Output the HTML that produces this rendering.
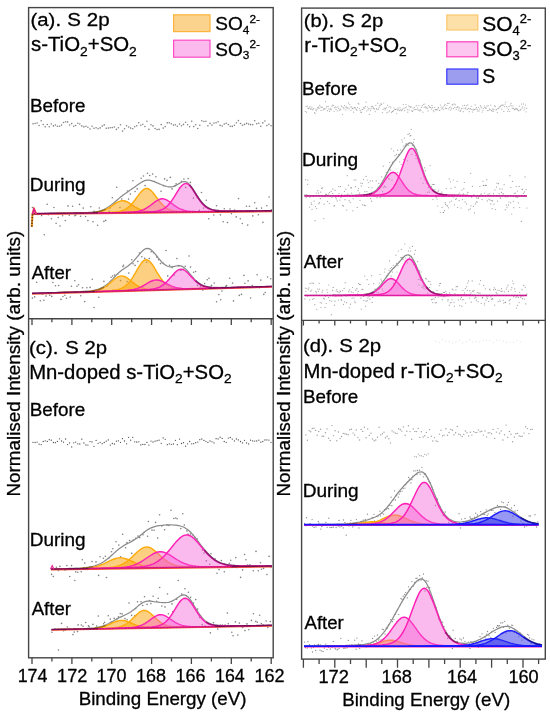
<!DOCTYPE html>
<html lang="en"><head><meta charset="utf-8"><title>S 2p XPS spectra</title>
<style>html,body{margin:0;padding:0;background:#fff}svg{display:block}text{font-family:"Liberation Sans",Arial,Helvetica,sans-serif;fill:#000}</style>
</head><body>
<svg width="550" height="716" viewBox="0 0 550 716">
<rect width="550" height="716" fill="#fff"/>
<g fill="#777" fill-opacity="0.9">
<circle cx="33" cy="123.8" r="0.8"/><circle cx="35.1" cy="123.5" r="0.8"/><circle cx="37.1" cy="123" r="0.8"/><circle cx="39.1" cy="125.5" r="0.8"/><circle cx="41.2" cy="120.7" r="0.8"/><circle cx="43.2" cy="124.5" r="0.8"/><circle cx="45.2" cy="126.8" r="0.8"/><circle cx="47.3" cy="124.5" r="0.8"/><circle cx="49.3" cy="126.7" r="0.8"/><circle cx="51.3" cy="124" r="0.8"/><circle cx="53.4" cy="125.9" r="0.8"/><circle cx="55.4" cy="125" r="0.8"/><circle cx="57.4" cy="126.3" r="0.8"/><circle cx="59.5" cy="126.3" r="0.8"/><circle cx="61.5" cy="125.1" r="0.8"/><circle cx="63.5" cy="122.5" r="0.8"/><circle cx="65.6" cy="121.8" r="0.8"/><circle cx="67.6" cy="121.9" r="0.8"/><circle cx="69.6" cy="125" r="0.8"/><circle cx="71.7" cy="123.6" r="0.8"/><circle cx="73.7" cy="126.2" r="0.8"/><circle cx="75.7" cy="125.5" r="0.8"/><circle cx="77.8" cy="123.3" r="0.8"/><circle cx="79.8" cy="124" r="0.8"/><circle cx="81.8" cy="125.9" r="0.8"/><circle cx="83.9" cy="126.9" r="0.8"/><circle cx="85.9" cy="126.3" r="0.8"/><circle cx="87.9" cy="127.3" r="0.8"/><circle cx="90" cy="129" r="0.8"/><circle cx="92" cy="126.2" r="0.8"/><circle cx="94" cy="128.2" r="0.8"/><circle cx="96.1" cy="127.7" r="0.8"/><circle cx="98.1" cy="128.8" r="0.8"/><circle cx="100.1" cy="127.9" r="0.8"/><circle cx="102.2" cy="126.1" r="0.8"/><circle cx="104.2" cy="124.9" r="0.8"/><circle cx="106.2" cy="128.3" r="0.8"/><circle cx="108.3" cy="128.1" r="0.8"/><circle cx="110.3" cy="127.8" r="0.8"/><circle cx="112.3" cy="127.6" r="0.8"/><circle cx="114.4" cy="127" r="0.8"/><circle cx="116.4" cy="129.4" r="0.8"/><circle cx="118.4" cy="127.7" r="0.8"/><circle cx="120.5" cy="124.7" r="0.8"/><circle cx="122.5" cy="131.1" r="0.8"/><circle cx="124.5" cy="128.8" r="0.8"/><circle cx="126.6" cy="125.7" r="0.8"/><circle cx="128.6" cy="127" r="0.8"/><circle cx="130.6" cy="128.1" r="0.8"/><circle cx="132.7" cy="128.7" r="0.8"/><circle cx="134.7" cy="126.7" r="0.8"/><circle cx="136.7" cy="125.7" r="0.8"/><circle cx="138.8" cy="122.7" r="0.8"/><circle cx="140.8" cy="125.3" r="0.8"/><circle cx="142.8" cy="124.2" r="0.8"/><circle cx="144.9" cy="126.5" r="0.8"/><circle cx="146.9" cy="121.3" r="0.8"/><circle cx="148.9" cy="129.4" r="0.8"/><circle cx="151" cy="124.8" r="0.8"/><circle cx="153" cy="125.9" r="0.8"/><circle cx="155.1" cy="128.5" r="0.8"/><circle cx="157.1" cy="129.5" r="0.8"/><circle cx="159.1" cy="129.4" r="0.8"/><circle cx="161.2" cy="124.6" r="0.8"/><circle cx="163.2" cy="128.1" r="0.8"/><circle cx="165.2" cy="126.6" r="0.8"/><circle cx="167.3" cy="122.9" r="0.8"/><circle cx="169.3" cy="122.7" r="0.8"/><circle cx="171.3" cy="123.7" r="0.8"/><circle cx="173.4" cy="125.1" r="0.8"/><circle cx="175.4" cy="124.7" r="0.8"/><circle cx="177.4" cy="126.2" r="0.8"/><circle cx="179.5" cy="124" r="0.8"/><circle cx="181.5" cy="125.7" r="0.8"/><circle cx="183.5" cy="124.4" r="0.8"/><circle cx="185.6" cy="122.2" r="0.8"/><circle cx="187.6" cy="124.7" r="0.8"/><circle cx="189.6" cy="126.7" r="0.8"/><circle cx="191.7" cy="121.3" r="0.8"/><circle cx="193.7" cy="126.6" r="0.8"/><circle cx="195.7" cy="124.7" r="0.8"/><circle cx="197.8" cy="128.5" r="0.8"/><circle cx="199.8" cy="125.2" r="0.8"/><circle cx="201.8" cy="120.7" r="0.8"/><circle cx="203.9" cy="121.5" r="0.8"/><circle cx="205.9" cy="121.2" r="0.8"/><circle cx="207.9" cy="125.7" r="0.8"/><circle cx="210" cy="123.4" r="0.8"/><circle cx="212" cy="125.1" r="0.8"/><circle cx="214" cy="123" r="0.8"/><circle cx="216.1" cy="122.8" r="0.8"/><circle cx="218.1" cy="121.8" r="0.8"/><circle cx="220.1" cy="125.4" r="0.8"/><circle cx="222.2" cy="126" r="0.8"/><circle cx="224.2" cy="124.1" r="0.8"/><circle cx="226.2" cy="123.2" r="0.8"/><circle cx="228.3" cy="124.6" r="0.8"/><circle cx="230.3" cy="126.3" r="0.8"/><circle cx="232.3" cy="126.4" r="0.8"/><circle cx="234.4" cy="125.2" r="0.8"/><circle cx="236.4" cy="122.8" r="0.8"/><circle cx="238.4" cy="120.6" r="0.8"/><circle cx="240.5" cy="123.5" r="0.8"/><circle cx="242.5" cy="125.3" r="0.8"/><circle cx="244.5" cy="124.4" r="0.8"/><circle cx="246.6" cy="123.4" r="0.8"/><circle cx="248.6" cy="124.1" r="0.8"/><circle cx="250.6" cy="124.6" r="0.8"/><circle cx="252.7" cy="124.8" r="0.8"/><circle cx="254.7" cy="120.8" r="0.8"/><circle cx="256.7" cy="123.7" r="0.8"/><circle cx="258.8" cy="123.3" r="0.8"/><circle cx="260.8" cy="126.2" r="0.8"/><circle cx="262.8" cy="122.9" r="0.8"/><circle cx="264.9" cy="121" r="0.8"/><circle cx="266.9" cy="125.6" r="0.8"/><circle cx="268.9" cy="124.2" r="0.8"/><circle cx="271" cy="125.8" r="0.8"/>
</g>
<g fill="#555" fill-opacity="0.75">
<circle cx="32.4" cy="207.6" r="0.8"/><circle cx="35.4" cy="211.9" r="0.8"/><circle cx="37.7" cy="214.5" r="0.8"/><circle cx="40.4" cy="213.9" r="0.8"/><circle cx="41.6" cy="215.6" r="0.8"/><circle cx="44.3" cy="234.8" r="0.8"/><circle cx="47.2" cy="204.2" r="0.8"/><circle cx="48.3" cy="214.8" r="0.8"/><circle cx="51.4" cy="218.7" r="0.8"/><circle cx="53.9" cy="207.5" r="0.8"/><circle cx="56.1" cy="223.3" r="0.8"/><circle cx="58.2" cy="217.5" r="0.8"/><circle cx="60" cy="226" r="0.8"/><circle cx="62.6" cy="215.7" r="0.8"/><circle cx="65.3" cy="220.5" r="0.8"/><circle cx="68" cy="205.9" r="0.8"/><circle cx="69.3" cy="215.2" r="0.8"/><circle cx="72.6" cy="206.3" r="0.8"/><circle cx="74.7" cy="215.8" r="0.8"/><circle cx="75.8" cy="214.9" r="0.8"/><circle cx="79.5" cy="204.4" r="0.8"/><circle cx="80.6" cy="216.3" r="0.8"/><circle cx="83.2" cy="208.1" r="0.8"/><circle cx="85.6" cy="216.5" r="0.8"/><circle cx="87.9" cy="220.6" r="0.8"/><circle cx="90.8" cy="206.7" r="0.8"/><circle cx="93" cy="221.8" r="0.8"/><circle cx="94" cy="211.4" r="0.8"/><circle cx="97.6" cy="225.2" r="0.8"/><circle cx="99.3" cy="208" r="0.8"/><circle cx="101.9" cy="213.3" r="0.8"/><circle cx="103.9" cy="221.4" r="0.8"/><circle cx="105.7" cy="220.4" r="0.8"/><circle cx="109.2" cy="211.4" r="0.8"/><circle cx="109.9" cy="208.1" r="0.8"/><circle cx="112.3" cy="197.8" r="0.8"/><circle cx="114.8" cy="203.6" r="0.8"/><circle cx="116.7" cy="187.3" r="0.8"/><circle cx="120" cy="207.5" r="0.8"/><circle cx="121.7" cy="199" r="0.8"/><circle cx="125" cy="201.3" r="0.8"/><circle cx="127.5" cy="191" r="0.8"/><circle cx="128.6" cy="199.1" r="0.8"/><circle cx="130.3" cy="194.1" r="0.8"/><circle cx="132.9" cy="180.7" r="0.8"/><circle cx="135.1" cy="191.5" r="0.8"/><circle cx="137.2" cy="188.9" r="0.8"/><circle cx="141.2" cy="178.3" r="0.8"/><circle cx="143.4" cy="176" r="0.8"/><circle cx="145" cy="185.6" r="0.8"/><circle cx="147.5" cy="173.2" r="0.8"/><circle cx="149.7" cy="175.5" r="0.8"/><circle cx="152.6" cy="174.1" r="0.8"/><circle cx="154.5" cy="181.5" r="0.8"/><circle cx="155.9" cy="176.7" r="0.8"/><circle cx="158.7" cy="200.5" r="0.8"/><circle cx="161" cy="191.2" r="0.8"/><circle cx="163.3" cy="185.8" r="0.8"/><circle cx="164.6" cy="178.9" r="0.8"/><circle cx="167" cy="180.4" r="0.8"/><circle cx="170.3" cy="177.4" r="0.8"/><circle cx="172.1" cy="188.9" r="0.8"/><circle cx="175" cy="185.7" r="0.8"/><circle cx="176.1" cy="183.9" r="0.8"/><circle cx="179.5" cy="188.1" r="0.8"/><circle cx="181.4" cy="181.2" r="0.8"/><circle cx="183.9" cy="179" r="0.8"/><circle cx="185.7" cy="187.4" r="0.8"/><circle cx="188.1" cy="178.6" r="0.8"/><circle cx="190.4" cy="182.4" r="0.8"/><circle cx="193.4" cy="198.1" r="0.8"/><circle cx="195.6" cy="194.7" r="0.8"/><circle cx="197.1" cy="197.6" r="0.8"/><circle cx="199.3" cy="210.4" r="0.8"/><circle cx="201.5" cy="192.5" r="0.8"/><circle cx="203.6" cy="208.1" r="0.8"/><circle cx="206.3" cy="200.3" r="0.8"/><circle cx="208.8" cy="218.7" r="0.8"/><circle cx="211.9" cy="212.2" r="0.8"/><circle cx="213.8" cy="215" r="0.8"/><circle cx="216.5" cy="205.8" r="0.8"/><circle cx="217.4" cy="211.8" r="0.8"/><circle cx="220.4" cy="214.9" r="0.8"/><circle cx="223.2" cy="221.7" r="0.8"/><circle cx="224.3" cy="208.7" r="0.8"/><circle cx="227.5" cy="222.5" r="0.8"/><circle cx="230" cy="209" r="0.8"/><circle cx="231.4" cy="213.7" r="0.8"/><circle cx="234.6" cy="210.1" r="0.8"/><circle cx="236.2" cy="216.9" r="0.8"/><circle cx="238.5" cy="198.6" r="0.8"/><circle cx="240.3" cy="218.8" r="0.8"/><circle cx="242.3" cy="223.5" r="0.8"/><circle cx="246.4" cy="206.3" r="0.8"/><circle cx="247.7" cy="225.1" r="0.8"/><circle cx="249.5" cy="206.3" r="0.8"/><circle cx="252.8" cy="215.9" r="0.8"/><circle cx="254.7" cy="202.7" r="0.8"/><circle cx="256.5" cy="208.4" r="0.8"/><circle cx="258.4" cy="214.8" r="0.8"/><circle cx="261.6" cy="208.1" r="0.8"/><circle cx="262.9" cy="222.4" r="0.8"/><circle cx="266.8" cy="205.7" r="0.8"/><circle cx="269.1" cy="197" r="0.8"/><circle cx="271.4" cy="209.9" r="0.8"/>
</g>
<polyline points="32,213.6 33.5,213.6 35,213.6 36.5,213.6 38,213.6 39.5,213.5 41,213.5 42.5,213.5 44,213.5 45.5,213.4 47,213.4 48.5,213.4 50,213.4 51.5,213.3 53,213.3 54.5,213.3 56,213.3 57.5,213.2 59,213.2 60.5,213.2 62,213.2 63.5,213.1 65,213.1 66.5,213.1 68,213 69.5,213 71,213 72.5,212.9 74,212.9 75.5,212.9 77,212.8 78.5,212.8 80,212.8 81.5,212.7 83,212.7 84.5,212.6 86,212.6 87.5,212.5 89,212.4 90.5,212.3 92,212.2 93.5,212.1 95,211.9 96.5,211.7 98,211.4 99.5,211 101,210.6 102.5,210.1 104,209.5 105.5,208.8 107,207.9 108.5,207 110,205.9 111.5,204.8 113,203.6 114.5,202.3 116,201 117.5,199.7 119,198.4 120.5,197.1 122,195.9 123.5,194.8 125,193.7 126.5,192.7 128,191.7 129.5,190.6 131,189.6 132.5,188.5 134,187.5 135.5,186.4 137,185.3 138.5,184.2 140,183.2 141.5,182.2 143,181.4 144.5,180.7 146,180.3 147.5,180.1 149,180.1 150.5,180.4 152,180.8 153.5,181.4 155,182 156.5,182.6 158,183.2 159.5,183.9 161,184.5 162.5,185 164,185.6 165.5,186.1 167,186.5 168.5,186.8 170,186.9 171.5,186.9 173,186.6 174.5,186.1 176,185.4 177.5,184.5 179,183.6 180.5,182.7 182,182 183.5,181.6 185,181.7 186.5,182.1 188,183.1 189.5,184.5 191,186.3 192.5,188.4 194,190.7 195.5,193.1 197,195.4 198.5,197.7 200,199.8 201.5,201.8 203,203.5 204.5,205 206,206.3 207.5,207.3 209,208.1 210.5,208.8 212,209.3 213.5,209.7 215,210 216.5,210.3 218,210.4 219.5,210.6 221,210.7 222.5,210.7 224,210.8 225.5,210.8 227,210.9 228.5,210.9 230,210.9 231.5,210.9 233,210.9 234.5,210.9 236,210.9 237.5,210.9 239,210.9 240.5,210.9 242,210.9 243.5,210.9 245,210.9 246.5,210.9 248,210.9 249.5,210.9 251,210.9 252.5,210.9 254,210.9 255.5,210.9 257,210.9 258.5,210.9 260,210.9 261.5,210.9 263,210.9 264.5,210.9 266,210.8 267.5,210.8 269,210.8 270.5,210.8 272,210.8" fill="none" stroke="#8a8a8a" stroke-width="1.25" stroke-linejoin="round"/>
<path d="M55.5,213.5L55.5,213.5L57.1,213.4L58.6,213.4L60.1,213.4L61.6,213.4L63.1,213.4L64.6,213.3L66.1,213.3L67.6,213.3L69.1,213.3L70.6,213.2L72.1,213.2L73.6,213.2L75.1,213.2L76.6,213.1L78.1,213.1L79.6,213.1L81.1,213.1L82.6,213L84.1,213L85.6,212.9L87.1,212.9L88.6,212.8L90.2,212.8L91.7,212.7L93.2,212.6L94.7,212.5L96.2,212.3L97.7,212.1L99.2,211.8L100.7,211.4L102.2,211L103.7,210.5L105.2,209.8L106.7,209.1L108.2,208.2L109.7,207.3L111.2,206.3L112.7,205.3L114.2,204.2L115.7,203.2L117.2,202.4L118.7,201.6L120.2,201.1L121.7,200.8L123.3,200.8L124.8,201L126.3,201.5L127.8,202.2L129.3,203.1L130.8,204L132.3,205.1L133.8,206.1L135.3,207L136.8,207.9L138.3,208.7L139.8,209.4L141.3,210L142.8,210.5L144.3,210.9L145.8,211.3L147.3,211.5L148.8,211.7L150.3,211.8L151.8,211.9L153.3,212L154.8,212L156.4,212.1L157.9,212.1L159.4,212.1L160.9,212.1L162.4,212.1L163.9,212.1L165.4,212.1L166.9,212.1L168.4,212.1L169.9,212.1L171.4,212L172.9,212L174.4,212L175.9,212L177.4,212L178.9,212L180.4,212L181.9,212L183.4,212L184.9,211.9L186.4,211.9L187.9,211.9L189.4,211.9L189.4,212Z" fill="#fba204" fill-opacity="0.5" stroke="none"/>
<path d="M55.5,213.5L57.1,213.4L58.6,213.4L60.1,213.4L61.6,213.4L63.1,213.4L64.6,213.3L66.1,213.3L67.6,213.3L69.1,213.3L70.6,213.2L72.1,213.2L73.6,213.2L75.1,213.2L76.6,213.1L78.1,213.1L79.6,213.1L81.1,213.1L82.6,213L84.1,213L85.6,212.9L87.1,212.9L88.6,212.8L90.2,212.8L91.7,212.7L93.2,212.6L94.7,212.5L96.2,212.3L97.7,212.1L99.2,211.8L100.7,211.4L102.2,211L103.7,210.5L105.2,209.8L106.7,209.1L108.2,208.2L109.7,207.3L111.2,206.3L112.7,205.3L114.2,204.2L115.7,203.2L117.2,202.4L118.7,201.6L120.2,201.1L121.7,200.8L123.3,200.8L124.8,201L126.3,201.5L127.8,202.2L129.3,203.1L130.8,204L132.3,205.1L133.8,206.1L135.3,207L136.8,207.9L138.3,208.7L139.8,209.4L141.3,210L142.8,210.5L144.3,210.9L145.8,211.3L147.3,211.5L148.8,211.7L150.3,211.8L151.8,211.9L153.3,212L154.8,212L156.4,212.1L157.9,212.1L159.4,212.1L160.9,212.1L162.4,212.1L163.9,212.1L165.4,212.1L166.9,212.1L168.4,212.1L169.9,212.1L171.4,212L172.9,212L174.4,212L175.9,212L177.4,212L178.9,212L180.4,212L181.9,212L183.4,212L184.9,211.9L186.4,211.9L187.9,211.9L189.4,211.9" fill="none" stroke="#ffab0c" stroke-width="1.45" stroke-linejoin="round"/>
<path d="M79.6,213.2L79.6,213.1L81.2,213.1L82.7,213.1L84.2,213L85.7,213L87.2,213L88.7,213L90.2,212.9L91.7,212.9L93.2,212.9L94.7,212.8L96.2,212.8L97.7,212.8L99.2,212.7L100.7,212.7L102.2,212.7L103.7,212.6L105.2,212.6L106.7,212.6L108.2,212.5L109.7,212.4L111.2,212.4L112.7,212.3L114.3,212.2L115.8,212L117.3,211.8L118.8,211.6L120.3,211.3L121.8,210.8L123.3,210.3L124.8,209.6L126.3,208.7L127.8,207.7L129.3,206.4L130.8,205L132.3,203.3L133.8,201.5L135.3,199.5L136.8,197.4L138.3,195.4L139.8,193.4L141.3,191.6L142.8,190.2L144.3,189.1L145.8,188.5L147.4,188.5L148.9,189L150.4,190.1L151.9,191.5L153.4,193.2L154.9,195.2L156.4,197.2L157.9,199.2L159.4,201.2L160.9,203L162.4,204.6L163.9,206L165.4,207.3L166.9,208.3L168.4,209.1L169.9,209.8L171.4,210.3L172.9,210.6L174.4,210.9L175.9,211.1L177.4,211.3L178.9,211.4L180.5,211.5L182,211.5L183.5,211.6L185,211.6L186.5,211.6L188,211.6L189.5,211.6L191,211.6L192.5,211.6L194,211.6L195.5,211.6L197,211.6L198.5,211.6L200,211.6L201.5,211.6L203,211.6L204.5,211.6L206,211.6L207.5,211.6L209,211.6L210.5,211.6L212,211.6L213.6,211.5L213.6,211.7Z" fill="#fba204" fill-opacity="0.5" stroke="none"/>
<path d="M79.6,213.1L81.2,213.1L82.7,213.1L84.2,213L85.7,213L87.2,213L88.7,213L90.2,212.9L91.7,212.9L93.2,212.9L94.7,212.8L96.2,212.8L97.7,212.8L99.2,212.7L100.7,212.7L102.2,212.7L103.7,212.6L105.2,212.6L106.7,212.6L108.2,212.5L109.7,212.4L111.2,212.4L112.7,212.3L114.3,212.2L115.8,212L117.3,211.8L118.8,211.6L120.3,211.3L121.8,210.8L123.3,210.3L124.8,209.6L126.3,208.7L127.8,207.7L129.3,206.4L130.8,205L132.3,203.3L133.8,201.5L135.3,199.5L136.8,197.4L138.3,195.4L139.8,193.4L141.3,191.6L142.8,190.2L144.3,189.1L145.8,188.5L147.4,188.5L148.9,189L150.4,190.1L151.9,191.5L153.4,193.2L154.9,195.2L156.4,197.2L157.9,199.2L159.4,201.2L160.9,203L162.4,204.6L163.9,206L165.4,207.3L166.9,208.3L168.4,209.1L169.9,209.8L171.4,210.3L172.9,210.6L174.4,210.9L175.9,211.1L177.4,211.3L178.9,211.4L180.5,211.5L182,211.5L183.5,211.6L185,211.6L186.5,211.6L188,211.6L189.5,211.6L191,211.6L192.5,211.6L194,211.6L195.5,211.6L197,211.6L198.5,211.6L200,211.6L201.5,211.6L203,211.6L204.5,211.6L206,211.6L207.5,211.6L209,211.6L210.5,211.6L212,211.6L213.6,211.5" fill="none" stroke="#ffab0c" stroke-width="1.45" stroke-linejoin="round"/>
<path d="M95.2,213.1L95.2,213L96.8,213L98.3,212.9L99.8,212.9L101.3,212.9L102.8,212.9L104.3,212.9L105.8,212.8L107.3,212.8L108.8,212.8L110.3,212.8L111.8,212.7L113.3,212.7L114.8,212.7L116.3,212.7L117.8,212.6L119.3,212.6L120.8,212.6L122.3,212.5L123.8,212.5L125.3,212.5L126.8,212.4L128.3,212.3L129.9,212.3L131.4,212.2L132.9,212.1L134.4,211.9L135.9,211.7L137.4,211.5L138.9,211.2L140.4,210.8L141.9,210.3L143.4,209.7L144.9,209L146.4,208.1L147.9,207.2L149.4,206.2L150.9,205L152.4,203.9L153.9,202.7L155.4,201.6L156.9,200.6L158.4,199.8L159.9,199.2L161.4,198.8L163,198.8L164.5,199.1L166,199.7L167.5,200.5L169,201.4L170.5,202.5L172,203.6L173.5,204.8L175,205.9L176.5,206.9L178,207.8L179.5,208.6L181,209.3L182.5,209.8L184,210.3L185.5,210.6L187,210.9L188.5,211.1L190,211.3L191.5,211.4L193,211.5L194.5,211.5L196.1,211.6L197.6,211.6L199.1,211.6L200.6,211.6L202.1,211.6L203.6,211.6L205.1,211.6L206.6,211.6L208.1,211.6L209.6,211.6L211.1,211.6L212.6,211.6L214.1,211.5L215.6,211.5L217.1,211.5L218.6,211.5L220.1,211.5L221.6,211.5L223.1,211.5L224.6,211.5L226.1,211.5L227.6,211.4L229.1,211.4L229.1,211.5Z" fill="#f65ad5" fill-opacity="0.42" stroke="none"/>
<path d="M95.2,213L96.8,213L98.3,212.9L99.8,212.9L101.3,212.9L102.8,212.9L104.3,212.9L105.8,212.8L107.3,212.8L108.8,212.8L110.3,212.8L111.8,212.7L113.3,212.7L114.8,212.7L116.3,212.7L117.8,212.6L119.3,212.6L120.8,212.6L122.3,212.5L123.8,212.5L125.3,212.5L126.8,212.4L128.3,212.3L129.9,212.3L131.4,212.2L132.9,212.1L134.4,211.9L135.9,211.7L137.4,211.5L138.9,211.2L140.4,210.8L141.9,210.3L143.4,209.7L144.9,209L146.4,208.1L147.9,207.2L149.4,206.2L150.9,205L152.4,203.9L153.9,202.7L155.4,201.6L156.9,200.6L158.4,199.8L159.9,199.2L161.4,198.8L163,198.8L164.5,199.1L166,199.7L167.5,200.5L169,201.4L170.5,202.5L172,203.6L173.5,204.8L175,205.9L176.5,206.9L178,207.8L179.5,208.6L181,209.3L182.5,209.8L184,210.3L185.5,210.6L187,210.9L188.5,211.1L190,211.3L191.5,211.4L193,211.5L194.5,211.5L196.1,211.6L197.6,211.6L199.1,211.6L200.6,211.6L202.1,211.6L203.6,211.6L205.1,211.6L206.6,211.6L208.1,211.6L209.6,211.6L211.1,211.6L212.6,211.6L214.1,211.5L215.6,211.5L217.1,211.5L218.6,211.5L220.1,211.5L221.6,211.5L223.1,211.5L224.6,211.5L226.1,211.5L227.6,211.4L229.1,211.4" fill="none" stroke="#ff1fb4" stroke-width="1.45" stroke-linejoin="round"/>
<path d="M118.7,212.8L118.7,212.6L120.3,212.6L121.8,212.6L123.3,212.5L124.8,212.5L126.3,212.5L127.8,212.5L129.3,212.4L130.8,212.4L132.3,212.4L133.8,212.3L135.3,212.3L136.8,212.3L138.3,212.2L139.8,212.2L141.3,212.2L142.8,212.1L144.3,212.1L145.8,212L147.3,212L148.8,211.9L150.3,211.8L151.8,211.7L153.4,211.6L154.9,211.4L156.4,211.2L157.9,210.9L159.4,210.5L160.9,210L162.4,209.4L163.9,208.6L165.4,207.6L166.9,206.3L168.4,204.8L169.9,203.1L171.4,201.1L172.9,198.9L174.4,196.6L175.9,194.1L177.4,191.7L178.9,189.3L180.4,187.2L181.9,185.5L183.4,184.3L184.9,183.6L186.5,183.6L188,184.2L189.5,185.4L191,187.1L192.5,189.2L194,191.5L195.5,193.9L197,196.3L198.5,198.6L200,200.8L201.5,202.7L203,204.4L204.5,205.9L206,207.1L207.5,208.1L209,208.8L210.5,209.4L212,209.9L213.5,210.3L215,210.5L216.5,210.7L218,210.8L219.6,210.9L221.1,211L222.6,211L224.1,211.1L225.6,211.1L227.1,211.1L228.6,211.1L230.1,211.1L231.6,211.1L233.1,211.1L234.6,211.1L236.1,211.1L237.6,211.1L239.1,211.1L240.6,211.1L242.1,211.1L243.6,211.1L245.1,211.1L246.6,211.1L248.1,211.1L249.6,211.1L251.1,211.1L252.6,211.1L252.6,211.2Z" fill="#f65ad5" fill-opacity="0.42" stroke="none"/>
<path d="M118.7,212.6L120.3,212.6L121.8,212.6L123.3,212.5L124.8,212.5L126.3,212.5L127.8,212.5L129.3,212.4L130.8,212.4L132.3,212.4L133.8,212.3L135.3,212.3L136.8,212.3L138.3,212.2L139.8,212.2L141.3,212.2L142.8,212.1L144.3,212.1L145.8,212L147.3,212L148.8,211.9L150.3,211.8L151.8,211.7L153.4,211.6L154.9,211.4L156.4,211.2L157.9,210.9L159.4,210.5L160.9,210L162.4,209.4L163.9,208.6L165.4,207.6L166.9,206.3L168.4,204.8L169.9,203.1L171.4,201.1L172.9,198.9L174.4,196.6L175.9,194.1L177.4,191.7L178.9,189.3L180.4,187.2L181.9,185.5L183.4,184.3L184.9,183.6L186.5,183.6L188,184.2L189.5,185.4L191,187.1L192.5,189.2L194,191.5L195.5,193.9L197,196.3L198.5,198.6L200,200.8L201.5,202.7L203,204.4L204.5,205.9L206,207.1L207.5,208.1L209,208.8L210.5,209.4L212,209.9L213.5,210.3L215,210.5L216.5,210.7L218,210.8L219.6,210.9L221.1,211L222.6,211L224.1,211.1L225.6,211.1L227.1,211.1L228.6,211.1L230.1,211.1L231.6,211.1L233.1,211.1L234.6,211.1L236.1,211.1L237.6,211.1L239.1,211.1L240.6,211.1L242.1,211.1L243.6,211.1L245.1,211.1L246.6,211.1L248.1,211.1L249.6,211.1L251.1,211.1L252.6,211.1" fill="none" stroke="#ff1fb4" stroke-width="1.45" stroke-linejoin="round"/>
<polyline points="0.2" fill="none" stroke="#3a3a3a" stroke-opacity="32,213.6 33.5,213.6 35,213.6 36.5,213.6 38,213.6 39.5,213.5 41,213.5 42.5,213.5 44,213.5 45.5,213.4 47,213.4 48.5,213.4 50,213.4 51.5,213.3 53,213.3 54.5,213.3 56,213.3 57.5,213.2 59,213.2 60.5,213.2 62,213.2 63.5,213.1 65,213.1 66.5,213.1 68,213 69.5,213 71,213 72.5,212.9 74,212.9 75.5,212.9 77,212.8 78.5,212.8 80,212.8 81.5,212.7 83,212.7 84.5,212.6 86,212.6 87.5,212.5 89,212.4 90.5,212.3 92,212.2 93.5,212.1 95,211.9 96.5,211.7 98,211.4 99.5,211 101,210.6 102.5,210.1 104,209.5 105.5,208.8 107,207.9 108.5,207 110,205.9 111.5,204.8 113,203.6 114.5,202.3 116,201 117.5,199.7 119,198.4 120.5,197.1 122,195.9 123.5,194.8 125,193.7 126.5,192.7 128,191.7 129.5,190.6 131,189.6 132.5,188.5 134,187.5 135.5,186.4 137,185.3 138.5,184.2 140,183.2 141.5,182.2 143,181.4 144.5,180.7 146,180.3 147.5,180.1 149,180.1 150.5,180.4 152,180.8 153.5,181.4 155,182 156.5,182.6 158,183.2 159.5,183.9 161,184.5 162.5,185 164,185.6 165.5,186.1 167,186.5 168.5,186.8 170,186.9 171.5,186.9 173,186.6 174.5,186.1 176,185.4 177.5,184.5 179,183.6 180.5,182.7 182,182 183.5,181.6 185,181.7 186.5,182.1 188,183.1 189.5,184.5 191,186.3 192.5,188.4 194,190.7 195.5,193.1 197,195.4 198.5,197.7 200,199.8 201.5,201.8 203,203.5 204.5,205 206,206.3 207.5,207.3 209,208.1 210.5,208.8 212,209.3 213.5,209.7 215,210 216.5,210.3 218,210.4 219.5,210.6 221,210.7 222.5,210.7 224,210.8 225.5,210.8 227,210.9 228.5,210.9 230,210.9 231.5,210.9 233,210.9 234.5,210.9 236,210.9 237.5,210.9 239,210.9 240.5,210.9 242,210.9 243.5,210.9 245,210.9 246.5,210.9 248,210.9 249.5,210.9 251,210.9 252.5,210.9 254,210.9 255.5,210.9 257,210.9 258.5,210.9 260,210.9 261.5,210.9 263,210.9 264.5,210.9 266,210.8 267.5,210.8 269,210.8 270.5,210.8 272,210.8" stroke-width="1.2" stroke-linejoin="round"/>
<polyline points="189.5,185 191,186.7 192.5,188.8 194,191.1 195.5,193.5 197,195.9 198.5,198.2 200,200.3 201.5,202.2 203,204 204.5,205.4 206,206.7 207.5,207.7 209,208.5 210.5,209.1 212,209.6 213.5,210 215,210.3 216.5,210.5 218,210.6 219.5,210.7" fill="none" stroke="#5c0a4e" stroke-width="1.5" stroke-opacity="0.62" stroke-linejoin="round"/>
<polyline points="93.5,212.3 95,212.2 96.5,212 98,211.7 99.5,211.4 101,211 102.5,210.5 104,209.9 105.5,209.2" fill="none" stroke="#6a4a10" stroke-width="1.5" stroke-opacity="0.62" stroke-linejoin="round"/>
<line x1="32" y1="214.4" x2="272" y2="211.6" stroke="#f0562a" stroke-width="1.3"/>
<line x1="32" y1="213.7" x2="272" y2="210.8" stroke="#e0148f" stroke-width="1.4"/>
<polyline points="32,213.6 33.5,213.5 35,213.5 36.5,213.5 38,213.5 39.5,213.5 41,213.4 42.5,213.4 44,213.4 45.5,213.4 47,213.4 48.5,213.4 50,213.3 51.5,213.3 53,213.3 54.5,213.3 56,213.3 57.5,213.3 59,213.2 60.5,213.2 62,213.2 63.5,213.2 65,213.2 66.5,213.1 68,213.1 69.5,213.1 71,213.1 72.5,213.1 74,213.1 75.5,213 77,213 78.5,213 80,213 81.5,213 83,213 84.5,212.9 86,212.9 87.5,212.9 89,212.9 90.5,212.9 92,212.9 93.5,212.8 95,212.8 96.5,212.8 98,212.8" fill="none" stroke="#560844" stroke-width="1.4" stroke-opacity="0.72"/>
<polyline points="215,211.4 216.5,211.4 218,211.4 219.5,211.4 221,211.3 222.5,211.3 224,211.3 225.5,211.3 227,211.3 228.5,211.3 230,211.2 231.5,211.2 233,211.2 234.5,211.2 236,211.2 237.5,211.2 239,211.1 240.5,211.1 242,211.1 243.5,211.1 245,211.1 246.5,211 248,211 249.5,211 251,211 252.5,211 254,211 255.5,210.9 257,210.9 258.5,210.9 260,210.9 261.5,210.9 263,210.9 264.5,210.8 266,210.8 267.5,210.8 269,210.8 270.5,210.8 272,210.8" fill="none" stroke="#560844" stroke-width="1.4" stroke-opacity="0.72"/>
<line x1="32" y1="213.8" x2="272" y2="211" stroke="#3a0828" stroke-width="1.0" stroke-dasharray="0.8 2.4" stroke-opacity="0.3"/>
<path d="M31.8,226.8L32.5,214L34,209L36.2,213.8" fill="none" stroke="#ff9a1e" stroke-width="2"/><path d="M31.8,226.8L32.5,214" fill="none" stroke="#3a2000" stroke-width="1.6" stroke-dasharray="1.5 1.3" stroke-opacity="0.8"/><path d="M32.4,214L34,209L36.2,213.8" fill="none" stroke="#e0168c" stroke-width="1.6"/>
<g fill="#555" fill-opacity="0.75">
<circle cx="32.4" cy="298.1" r="0.8"/><circle cx="34.6" cy="296.9" r="0.8"/><circle cx="36.7" cy="282.2" r="0.8"/><circle cx="40.3" cy="300.8" r="0.8"/><circle cx="42.5" cy="294.3" r="0.8"/><circle cx="43.9" cy="300.3" r="0.8"/><circle cx="46" cy="296.1" r="0.8"/><circle cx="49.7" cy="295.3" r="0.8"/><circle cx="51.8" cy="296.4" r="0.8"/><circle cx="52.9" cy="282.5" r="0.8"/><circle cx="55.4" cy="285.8" r="0.8"/><circle cx="58.7" cy="285.5" r="0.8"/><circle cx="61" cy="299.4" r="0.8"/><circle cx="62.9" cy="296.5" r="0.8"/><circle cx="64.9" cy="295.2" r="0.8"/><circle cx="66.4" cy="298.3" r="0.8"/><circle cx="70.3" cy="297" r="0.8"/><circle cx="71.4" cy="286.3" r="0.8"/><circle cx="74.8" cy="280.7" r="0.8"/><circle cx="77" cy="286.3" r="0.8"/><circle cx="78.6" cy="284.7" r="0.8"/><circle cx="80.8" cy="295.7" r="0.8"/><circle cx="82.6" cy="287.7" r="0.8"/><circle cx="84.7" cy="301.6" r="0.8"/><circle cx="86.9" cy="287.7" r="0.8"/><circle cx="90.1" cy="287.4" r="0.8"/><circle cx="92.3" cy="279.3" r="0.8"/><circle cx="94.1" cy="307.5" r="0.8"/><circle cx="96.8" cy="292.2" r="0.8"/><circle cx="98.8" cy="297.3" r="0.8"/><circle cx="101.2" cy="288" r="0.8"/><circle cx="103.9" cy="281.4" r="0.8"/><circle cx="106.8" cy="286.3" r="0.8"/><circle cx="107.8" cy="284.9" r="0.8"/><circle cx="111.1" cy="277.2" r="0.8"/><circle cx="112.6" cy="276" r="0.8"/><circle cx="114.6" cy="275.1" r="0.8"/><circle cx="117.8" cy="274" r="0.8"/><circle cx="120.5" cy="280.6" r="0.8"/><circle cx="122.9" cy="266.6" r="0.8"/><circle cx="123.5" cy="265.2" r="0.8"/><circle cx="127.1" cy="281.6" r="0.8"/><circle cx="128.8" cy="273.1" r="0.8"/><circle cx="131.8" cy="259.8" r="0.8"/><circle cx="133.1" cy="263.8" r="0.8"/><circle cx="135.1" cy="265.4" r="0.8"/><circle cx="137.8" cy="261.4" r="0.8"/><circle cx="139.4" cy="253" r="0.8"/><circle cx="141.8" cy="256.7" r="0.8"/><circle cx="144.7" cy="258.4" r="0.8"/><circle cx="146.8" cy="262.3" r="0.8"/><circle cx="149.3" cy="258.5" r="0.8"/><circle cx="151.2" cy="251.8" r="0.8"/><circle cx="153.5" cy="252.7" r="0.8"/><circle cx="156.7" cy="256.9" r="0.8"/><circle cx="158.6" cy="259.7" r="0.8"/><circle cx="160.5" cy="263.6" r="0.8"/><circle cx="163.3" cy="263.4" r="0.8"/><circle cx="166" cy="250.5" r="0.8"/><circle cx="167.7" cy="275.9" r="0.8"/><circle cx="169.6" cy="265.3" r="0.8"/><circle cx="172.2" cy="267.6" r="0.8"/><circle cx="174.2" cy="275.1" r="0.8"/><circle cx="176.9" cy="258.6" r="0.8"/><circle cx="178.3" cy="265.6" r="0.8"/><circle cx="181" cy="270.5" r="0.8"/><circle cx="183.3" cy="269.4" r="0.8"/><circle cx="185.2" cy="266.3" r="0.8"/><circle cx="189.1" cy="256" r="0.8"/><circle cx="190.5" cy="267.1" r="0.8"/><circle cx="193.6" cy="272.2" r="0.8"/><circle cx="195.6" cy="271.5" r="0.8"/><circle cx="197.5" cy="285.4" r="0.8"/><circle cx="200.5" cy="286.4" r="0.8"/><circle cx="202.8" cy="290.1" r="0.8"/><circle cx="204.6" cy="283.5" r="0.8"/><circle cx="207.2" cy="279.8" r="0.8"/><circle cx="209" cy="278.3" r="0.8"/><circle cx="211.5" cy="285.4" r="0.8"/><circle cx="214.3" cy="283" r="0.8"/><circle cx="216.6" cy="301.7" r="0.8"/><circle cx="218.9" cy="294.6" r="0.8"/><circle cx="220.7" cy="299.8" r="0.8"/><circle cx="221.9" cy="291" r="0.8"/><circle cx="225.8" cy="286.4" r="0.8"/><circle cx="226.6" cy="285.6" r="0.8"/><circle cx="229.7" cy="278.3" r="0.8"/><circle cx="232.6" cy="283.1" r="0.8"/><circle cx="233.5" cy="300.9" r="0.8"/><circle cx="235.5" cy="287.5" r="0.8"/><circle cx="239.3" cy="295.4" r="0.8"/><circle cx="241.4" cy="294.4" r="0.8"/><circle cx="243.9" cy="275.4" r="0.8"/><circle cx="244.9" cy="283.2" r="0.8"/><circle cx="248.1" cy="280.9" r="0.8"/><circle cx="250.6" cy="298" r="0.8"/><circle cx="252.3" cy="285.5" r="0.8"/><circle cx="253.8" cy="286.7" r="0.8"/><circle cx="257.1" cy="274.8" r="0.8"/><circle cx="259.4" cy="287.6" r="0.8"/><circle cx="260.8" cy="280.1" r="0.8"/><circle cx="263.8" cy="294.4" r="0.8"/><circle cx="265.2" cy="292.5" r="0.8"/><circle cx="267.6" cy="277" r="0.8"/><circle cx="270.7" cy="278.7" r="0.8"/>
</g>
<polyline points="32,293.3 33.5,293.3 35,293.2 36.5,293.2 38,293.1 39.5,293.1 41,293 42.5,293 44,292.9 45.5,292.9 47,292.8 48.5,292.8 50,292.7 51.5,292.7 53,292.6 54.5,292.6 56,292.5 57.5,292.5 59,292.4 60.5,292.4 62,292.3 63.5,292.3 65,292.2 66.5,292.1 68,292.1 69.5,292 71,292 72.5,291.9 74,291.8 75.5,291.8 77,291.7 78.5,291.6 80,291.6 81.5,291.5 83,291.4 84.5,291.3 86,291.2 87.5,291.1 89,291 90.5,290.8 92,290.7 93.5,290.4 95,290.2 96.5,289.8 98,289.4 99.5,288.9 101,288.2 102.5,287.5 104,286.6 105.5,285.6 107,284.4 108.5,283.1 110,281.6 111.5,280.1 113,278.6 114.5,277 116,275.4 117.5,273.9 119,272.5 120.5,271.2 122,270 123.5,269 125,267.9 126.5,266.9 128,265.9 129.5,264.7 131,263.5 132.5,262.1 134,260.6 135.5,258.9 137,257.2 138.5,255.4 140,253.6 141.5,251.9 143,250.5 144.5,249.3 146,248.6 147.5,248.4 149,248.6 150.5,249.4 152,250.6 153.5,252.1 155,253.8 156.5,255.7 158,257.6 159.5,259.4 161,261.2 162.5,262.7 164,264.1 165.5,265.1 167,266 168.5,266.5 170,266.8 171.5,266.8 173,266.6 174.5,266.4 176,266 177.5,265.8 179,265.7 180.5,265.9 182,266.4 183.5,267.3 185,268.5 186.5,269.9 188,271.5 189.5,273.3 191,275.1 192.5,276.9 194,278.6 195.5,280.1 197,281.5 198.5,282.8 200,283.8 201.5,284.7 203,285.4 204.5,285.9 206,286.4 207.5,286.7 209,287 210.5,287.1 212,287.3 213.5,287.3 215,287.4 216.5,287.4 218,287.4 219.5,287.5 221,287.4 222.5,287.4 224,287.4 225.5,287.4 227,287.4 228.5,287.4 230,287.4 231.5,287.3 233,287.3 234.5,287.3 236,287.3 237.5,287.2 239,287.2 240.5,287.2 242,287.1 243.5,287.1 245,287.1 246.5,287 248,287 249.5,287 251,286.9 252.5,286.9 254,286.9 255.5,286.8 257,286.8 258.5,286.8 260,286.7 261.5,286.7 263,286.7 264.5,286.6 266,286.6 267.5,286.5 269,286.5 270.5,286.5 272,286.4" fill="none" stroke="#8a8a8a" stroke-width="1.25" stroke-linejoin="round"/>
<path d="M53.8,292.9L53.8,292.8L55.3,292.7L56.8,292.7L58.3,292.6L59.8,292.6L61.3,292.5L62.8,292.5L64.3,292.5L65.8,292.4L67.3,292.4L68.8,292.3L70.3,292.3L71.8,292.2L73.3,292.1L74.8,292.1L76.3,292L77.8,292L79.3,291.9L80.8,291.9L82.3,291.8L83.8,291.7L85.3,291.7L86.8,291.6L88.4,291.5L89.9,291.4L91.4,291.2L92.9,291L94.4,290.8L95.9,290.6L97.4,290.2L98.9,289.8L100.4,289.3L101.9,288.6L103.4,287.9L104.9,287L106.4,286L107.9,284.8L109.4,283.6L110.9,282.3L112.4,281L113.9,279.7L115.4,278.5L116.9,277.5L118.4,276.7L119.9,276.1L121.4,275.9L122.9,276.1L124.4,276.5L125.9,277.2L127.4,278.2L128.9,279.3L130.4,280.5L131.9,281.7L133.4,282.9L134.9,284L136.4,285.1L137.9,286L139.4,286.8L140.9,287.5L142.4,288L143.9,288.5L145.4,288.8L146.9,289.1L148.4,289.3L149.9,289.4L151.4,289.5L152.9,289.5L154.4,289.6L156,289.6L157.5,289.6L159,289.6L160.5,289.6L162,289.5L163.5,289.5L165,289.5L166.5,289.4L168,289.4L169.5,289.4L171,289.3L172.5,289.3L174,289.3L175.5,289.2L177,289.2L178.5,289.2L180,289.1L181.5,289.1L183,289.1L184.5,289L186,289L187.5,288.9L189,288.9L189,289Z" fill="#fba204" fill-opacity="0.5" stroke="none"/>
<path d="M53.8,292.8L55.3,292.7L56.8,292.7L58.3,292.6L59.8,292.6L61.3,292.5L62.8,292.5L64.3,292.5L65.8,292.4L67.3,292.4L68.8,292.3L70.3,292.3L71.8,292.2L73.3,292.1L74.8,292.1L76.3,292L77.8,292L79.3,291.9L80.8,291.9L82.3,291.8L83.8,291.7L85.3,291.7L86.8,291.6L88.4,291.5L89.9,291.4L91.4,291.2L92.9,291L94.4,290.8L95.9,290.6L97.4,290.2L98.9,289.8L100.4,289.3L101.9,288.6L103.4,287.9L104.9,287L106.4,286L107.9,284.8L109.4,283.6L110.9,282.3L112.4,281L113.9,279.7L115.4,278.5L116.9,277.5L118.4,276.7L119.9,276.1L121.4,275.9L122.9,276.1L124.4,276.5L125.9,277.2L127.4,278.2L128.9,279.3L130.4,280.5L131.9,281.7L133.4,282.9L134.9,284L136.4,285.1L137.9,286L139.4,286.8L140.9,287.5L142.4,288L143.9,288.5L145.4,288.8L146.9,289.1L148.4,289.3L149.9,289.4L151.4,289.5L152.9,289.5L154.4,289.6L156,289.6L157.5,289.6L159,289.6L160.5,289.6L162,289.5L163.5,289.5L165,289.5L166.5,289.4L168,289.4L169.5,289.4L171,289.3L172.5,289.3L174,289.3L175.5,289.2L177,289.2L178.5,289.2L180,289.1L181.5,289.1L183,289.1L184.5,289L186,289L187.5,288.9L189,288.9" fill="none" stroke="#ffab0c" stroke-width="1.45" stroke-linejoin="round"/>
<path d="M78.6,292.2L78.6,292L80.1,291.9L81.6,291.9L83.1,291.8L84.6,291.8L86.1,291.7L87.6,291.7L89.1,291.6L90.6,291.6L92.1,291.5L93.6,291.4L95.1,291.4L96.6,291.3L98.1,291.3L99.6,291.2L101.1,291.1L102.6,291.1L104.1,291L105.6,290.9L107.1,290.8L108.6,290.7L110.1,290.6L111.6,290.5L113.2,290.3L114.7,290.2L116.2,289.9L117.7,289.6L119.2,289.2L120.7,288.7L122.2,288L123.7,287.2L125.2,286.2L126.7,284.9L128.2,283.4L129.7,281.7L131.2,279.6L132.7,277.4L134.2,274.9L135.7,272.4L137.2,269.7L138.7,267.2L140.2,264.8L141.7,262.7L143.2,261.1L144.7,260.1L146.2,259.7L147.7,260L149.2,261L150.7,262.5L152.2,264.5L153.7,266.7L155.2,269.2L156.7,271.8L158.2,274.2L159.7,276.6L161.2,278.8L162.7,280.7L164.2,282.4L165.7,283.8L167.2,285L168.7,285.9L170.2,286.7L171.7,287.2L173.2,287.7L174.7,288L176.2,288.2L177.7,288.3L179.2,288.4L180.8,288.5L182.3,288.6L183.8,288.6L185.3,288.6L186.8,288.6L188.3,288.6L189.8,288.6L191.3,288.5L192.8,288.5L194.3,288.5L195.8,288.5L197.3,288.4L198.8,288.4L200.3,288.4L201.8,288.4L203.3,288.3L204.8,288.3L206.3,288.3L207.8,288.2L209.3,288.2L210.8,288.2L212.3,288.1L213.8,288.1L213.8,288.3Z" fill="#fba204" fill-opacity="0.5" stroke="none"/>
<path d="M78.6,292L80.1,291.9L81.6,291.9L83.1,291.8L84.6,291.8L86.1,291.7L87.6,291.7L89.1,291.6L90.6,291.6L92.1,291.5L93.6,291.4L95.1,291.4L96.6,291.3L98.1,291.3L99.6,291.2L101.1,291.1L102.6,291.1L104.1,291L105.6,290.9L107.1,290.8L108.6,290.7L110.1,290.6L111.6,290.5L113.2,290.3L114.7,290.2L116.2,289.9L117.7,289.6L119.2,289.2L120.7,288.7L122.2,288L123.7,287.2L125.2,286.2L126.7,284.9L128.2,283.4L129.7,281.7L131.2,279.6L132.7,277.4L134.2,274.9L135.7,272.4L137.2,269.7L138.7,267.2L140.2,264.8L141.7,262.7L143.2,261.1L144.7,260.1L146.2,259.7L147.7,260L149.2,261L150.7,262.5L152.2,264.5L153.7,266.7L155.2,269.2L156.7,271.8L158.2,274.2L159.7,276.6L161.2,278.8L162.7,280.7L164.2,282.4L165.7,283.8L167.2,285L168.7,285.9L170.2,286.7L171.7,287.2L173.2,287.7L174.7,288L176.2,288.2L177.7,288.3L179.2,288.4L180.8,288.5L182.3,288.6L183.8,288.6L185.3,288.6L186.8,288.6L188.3,288.6L189.8,288.6L191.3,288.5L192.8,288.5L194.3,288.5L195.8,288.5L197.3,288.4L198.8,288.4L200.3,288.4L201.8,288.4L203.3,288.3L204.8,288.3L206.3,288.3L207.8,288.2L209.3,288.2L210.8,288.2L212.3,288.1L213.8,288.1" fill="none" stroke="#ffab0c" stroke-width="1.45" stroke-linejoin="round"/>
<path d="M88.6,291.9L88.6,291.8L90.1,291.8L91.6,291.7L93.1,291.7L94.6,291.6L96.1,291.6L97.6,291.5L99.1,291.5L100.6,291.4L102.1,291.4L103.6,291.3L105.1,291.3L106.6,291.3L108.1,291.2L109.6,291.2L111.1,291.1L112.6,291L114.1,291L115.6,290.9L117.1,290.9L118.6,290.8L120.1,290.8L121.6,290.7L123.2,290.6L124.7,290.5L126.2,290.4L127.7,290.3L129.2,290.1L130.7,289.9L132.2,289.7L133.7,289.4L135.2,289L136.7,288.6L138.2,288.1L139.7,287.4L141.2,286.8L142.7,286L144.2,285.2L145.7,284.3L147.2,283.4L148.7,282.5L150.2,281.7L151.7,281L153.2,280.5L154.7,280.1L156.2,279.9L157.7,280L159.2,280.3L160.7,280.7L162.2,281.4L163.7,282.1L165.2,282.9L166.7,283.7L168.2,284.5L169.7,285.2L171.2,285.9L172.7,286.5L174.2,287L175.7,287.5L177.2,287.8L178.7,288.1L180.2,288.3L181.7,288.5L183.2,288.6L184.7,288.6L186.2,288.7L187.7,288.7L189.2,288.7L190.8,288.7L192.3,288.7L193.8,288.7L195.3,288.6L196.8,288.6L198.3,288.6L199.8,288.5L201.3,288.5L202.8,288.5L204.3,288.4L205.8,288.4L207.3,288.4L208.8,288.3L210.3,288.3L211.8,288.2L213.3,288.2L214.8,288.2L216.3,288.1L217.8,288.1L219.3,288L220.8,288L222.3,288L223.8,287.9L223.8,288Z" fill="#f65ad5" fill-opacity="0.42" stroke="none"/>
<path d="M88.6,291.8L90.1,291.8L91.6,291.7L93.1,291.7L94.6,291.6L96.1,291.6L97.6,291.5L99.1,291.5L100.6,291.4L102.1,291.4L103.6,291.3L105.1,291.3L106.6,291.3L108.1,291.2L109.6,291.2L111.1,291.1L112.6,291L114.1,291L115.6,290.9L117.1,290.9L118.6,290.8L120.1,290.8L121.6,290.7L123.2,290.6L124.7,290.5L126.2,290.4L127.7,290.3L129.2,290.1L130.7,289.9L132.2,289.7L133.7,289.4L135.2,289L136.7,288.6L138.2,288.1L139.7,287.4L141.2,286.8L142.7,286L144.2,285.2L145.7,284.3L147.2,283.4L148.7,282.5L150.2,281.7L151.7,281L153.2,280.5L154.7,280.1L156.2,279.9L157.7,280L159.2,280.3L160.7,280.7L162.2,281.4L163.7,282.1L165.2,282.9L166.7,283.7L168.2,284.5L169.7,285.2L171.2,285.9L172.7,286.5L174.2,287L175.7,287.5L177.2,287.8L178.7,288.1L180.2,288.3L181.7,288.5L183.2,288.6L184.7,288.6L186.2,288.7L187.7,288.7L189.2,288.7L190.8,288.7L192.3,288.7L193.8,288.7L195.3,288.6L196.8,288.6L198.3,288.6L199.8,288.5L201.3,288.5L202.8,288.5L204.3,288.4L205.8,288.4L207.3,288.4L208.8,288.3L210.3,288.3L211.8,288.2L213.3,288.2L214.8,288.2L216.3,288.1L217.8,288.1L219.3,288L220.8,288L222.3,288L223.8,287.9" fill="none" stroke="#ff1fb4" stroke-width="1.45" stroke-linejoin="round"/>
<path d="M113.4,291.2L113.4,291L114.9,291L116.4,290.9L117.9,290.9L119.4,290.9L120.9,290.8L122.4,290.7L123.9,290.7L125.4,290.6L126.9,290.6L128.4,290.5L129.9,290.5L131.4,290.4L132.9,290.4L134.4,290.3L135.9,290.3L137.4,290.2L138.9,290.1L140.4,290.1L141.9,290L143.4,289.9L144.9,289.8L146.4,289.7L148,289.6L149.5,289.5L151,289.3L152.5,289.1L154,288.8L155.5,288.5L157,288L158.5,287.5L160,286.8L161.5,285.9L163,284.9L164.5,283.8L166,282.4L167.5,280.9L169,279.3L170.5,277.6L172,275.9L173.5,274.2L175,272.6L176.5,271.2L178,270.2L179.5,269.5L181,269.2L182.5,269.4L184,270L185.5,271L187,272.3L188.5,273.7L190,275.4L191.5,277L193,278.6L194.5,280.2L196,281.6L197.5,282.8L199,283.9L200.5,284.8L202,285.6L203.5,286.2L205,286.6L206.5,287L208,287.3L209.5,287.5L211,287.6L212.5,287.7L214,287.7L215.6,287.8L217.1,287.8L218.6,287.8L220.1,287.8L221.6,287.7L223.1,287.7L224.6,287.7L226.1,287.7L227.6,287.6L229.1,287.6L230.6,287.6L232.1,287.6L233.6,287.5L235.1,287.5L236.6,287.5L238.1,287.4L239.6,287.4L241.1,287.3L242.6,287.3L244.1,287.3L245.6,287.2L247.1,287.2L248.6,287.2L248.6,287.3Z" fill="#f65ad5" fill-opacity="0.42" stroke="none"/>
<path d="M113.4,291L114.9,291L116.4,290.9L117.9,290.9L119.4,290.9L120.9,290.8L122.4,290.7L123.9,290.7L125.4,290.6L126.9,290.6L128.4,290.5L129.9,290.5L131.4,290.4L132.9,290.4L134.4,290.3L135.9,290.3L137.4,290.2L138.9,290.1L140.4,290.1L141.9,290L143.4,289.9L144.9,289.8L146.4,289.7L148,289.6L149.5,289.5L151,289.3L152.5,289.1L154,288.8L155.5,288.5L157,288L158.5,287.5L160,286.8L161.5,285.9L163,284.9L164.5,283.8L166,282.4L167.5,280.9L169,279.3L170.5,277.6L172,275.9L173.5,274.2L175,272.6L176.5,271.2L178,270.2L179.5,269.5L181,269.2L182.5,269.4L184,270L185.5,271L187,272.3L188.5,273.7L190,275.4L191.5,277L193,278.6L194.5,280.2L196,281.6L197.5,282.8L199,283.9L200.5,284.8L202,285.6L203.5,286.2L205,286.6L206.5,287L208,287.3L209.5,287.5L211,287.6L212.5,287.7L214,287.7L215.6,287.8L217.1,287.8L218.6,287.8L220.1,287.8L221.6,287.7L223.1,287.7L224.6,287.7L226.1,287.7L227.6,287.6L229.1,287.6L230.6,287.6L232.1,287.6L233.6,287.5L235.1,287.5L236.6,287.5L238.1,287.4L239.6,287.4L241.1,287.3L242.6,287.3L244.1,287.3L245.6,287.2L247.1,287.2L248.6,287.2" fill="none" stroke="#ff1fb4" stroke-width="1.45" stroke-linejoin="round"/>
<polyline points="0.2" fill="none" stroke="#3a3a3a" stroke-opacity="32,293.3 33.5,293.3 35,293.2 36.5,293.2 38,293.1 39.5,293.1 41,293 42.5,293 44,292.9 45.5,292.9 47,292.8 48.5,292.8 50,292.7 51.5,292.7 53,292.6 54.5,292.6 56,292.5 57.5,292.5 59,292.4 60.5,292.4 62,292.3 63.5,292.3 65,292.2 66.5,292.1 68,292.1 69.5,292 71,292 72.5,291.9 74,291.8 75.5,291.8 77,291.7 78.5,291.6 80,291.6 81.5,291.5 83,291.4 84.5,291.3 86,291.2 87.5,291.1 89,291 90.5,290.8 92,290.7 93.5,290.4 95,290.2 96.5,289.8 98,289.4 99.5,288.9 101,288.2 102.5,287.5 104,286.6 105.5,285.6 107,284.4 108.5,283.1 110,281.6 111.5,280.1 113,278.6 114.5,277 116,275.4 117.5,273.9 119,272.5 120.5,271.2 122,270 123.5,269 125,267.9 126.5,266.9 128,265.9 129.5,264.7 131,263.5 132.5,262.1 134,260.6 135.5,258.9 137,257.2 138.5,255.4 140,253.6 141.5,251.9 143,250.5 144.5,249.3 146,248.6 147.5,248.4 149,248.6 150.5,249.4 152,250.6 153.5,252.1 155,253.8 156.5,255.7 158,257.6 159.5,259.4 161,261.2 162.5,262.7 164,264.1 165.5,265.1 167,266 168.5,266.5 170,266.8 171.5,266.8 173,266.6 174.5,266.4 176,266 177.5,265.8 179,265.7 180.5,265.9 182,266.4 183.5,267.3 185,268.5 186.5,269.9 188,271.5 189.5,273.3 191,275.1 192.5,276.9 194,278.6 195.5,280.1 197,281.5 198.5,282.8 200,283.8 201.5,284.7 203,285.4 204.5,285.9 206,286.4 207.5,286.7 209,287 210.5,287.1 212,287.3 213.5,287.3 215,287.4 216.5,287.4 218,287.4 219.5,287.5 221,287.4 222.5,287.4 224,287.4 225.5,287.4 227,287.4 228.5,287.4 230,287.4 231.5,287.3 233,287.3 234.5,287.3 236,287.3 237.5,287.2 239,287.2 240.5,287.2 242,287.1 243.5,287.1 245,287.1 246.5,287 248,287 249.5,287 251,286.9 252.5,286.9 254,286.9 255.5,286.8 257,286.8 258.5,286.8 260,286.7 261.5,286.7 263,286.7 264.5,286.6 266,286.6 267.5,286.5 269,286.5 270.5,286.5 272,286.4" stroke-width="1.2" stroke-linejoin="round"/>
<polyline points="195.5,280.6 197,282 198.5,283.2 200,284.2 201.5,285 203,285.7 204.5,286.2 206,286.6 207.5,286.9 209,287.2 210.5,287.3 212,287.4" fill="none" stroke="#5c0a4e" stroke-width="1.5" stroke-opacity="0.62" stroke-linejoin="round"/>
<polyline points="92,290.9 93.5,290.7 95,290.4 96.5,290.1 98,289.7 99.5,289.2 101,288.6 102.5,287.9 104,287" fill="none" stroke="#6a4a10" stroke-width="1.5" stroke-opacity="0.62" stroke-linejoin="round"/>
<line x1="32" y1="294.1" x2="272" y2="287.2" stroke="#f0562a" stroke-width="1.3"/>
<line x1="32" y1="293.4" x2="272" y2="286.5" stroke="#e0148f" stroke-width="1.4"/>
<polyline points="32,293.2 33.5,293.2 35,293.2 36.5,293.1 38,293.1 39.5,293 41,293 42.5,292.9 44,292.9 45.5,292.9 47,292.8 48.5,292.8 50,292.7 51.5,292.7 53,292.6 54.5,292.6 56,292.6 57.5,292.5 59,292.5 60.5,292.4 62,292.4 63.5,292.3 65,292.3 66.5,292.3 68,292.2 69.5,292.2 71,292.1 72.5,292.1 74,292 75.5,292 77,292 78.5,291.9 80,291.9 81.5,291.8 83,291.8 84.5,291.7 86,291.7 87.5,291.7 89,291.6 90.5,291.6 92,291.5 93.5,291.5 95,291.4" fill="none" stroke="#560844" stroke-width="1.4" stroke-opacity="0.72"/>
<polyline points="209,288.2 210.5,288.1 212,288.1 213.5,288 215,288 216.5,287.9 218,287.9 219.5,287.9 221,287.8 222.5,287.8 224,287.7 225.5,287.7 227,287.6 228.5,287.6 230,287.6 231.5,287.5 233,287.5 234.5,287.4 236,287.4 237.5,287.3 239,287.3 240.5,287.3 242,287.2 243.5,287.2 245,287.1 246.5,287.1 248,287 249.5,287 251,287 252.5,286.9 254,286.9 255.5,286.8 257,286.8 258.5,286.7 260,286.7 261.5,286.7 263,286.6 264.5,286.6 266,286.5 267.5,286.5 269,286.4 270.5,286.4 272,286.4" fill="none" stroke="#560844" stroke-width="1.4" stroke-opacity="0.72"/>
<line x1="32" y1="293.5" x2="272" y2="286.6" stroke="#3a0828" stroke-width="1.0" stroke-dasharray="0.8 2.4" stroke-opacity="0.3"/>
<g fill="#808080" fill-opacity="0.62">
<circle cx="305.3" cy="111.5" r="0.6"/><circle cx="306" cy="106.4" r="0.6"/><circle cx="306.6" cy="112.2" r="0.6"/><circle cx="307.3" cy="106.1" r="0.6"/><circle cx="307.9" cy="108.2" r="0.6"/><circle cx="308.6" cy="108.6" r="0.6"/><circle cx="309.2" cy="108" r="0.6"/><circle cx="309.9" cy="106.9" r="0.6"/><circle cx="310.6" cy="109.1" r="0.6"/><circle cx="311.2" cy="108.9" r="0.6"/><circle cx="311.9" cy="107.1" r="0.6"/><circle cx="312.5" cy="109.8" r="0.6"/><circle cx="313.2" cy="109" r="0.6"/><circle cx="313.8" cy="108.5" r="0.6"/><circle cx="314.5" cy="112.7" r="0.6"/><circle cx="315.1" cy="113.3" r="0.6"/><circle cx="315.8" cy="109.8" r="0.6"/><circle cx="316.4" cy="110.8" r="0.6"/><circle cx="317.1" cy="109.2" r="0.6"/><circle cx="317.7" cy="107.5" r="0.6"/><circle cx="318.4" cy="107.2" r="0.6"/><circle cx="319" cy="108.4" r="0.6"/><circle cx="319.7" cy="105.4" r="0.6"/><circle cx="320.3" cy="106.8" r="0.6"/><circle cx="321" cy="110.5" r="0.6"/><circle cx="321.6" cy="107.5" r="0.6"/><circle cx="322.3" cy="107.2" r="0.6"/><circle cx="323" cy="110" r="0.6"/><circle cx="323.6" cy="109" r="0.6"/><circle cx="324.3" cy="108.7" r="0.6"/><circle cx="324.9" cy="109" r="0.6"/><circle cx="325.6" cy="101.7" r="0.6"/><circle cx="326.2" cy="108.1" r="0.6"/><circle cx="326.9" cy="106.4" r="0.6"/><circle cx="327.5" cy="110.7" r="0.6"/><circle cx="328.2" cy="106.3" r="0.6"/><circle cx="328.8" cy="108.9" r="0.6"/><circle cx="329.5" cy="111.4" r="0.6"/><circle cx="330.1" cy="109.7" r="0.6"/><circle cx="330.8" cy="108.4" r="0.6"/><circle cx="331.4" cy="109.8" r="0.6"/><circle cx="332.1" cy="106.2" r="0.6"/><circle cx="332.8" cy="105" r="0.6"/><circle cx="333.4" cy="105.5" r="0.6"/><circle cx="334.1" cy="111.5" r="0.6"/><circle cx="334.7" cy="107.7" r="0.6"/><circle cx="335.4" cy="107" r="0.6"/><circle cx="336" cy="109.6" r="0.6"/><circle cx="336.7" cy="107.6" r="0.6"/><circle cx="337.3" cy="110.8" r="0.6"/><circle cx="338" cy="106.5" r="0.6"/><circle cx="338.6" cy="108.3" r="0.6"/><circle cx="339.3" cy="110.6" r="0.6"/><circle cx="339.9" cy="109.1" r="0.6"/><circle cx="340.6" cy="109.6" r="0.6"/><circle cx="341.2" cy="105.8" r="0.6"/><circle cx="341.9" cy="106.7" r="0.6"/><circle cx="342.5" cy="114.6" r="0.6"/><circle cx="343.2" cy="107.7" r="0.6"/><circle cx="343.9" cy="108.8" r="0.6"/><circle cx="344.5" cy="105.5" r="0.6"/><circle cx="345.2" cy="107.1" r="0.6"/><circle cx="345.8" cy="109.8" r="0.6"/><circle cx="346.5" cy="107.1" r="0.6"/><circle cx="347.1" cy="107.9" r="0.6"/><circle cx="347.8" cy="108" r="0.6"/><circle cx="348.4" cy="102.9" r="0.6"/><circle cx="349.1" cy="108.9" r="0.6"/><circle cx="349.7" cy="104.6" r="0.6"/><circle cx="350.4" cy="107" r="0.6"/><circle cx="351" cy="110.3" r="0.6"/><circle cx="351.7" cy="106.9" r="0.6"/><circle cx="352.3" cy="108.4" r="0.6"/><circle cx="353" cy="108.7" r="0.6"/><circle cx="353.6" cy="112.2" r="0.6"/><circle cx="354.3" cy="107.6" r="0.6"/><circle cx="354.9" cy="107.7" r="0.6"/><circle cx="355.6" cy="108" r="0.6"/><circle cx="356.3" cy="109.4" r="0.6"/><circle cx="356.9" cy="110.2" r="0.6"/><circle cx="357.6" cy="107.6" r="0.6"/><circle cx="358.2" cy="103.4" r="0.6"/><circle cx="358.9" cy="104.1" r="0.6"/><circle cx="359.5" cy="108.5" r="0.6"/><circle cx="360.2" cy="110.4" r="0.6"/><circle cx="360.8" cy="112.2" r="0.6"/><circle cx="361.5" cy="112.3" r="0.6"/><circle cx="362.1" cy="109.3" r="0.6"/><circle cx="362.8" cy="109.6" r="0.6"/><circle cx="363.4" cy="107.6" r="0.6"/><circle cx="364.1" cy="108.1" r="0.6"/><circle cx="364.7" cy="108" r="0.6"/><circle cx="365.4" cy="106.4" r="0.6"/><circle cx="366.1" cy="102.2" r="0.6"/><circle cx="366.7" cy="111" r="0.6"/><circle cx="367.4" cy="107" r="0.6"/><circle cx="368" cy="109.8" r="0.6"/><circle cx="368.7" cy="108.3" r="0.6"/><circle cx="369.3" cy="114.4" r="0.6"/><circle cx="370" cy="108.8" r="0.6"/><circle cx="370.6" cy="110.6" r="0.6"/><circle cx="371.3" cy="106.3" r="0.6"/><circle cx="371.9" cy="108.3" r="0.6"/><circle cx="372.6" cy="106.4" r="0.6"/><circle cx="373.2" cy="107.7" r="0.6"/><circle cx="373.9" cy="108.7" r="0.6"/><circle cx="374.5" cy="109" r="0.6"/><circle cx="375.2" cy="111.7" r="0.6"/><circle cx="375.8" cy="105.3" r="0.6"/><circle cx="376.5" cy="108.7" r="0.6"/><circle cx="377.1" cy="109.6" r="0.6"/><circle cx="377.8" cy="103.2" r="0.6"/><circle cx="378.5" cy="109.2" r="0.6"/><circle cx="379.1" cy="107.6" r="0.6"/><circle cx="379.8" cy="105.7" r="0.6"/><circle cx="380.4" cy="105" r="0.6"/><circle cx="381.1" cy="103.7" r="0.6"/><circle cx="381.7" cy="104.3" r="0.6"/><circle cx="382.4" cy="112.6" r="0.6"/><circle cx="383" cy="109.4" r="0.6"/><circle cx="383.7" cy="103" r="0.6"/><circle cx="384.3" cy="108.1" r="0.6"/><circle cx="385" cy="109.8" r="0.6"/><circle cx="385.6" cy="108.7" r="0.6"/><circle cx="386.3" cy="107.6" r="0.6"/><circle cx="386.9" cy="112.7" r="0.6"/><circle cx="387.6" cy="105.3" r="0.6"/><circle cx="388.2" cy="112" r="0.6"/><circle cx="388.9" cy="107" r="0.6"/><circle cx="389.6" cy="110.9" r="0.6"/><circle cx="390.2" cy="106.5" r="0.6"/><circle cx="390.9" cy="107.8" r="0.6"/><circle cx="391.5" cy="112.6" r="0.6"/><circle cx="392.2" cy="111.4" r="0.6"/><circle cx="392.8" cy="111.6" r="0.6"/><circle cx="393.5" cy="110.7" r="0.6"/><circle cx="394.1" cy="108" r="0.6"/><circle cx="394.8" cy="109.5" r="0.6"/><circle cx="395.4" cy="109.6" r="0.6"/><circle cx="396.1" cy="109.2" r="0.6"/><circle cx="396.7" cy="113.6" r="0.6"/><circle cx="397.4" cy="109.9" r="0.6"/><circle cx="398" cy="108.1" r="0.6"/><circle cx="398.7" cy="109.9" r="0.6"/><circle cx="399.4" cy="110.6" r="0.6"/><circle cx="400" cy="107.9" r="0.6"/><circle cx="400.7" cy="109.8" r="0.6"/><circle cx="401.3" cy="110.7" r="0.6"/><circle cx="402" cy="110" r="0.6"/><circle cx="402.6" cy="109.3" r="0.6"/><circle cx="403.3" cy="104.6" r="0.6"/><circle cx="403.9" cy="108.3" r="0.6"/><circle cx="404.6" cy="110.6" r="0.6"/><circle cx="405.2" cy="107.7" r="0.6"/><circle cx="405.9" cy="104.5" r="0.6"/><circle cx="406.5" cy="107" r="0.6"/><circle cx="407.2" cy="109.7" r="0.6"/><circle cx="407.8" cy="112.2" r="0.6"/><circle cx="408.5" cy="105.8" r="0.6"/><circle cx="409.1" cy="110.1" r="0.6"/><circle cx="409.8" cy="106.6" r="0.6"/><circle cx="410.4" cy="107.1" r="0.6"/><circle cx="411.1" cy="106.9" r="0.6"/><circle cx="411.8" cy="110.7" r="0.6"/><circle cx="412.4" cy="111.4" r="0.6"/><circle cx="413.1" cy="108" r="0.6"/><circle cx="413.7" cy="110" r="0.6"/><circle cx="414.4" cy="107.4" r="0.6"/><circle cx="415" cy="109.3" r="0.6"/><circle cx="415.7" cy="109.5" r="0.6"/><circle cx="416.3" cy="105.7" r="0.6"/><circle cx="417" cy="109.5" r="0.6"/><circle cx="417.6" cy="107.8" r="0.6"/><circle cx="418.3" cy="110.2" r="0.6"/><circle cx="418.9" cy="105.6" r="0.6"/><circle cx="419.6" cy="110.8" r="0.6"/><circle cx="420.2" cy="109.4" r="0.6"/><circle cx="420.9" cy="110.6" r="0.6"/><circle cx="421.6" cy="107.3" r="0.6"/><circle cx="422.2" cy="105.7" r="0.6"/><circle cx="422.9" cy="112.2" r="0.6"/><circle cx="423.5" cy="104.3" r="0.6"/><circle cx="424.2" cy="107.2" r="0.6"/><circle cx="424.8" cy="104" r="0.6"/><circle cx="425.5" cy="106.8" r="0.6"/><circle cx="426.1" cy="107.9" r="0.6"/><circle cx="426.8" cy="107.2" r="0.6"/><circle cx="427.4" cy="108.6" r="0.6"/><circle cx="428.1" cy="110.9" r="0.6"/><circle cx="428.7" cy="105.7" r="0.6"/><circle cx="429.4" cy="106.9" r="0.6"/><circle cx="430" cy="107.3" r="0.6"/><circle cx="430.7" cy="107.5" r="0.6"/><circle cx="431.3" cy="108.9" r="0.6"/><circle cx="432" cy="105.4" r="0.6"/><circle cx="432.6" cy="107.7" r="0.6"/><circle cx="433.3" cy="110.3" r="0.6"/><circle cx="434" cy="111.7" r="0.6"/><circle cx="434.6" cy="107.3" r="0.6"/><circle cx="435.3" cy="109.4" r="0.6"/><circle cx="435.9" cy="109.8" r="0.6"/><circle cx="436.6" cy="109.5" r="0.6"/><circle cx="437.2" cy="109.9" r="0.6"/><circle cx="437.9" cy="108" r="0.6"/><circle cx="438.5" cy="107.7" r="0.6"/><circle cx="439.2" cy="110.5" r="0.6"/><circle cx="439.8" cy="110.1" r="0.6"/><circle cx="440.5" cy="105" r="0.6"/><circle cx="441.1" cy="107.1" r="0.6"/><circle cx="441.8" cy="109" r="0.6"/><circle cx="442.4" cy="108" r="0.6"/><circle cx="443.1" cy="107" r="0.6"/><circle cx="443.8" cy="109.3" r="0.6"/><circle cx="444.4" cy="105.7" r="0.6"/><circle cx="445.1" cy="104.3" r="0.6"/><circle cx="445.7" cy="108.2" r="0.6"/><circle cx="446.4" cy="108.4" r="0.6"/><circle cx="447" cy="105.5" r="0.6"/><circle cx="447.7" cy="103.4" r="0.6"/><circle cx="448.3" cy="108.8" r="0.6"/><circle cx="449" cy="103.4" r="0.6"/><circle cx="449.6" cy="107.6" r="0.6"/><circle cx="450.3" cy="110.2" r="0.6"/><circle cx="450.9" cy="107" r="0.6"/><circle cx="451.6" cy="108.9" r="0.6"/><circle cx="452.2" cy="104.8" r="0.6"/><circle cx="452.9" cy="104.7" r="0.6"/><circle cx="453.5" cy="108.6" r="0.6"/><circle cx="454.2" cy="103.9" r="0.6"/><circle cx="454.9" cy="107.4" r="0.6"/><circle cx="455.5" cy="104.8" r="0.6"/><circle cx="456.2" cy="109.6" r="0.6"/><circle cx="456.8" cy="107.6" r="0.6"/><circle cx="457.5" cy="107.1" r="0.6"/><circle cx="458.1" cy="106.8" r="0.6"/><circle cx="458.8" cy="109.9" r="0.6"/><circle cx="459.4" cy="107.9" r="0.6"/><circle cx="460.1" cy="111.3" r="0.6"/><circle cx="460.7" cy="110.6" r="0.6"/><circle cx="461.4" cy="108.8" r="0.6"/><circle cx="462" cy="108.5" r="0.6"/><circle cx="462.7" cy="105.8" r="0.6"/><circle cx="463.3" cy="111.7" r="0.6"/><circle cx="464" cy="108.1" r="0.6"/><circle cx="464.6" cy="105.4" r="0.6"/><circle cx="465.3" cy="108.8" r="0.6"/><circle cx="465.9" cy="107.8" r="0.6"/><circle cx="466.6" cy="105.6" r="0.6"/><circle cx="467.3" cy="109.4" r="0.6"/><circle cx="467.9" cy="104.8" r="0.6"/><circle cx="468.6" cy="108.3" r="0.6"/><circle cx="469.2" cy="111.7" r="0.6"/><circle cx="469.9" cy="108.8" r="0.6"/><circle cx="470.5" cy="108.6" r="0.6"/><circle cx="471.2" cy="106.3" r="0.6"/><circle cx="471.8" cy="109.6" r="0.6"/><circle cx="472.5" cy="112" r="0.6"/><circle cx="473.1" cy="110.1" r="0.6"/><circle cx="473.8" cy="109.1" r="0.6"/><circle cx="474.4" cy="109.6" r="0.6"/><circle cx="475.1" cy="104.9" r="0.6"/><circle cx="475.7" cy="109.1" r="0.6"/><circle cx="476.4" cy="107.7" r="0.6"/><circle cx="477.1" cy="109.6" r="0.6"/><circle cx="477.7" cy="111.1" r="0.6"/><circle cx="478.4" cy="107.5" r="0.6"/><circle cx="479" cy="110.9" r="0.6"/><circle cx="479.7" cy="109" r="0.6"/><circle cx="480.3" cy="105.7" r="0.6"/><circle cx="481" cy="106.8" r="0.6"/><circle cx="481.6" cy="107.8" r="0.6"/><circle cx="482.3" cy="112" r="0.6"/><circle cx="482.9" cy="110.3" r="0.6"/><circle cx="483.6" cy="108.5" r="0.6"/><circle cx="484.2" cy="106.1" r="0.6"/><circle cx="484.9" cy="107.6" r="0.6"/><circle cx="485.5" cy="108" r="0.6"/><circle cx="486.2" cy="108.1" r="0.6"/><circle cx="486.8" cy="106.1" r="0.6"/><circle cx="487.5" cy="110.6" r="0.6"/><circle cx="488.1" cy="105.7" r="0.6"/><circle cx="488.8" cy="110.5" r="0.6"/><circle cx="489.5" cy="108.9" r="0.6"/><circle cx="490.1" cy="109.6" r="0.6"/><circle cx="490.8" cy="105.1" r="0.6"/><circle cx="491.4" cy="110.3" r="0.6"/><circle cx="492.1" cy="111.2" r="0.6"/><circle cx="492.7" cy="109.2" r="0.6"/><circle cx="493.4" cy="111.2" r="0.6"/><circle cx="494" cy="109.2" r="0.6"/><circle cx="494.7" cy="105.7" r="0.6"/><circle cx="495.3" cy="106.6" r="0.6"/><circle cx="496" cy="110.1" r="0.6"/><circle cx="496.6" cy="109.5" r="0.6"/><circle cx="497.3" cy="112.6" r="0.6"/><circle cx="497.9" cy="108.6" r="0.6"/><circle cx="498.6" cy="108.6" r="0.6"/><circle cx="499.2" cy="107" r="0.6"/><circle cx="499.9" cy="106.9" r="0.6"/><circle cx="500.6" cy="106.1" r="0.6"/><circle cx="501.2" cy="105.4" r="0.6"/><circle cx="501.9" cy="109.2" r="0.6"/><circle cx="502.5" cy="105.1" r="0.6"/><circle cx="503.2" cy="105.1" r="0.6"/><circle cx="503.8" cy="111.4" r="0.6"/><circle cx="504.5" cy="106.6" r="0.6"/><circle cx="505.1" cy="104.1" r="0.6"/><circle cx="505.8" cy="102.1" r="0.6"/><circle cx="506.4" cy="106.5" r="0.6"/><circle cx="507.1" cy="108" r="0.6"/><circle cx="507.7" cy="111.5" r="0.6"/><circle cx="508.4" cy="109.7" r="0.6"/><circle cx="509" cy="106.4" r="0.6"/><circle cx="509.7" cy="111.6" r="0.6"/><circle cx="510.4" cy="105" r="0.6"/><circle cx="511" cy="103.4" r="0.6"/><circle cx="511.7" cy="105.8" r="0.6"/><circle cx="512.3" cy="108.4" r="0.6"/><circle cx="513" cy="106" r="0.6"/><circle cx="513.6" cy="108.4" r="0.6"/><circle cx="514.3" cy="109.8" r="0.6"/><circle cx="514.9" cy="109.4" r="0.6"/><circle cx="515.6" cy="109" r="0.6"/><circle cx="516.2" cy="108.4" r="0.6"/><circle cx="516.9" cy="108.8" r="0.6"/><circle cx="517.5" cy="109.3" r="0.6"/><circle cx="518.2" cy="110.4" r="0.6"/><circle cx="518.8" cy="110.8" r="0.6"/><circle cx="519.5" cy="106.2" r="0.6"/><circle cx="520.1" cy="110.1" r="0.6"/><circle cx="520.8" cy="109.6" r="0.6"/><circle cx="521.5" cy="104.1" r="0.6"/><circle cx="522.1" cy="108.1" r="0.6"/><circle cx="522.8" cy="106.8" r="0.6"/><circle cx="523.4" cy="103.9" r="0.6"/><circle cx="524.1" cy="109.8" r="0.6"/><circle cx="524.7" cy="107.8" r="0.6"/><circle cx="525.4" cy="105.1" r="0.6"/><circle cx="526" cy="111.8" r="0.6"/><circle cx="526.7" cy="108.4" r="0.6"/>
</g>
<g fill="#666" fill-opacity="0.62">
<circle cx="304.8" cy="194.9" r="0.6"/><circle cx="305.7" cy="179.7" r="0.6"/><circle cx="306.2" cy="197.7" r="0.6"/><circle cx="306.8" cy="194.7" r="0.6"/><circle cx="307.7" cy="184.3" r="0.6"/><circle cx="307.9" cy="180.1" r="0.6"/><circle cx="308.8" cy="196" r="0.6"/><circle cx="309.5" cy="207" r="0.6"/><circle cx="309.9" cy="197.2" r="0.6"/><circle cx="311.1" cy="202.8" r="0.6"/><circle cx="311.7" cy="204.4" r="0.6"/><circle cx="312" cy="209.3" r="0.6"/><circle cx="312.9" cy="196.1" r="0.6"/><circle cx="313.7" cy="196.1" r="0.6"/><circle cx="314.1" cy="201.2" r="0.6"/><circle cx="315.1" cy="220.7" r="0.6"/><circle cx="315.4" cy="206.6" r="0.6"/><circle cx="316.3" cy="193" r="0.6"/><circle cx="316.7" cy="208.5" r="0.6"/><circle cx="317.8" cy="190.7" r="0.6"/><circle cx="318.5" cy="193.1" r="0.6"/><circle cx="318.7" cy="203.8" r="0.6"/><circle cx="319.4" cy="202.7" r="0.6"/><circle cx="320.3" cy="198.7" r="0.6"/><circle cx="320.7" cy="192.1" r="0.6"/><circle cx="321.5" cy="188.3" r="0.6"/><circle cx="322.5" cy="187.9" r="0.6"/><circle cx="323" cy="196.6" r="0.6"/><circle cx="323.8" cy="218.6" r="0.6"/><circle cx="324.1" cy="204.2" r="0.6"/><circle cx="325.1" cy="196.6" r="0.6"/><circle cx="325.8" cy="194.2" r="0.6"/><circle cx="326.3" cy="194.6" r="0.6"/><circle cx="326.8" cy="195.1" r="0.6"/><circle cx="327.5" cy="201.3" r="0.6"/><circle cx="328.5" cy="194" r="0.6"/><circle cx="329.3" cy="203.3" r="0.6"/><circle cx="329.6" cy="192.7" r="0.6"/><circle cx="330.4" cy="196.3" r="0.6"/><circle cx="331.2" cy="191.3" r="0.6"/><circle cx="331.9" cy="197.2" r="0.6"/><circle cx="332.7" cy="193.7" r="0.6"/><circle cx="332.9" cy="188.9" r="0.6"/><circle cx="334" cy="206" r="0.6"/><circle cx="334.4" cy="205.6" r="0.6"/><circle cx="335" cy="190.4" r="0.6"/><circle cx="335.7" cy="197.2" r="0.6"/><circle cx="336.3" cy="198.8" r="0.6"/><circle cx="337.2" cy="200.9" r="0.6"/><circle cx="337.6" cy="195.4" r="0.6"/><circle cx="338.7" cy="186.5" r="0.6"/><circle cx="339" cy="193.6" r="0.6"/><circle cx="339.9" cy="200.1" r="0.6"/><circle cx="340.5" cy="186.7" r="0.6"/><circle cx="340.9" cy="197.5" r="0.6"/><circle cx="341.8" cy="194.3" r="0.6"/><circle cx="342.7" cy="205.4" r="0.6"/><circle cx="343.4" cy="206.1" r="0.6"/><circle cx="343.9" cy="196.5" r="0.6"/><circle cx="344.5" cy="191.3" r="0.6"/><circle cx="345" cy="199.7" r="0.6"/><circle cx="345.9" cy="189.2" r="0.6"/><circle cx="346.8" cy="210.1" r="0.6"/><circle cx="347.2" cy="175.7" r="0.6"/><circle cx="347.9" cy="194.1" r="0.6"/><circle cx="348.5" cy="185.2" r="0.6"/><circle cx="349.2" cy="200.7" r="0.6"/><circle cx="350.2" cy="202.3" r="0.6"/><circle cx="350.9" cy="187.9" r="0.6"/><circle cx="351.2" cy="187.7" r="0.6"/><circle cx="351.7" cy="193.1" r="0.6"/><circle cx="352.8" cy="210.8" r="0.6"/><circle cx="353.2" cy="198.8" r="0.6"/><circle cx="354.1" cy="180.1" r="0.6"/><circle cx="354.8" cy="195.8" r="0.6"/><circle cx="355.4" cy="186.7" r="0.6"/><circle cx="355.9" cy="179.8" r="0.6"/><circle cx="356.8" cy="196.6" r="0.6"/><circle cx="357.2" cy="207.4" r="0.6"/><circle cx="358.1" cy="190.7" r="0.6"/><circle cx="358.4" cy="188.6" r="0.6"/><circle cx="359.5" cy="193.1" r="0.6"/><circle cx="360" cy="200.3" r="0.6"/><circle cx="360.9" cy="183.1" r="0.6"/><circle cx="361.3" cy="185.9" r="0.6"/><circle cx="362.3" cy="183.3" r="0.6"/><circle cx="362.7" cy="204.9" r="0.6"/><circle cx="363.5" cy="179.6" r="0.6"/><circle cx="364.4" cy="205.2" r="0.6"/><circle cx="364.8" cy="191.7" r="0.6"/><circle cx="365.3" cy="205.6" r="0.6"/><circle cx="366.1" cy="176.4" r="0.6"/><circle cx="366.9" cy="191.6" r="0.6"/><circle cx="367.3" cy="180" r="0.6"/><circle cx="368.3" cy="182.5" r="0.6"/><circle cx="368.8" cy="187.5" r="0.6"/><circle cx="369.6" cy="195.7" r="0.6"/><circle cx="370.3" cy="180.9" r="0.6"/><circle cx="370.6" cy="198.6" r="0.6"/><circle cx="371.6" cy="201.2" r="0.6"/><circle cx="372" cy="187.8" r="0.6"/><circle cx="372.6" cy="180.8" r="0.6"/><circle cx="373.5" cy="192.5" r="0.6"/><circle cx="374" cy="194.7" r="0.6"/><circle cx="374.8" cy="193.6" r="0.6"/><circle cx="375.3" cy="196.1" r="0.6"/><circle cx="376.2" cy="180.9" r="0.6"/><circle cx="377" cy="197.7" r="0.6"/><circle cx="377.4" cy="189" r="0.6"/><circle cx="378.2" cy="187.7" r="0.6"/><circle cx="378.8" cy="183.4" r="0.6"/><circle cx="379.8" cy="188.3" r="0.6"/><circle cx="380.2" cy="197.4" r="0.6"/><circle cx="380.7" cy="187.3" r="0.6"/><circle cx="381.7" cy="176.8" r="0.6"/><circle cx="382.6" cy="191.6" r="0.6"/><circle cx="383.2" cy="166.2" r="0.6"/><circle cx="383.7" cy="187.5" r="0.6"/><circle cx="384.3" cy="186.2" r="0.6"/><circle cx="385" cy="186.5" r="0.6"/><circle cx="385.9" cy="187.5" r="0.6"/><circle cx="386.3" cy="172.3" r="0.6"/><circle cx="387.2" cy="177.2" r="0.6"/><circle cx="387.7" cy="172" r="0.6"/><circle cx="388.4" cy="178.6" r="0.6"/><circle cx="389.3" cy="178.9" r="0.6"/><circle cx="389.7" cy="162.5" r="0.6"/><circle cx="390.3" cy="169.9" r="0.6"/><circle cx="391.3" cy="148.8" r="0.6"/><circle cx="392" cy="180.2" r="0.6"/><circle cx="392.5" cy="162.2" r="0.6"/><circle cx="393.1" cy="188.1" r="0.6"/><circle cx="393.7" cy="151" r="0.6"/><circle cx="394.4" cy="184.5" r="0.6"/><circle cx="395" cy="155.7" r="0.6"/><circle cx="395.9" cy="159.9" r="0.6"/><circle cx="396.4" cy="154.4" r="0.6"/><circle cx="397.3" cy="172.6" r="0.6"/><circle cx="397.6" cy="150.2" r="0.6"/><circle cx="398.7" cy="154.4" r="0.6"/><circle cx="399.3" cy="155.3" r="0.6"/><circle cx="399.7" cy="161.8" r="0.6"/><circle cx="400.8" cy="149.9" r="0.6"/><circle cx="401.2" cy="164.5" r="0.6"/><circle cx="401.9" cy="139.8" r="0.6"/><circle cx="402.3" cy="142" r="0.6"/><circle cx="403.3" cy="146.1" r="0.6"/><circle cx="403.8" cy="159.5" r="0.6"/><circle cx="404.4" cy="138.1" r="0.6"/><circle cx="405.2" cy="145.2" r="0.6"/><circle cx="406" cy="143.8" r="0.6"/><circle cx="406.4" cy="144.1" r="0.6"/><circle cx="407.2" cy="160.8" r="0.6"/><circle cx="408" cy="134.4" r="0.6"/><circle cx="408.3" cy="145.2" r="0.6"/><circle cx="409.3" cy="133.6" r="0.6"/><circle cx="410.1" cy="135.9" r="0.6"/><circle cx="410.8" cy="135.3" r="0.6"/><circle cx="411.2" cy="129.3" r="0.6"/><circle cx="411.8" cy="154.4" r="0.6"/><circle cx="412.5" cy="145.6" r="0.6"/><circle cx="413.5" cy="142.3" r="0.6"/><circle cx="414.1" cy="139.4" r="0.6"/><circle cx="414.8" cy="150.5" r="0.6"/><circle cx="415.6" cy="155.5" r="0.6"/><circle cx="416" cy="158.2" r="0.6"/><circle cx="416.7" cy="149.3" r="0.6"/><circle cx="417.4" cy="158.3" r="0.6"/><circle cx="418.2" cy="161.9" r="0.6"/><circle cx="418.9" cy="160.7" r="0.6"/><circle cx="419.5" cy="159" r="0.6"/><circle cx="420.2" cy="160.2" r="0.6"/><circle cx="421" cy="178.5" r="0.6"/><circle cx="421.2" cy="164.9" r="0.6"/><circle cx="422.3" cy="170.8" r="0.6"/><circle cx="423" cy="183.2" r="0.6"/><circle cx="423.6" cy="177" r="0.6"/><circle cx="424.3" cy="179.8" r="0.6"/><circle cx="424.6" cy="167.8" r="0.6"/><circle cx="425.3" cy="170.7" r="0.6"/><circle cx="426.2" cy="183.1" r="0.6"/><circle cx="426.7" cy="181.4" r="0.6"/><circle cx="427.3" cy="192.3" r="0.6"/><circle cx="428.3" cy="187.6" r="0.6"/><circle cx="429" cy="191.1" r="0.6"/><circle cx="429.4" cy="192.5" r="0.6"/><circle cx="430.2" cy="165.5" r="0.6"/><circle cx="430.8" cy="188.9" r="0.6"/><circle cx="431.3" cy="186.5" r="0.6"/><circle cx="432.3" cy="184.4" r="0.6"/><circle cx="432.9" cy="199.6" r="0.6"/><circle cx="433.6" cy="184.5" r="0.6"/><circle cx="434.1" cy="184.5" r="0.6"/><circle cx="435" cy="189.5" r="0.6"/><circle cx="435.6" cy="196.5" r="0.6"/><circle cx="436.2" cy="197.3" r="0.6"/><circle cx="437" cy="199" r="0.6"/><circle cx="437.7" cy="206" r="0.6"/><circle cx="438" cy="191.3" r="0.6"/><circle cx="438.7" cy="190.1" r="0.6"/><circle cx="439.7" cy="195.1" r="0.6"/><circle cx="440.3" cy="212.3" r="0.6"/><circle cx="440.9" cy="194.7" r="0.6"/><circle cx="441.8" cy="192.1" r="0.6"/><circle cx="442.1" cy="207.3" r="0.6"/><circle cx="443.1" cy="212.5" r="0.6"/><circle cx="443.5" cy="212.5" r="0.6"/><circle cx="444.4" cy="210.7" r="0.6"/><circle cx="445.2" cy="202.7" r="0.6"/><circle cx="445.6" cy="204.4" r="0.6"/><circle cx="446.2" cy="188.6" r="0.6"/><circle cx="447" cy="205.6" r="0.6"/><circle cx="447.6" cy="206" r="0.6"/><circle cx="448.5" cy="207.8" r="0.6"/><circle cx="449.2" cy="178.9" r="0.6"/><circle cx="449.7" cy="202.1" r="0.6"/><circle cx="450.5" cy="181.8" r="0.6"/><circle cx="451" cy="188.5" r="0.6"/><circle cx="451.5" cy="201" r="0.6"/><circle cx="452.2" cy="196.4" r="0.6"/><circle cx="453.3" cy="180" r="0.6"/><circle cx="453.5" cy="197" r="0.6"/><circle cx="454.4" cy="204.8" r="0.6"/><circle cx="455.1" cy="187.2" r="0.6"/><circle cx="455.8" cy="199.4" r="0.6"/><circle cx="456.3" cy="198.3" r="0.6"/><circle cx="457.1" cy="181.3" r="0.6"/><circle cx="457.6" cy="207.5" r="0.6"/><circle cx="458.4" cy="194.4" r="0.6"/><circle cx="459.1" cy="200.6" r="0.6"/><circle cx="459.7" cy="193" r="0.6"/><circle cx="460.7" cy="195.6" r="0.6"/><circle cx="461.1" cy="208" r="0.6"/><circle cx="462" cy="190.1" r="0.6"/><circle cx="462.5" cy="199.6" r="0.6"/><circle cx="463.3" cy="193.9" r="0.6"/><circle cx="463.8" cy="188.7" r="0.6"/><circle cx="464.4" cy="182.5" r="0.6"/><circle cx="465.1" cy="201.9" r="0.6"/><circle cx="465.7" cy="196.4" r="0.6"/><circle cx="466.5" cy="203.9" r="0.6"/><circle cx="467.2" cy="194" r="0.6"/><circle cx="467.9" cy="192.4" r="0.6"/><circle cx="468.7" cy="209.8" r="0.6"/><circle cx="469.1" cy="196.3" r="0.6"/><circle cx="470.2" cy="208.9" r="0.6"/><circle cx="470.7" cy="173.3" r="0.6"/><circle cx="471" cy="205.8" r="0.6"/><circle cx="471.7" cy="197.2" r="0.6"/><circle cx="472.4" cy="186.4" r="0.6"/><circle cx="473.4" cy="206.4" r="0.6"/><circle cx="473.9" cy="194.8" r="0.6"/><circle cx="474.5" cy="212.9" r="0.6"/><circle cx="475.3" cy="203.9" r="0.6"/><circle cx="476.3" cy="201.9" r="0.6"/><circle cx="476.5" cy="197.8" r="0.6"/><circle cx="477.3" cy="202" r="0.6"/><circle cx="478" cy="198.1" r="0.6"/><circle cx="478.6" cy="197.9" r="0.6"/><circle cx="479.7" cy="196.4" r="0.6"/><circle cx="479.9" cy="186.5" r="0.6"/><circle cx="480.8" cy="195.1" r="0.6"/><circle cx="481.2" cy="193.9" r="0.6"/><circle cx="482.1" cy="199.6" r="0.6"/><circle cx="483" cy="181.2" r="0.6"/><circle cx="483.3" cy="185.3" r="0.6"/><circle cx="483.9" cy="185.6" r="0.6"/><circle cx="484.8" cy="193.1" r="0.6"/><circle cx="485.4" cy="185.4" r="0.6"/><circle cx="486.4" cy="185.4" r="0.6"/><circle cx="486.7" cy="179.7" r="0.6"/><circle cx="487.3" cy="200.9" r="0.6"/><circle cx="488" cy="194.2" r="0.6"/><circle cx="489" cy="199.2" r="0.6"/><circle cx="489.7" cy="193.8" r="0.6"/><circle cx="490" cy="200" r="0.6"/><circle cx="490.7" cy="203.9" r="0.6"/><circle cx="491.6" cy="200.5" r="0.6"/><circle cx="492.1" cy="208.6" r="0.6"/><circle cx="492.6" cy="200.9" r="0.6"/><circle cx="493.4" cy="193.7" r="0.6"/><circle cx="494" cy="204.2" r="0.6"/><circle cx="494.9" cy="189.8" r="0.6"/><circle cx="495.6" cy="209.5" r="0.6"/><circle cx="496.5" cy="187.1" r="0.6"/><circle cx="497" cy="183.2" r="0.6"/><circle cx="497.6" cy="201.1" r="0.6"/><circle cx="498.5" cy="183.7" r="0.6"/><circle cx="499.1" cy="193.6" r="0.6"/><circle cx="499.8" cy="188.9" r="0.6"/><circle cx="500.2" cy="198" r="0.6"/><circle cx="500.8" cy="198.1" r="0.6"/><circle cx="501.5" cy="192.4" r="0.6"/><circle cx="502.1" cy="189.1" r="0.6"/><circle cx="503.1" cy="193.7" r="0.6"/><circle cx="503.4" cy="195" r="0.6"/><circle cx="504.1" cy="184.6" r="0.6"/><circle cx="505.3" cy="209.7" r="0.6"/><circle cx="505.8" cy="196.9" r="0.6"/><circle cx="506.3" cy="205.2" r="0.6"/><circle cx="507" cy="207.6" r="0.6"/><circle cx="507.9" cy="196.7" r="0.6"/><circle cx="508.5" cy="204.9" r="0.6"/><circle cx="508.9" cy="202" r="0.6"/><circle cx="509.9" cy="175.7" r="0.6"/><circle cx="510.6" cy="202.8" r="0.6"/><circle cx="510.9" cy="187.6" r="0.6"/><circle cx="511.7" cy="214" r="0.6"/><circle cx="512.4" cy="181.4" r="0.6"/><circle cx="513.3" cy="201.3" r="0.6"/><circle cx="513.8" cy="207.7" r="0.6"/><circle cx="514.2" cy="193.5" r="0.6"/><circle cx="515.3" cy="193.2" r="0.6"/><circle cx="516.1" cy="197.2" r="0.6"/><circle cx="516.2" cy="186.6" r="0.6"/><circle cx="517.4" cy="191" r="0.6"/><circle cx="517.8" cy="197.3" r="0.6"/><circle cx="518.3" cy="202.8" r="0.6"/><circle cx="519.2" cy="186.4" r="0.6"/><circle cx="519.7" cy="207.5" r="0.6"/><circle cx="520.4" cy="196.1" r="0.6"/><circle cx="521.4" cy="221.4" r="0.6"/><circle cx="522.1" cy="189.1" r="0.6"/><circle cx="522.4" cy="189.6" r="0.6"/><circle cx="523.4" cy="193.3" r="0.6"/><circle cx="523.7" cy="195.9" r="0.6"/><circle cx="524.4" cy="191.9" r="0.6"/><circle cx="525.1" cy="176.9" r="0.6"/><circle cx="526.1" cy="189.7" r="0.6"/><circle cx="526.8" cy="208" r="0.6"/>
</g>
<polyline points="304.5,195.7 306,195.7 307.5,195.7 309,195.7 310.5,195.7 312,195.7 313.5,195.7 315,195.7 316.5,195.7 318,195.7 319.5,195.7 321,195.7 322.5,195.7 324,195.6 325.5,195.6 327.1,195.6 328.6,195.6 330.1,195.6 331.6,195.6 333.1,195.6 334.6,195.6 336.1,195.6 337.6,195.5 339.1,195.5 340.6,195.5 342.1,195.5 343.6,195.5 345.1,195.4 346.6,195.4 348.1,195.4 349.6,195.4 351.1,195.3 352.6,195.3 354.1,195.3 355.6,195.2 357.1,195.2 358.6,195.1 360.1,195 361.6,194.9 363.1,194.8 364.6,194.7 366.1,194.5 367.6,194.2 369.1,193.9 370.6,193.4 372.2,192.8 373.7,191.9 375.2,190.9 376.7,189.6 378.2,188 379.7,186.1 381.2,183.9 382.7,181.4 384.2,178.7 385.7,175.9 387.2,173 388.7,170.1 390.2,167.4 391.7,164.9 393.2,162.7 394.7,160.7 396.2,158.8 397.7,157 399.2,155.2 400.7,153.3 402.2,151.2 403.7,149 405.2,146.9 406.7,145 408.2,143.6 409.7,142.9 411.2,143 412.7,144.2 414.2,146.4 415.8,149.5 417.3,153.3 418.8,157.6 420.3,162.2 421.8,166.8 423.3,171.2 424.8,175.4 426.3,179.1 427.8,182.4 429.3,185.2 430.8,187.5 432.3,189.3 433.8,190.8 435.3,191.9 436.8,192.7 438.3,193.4 439.8,193.8 441.3,194.2 442.8,194.4 444.3,194.6 445.8,194.8 447.3,194.9 448.8,195 450.3,195 451.8,195.1 453.3,195.1 454.8,195.2 456.3,195.2 457.8,195.3 459.3,195.3 460.9,195.3 462.4,195.4 463.9,195.4 465.4,195.4 466.9,195.4 468.4,195.5 469.9,195.5 471.4,195.5 472.9,195.5 474.4,195.5 475.9,195.6 477.4,195.6 478.9,195.6 480.4,195.6 481.9,195.6 483.4,195.6 484.9,195.6 486.4,195.6 487.9,195.7 489.4,195.7 490.9,195.7 492.4,195.7 493.9,195.7 495.4,195.7 496.9,195.7 498.4,195.7 499.9,195.7 501.4,195.7 502.9,195.7 504.4,195.7 506,195.7 507.5,195.7 509,195.7 510.5,195.7 512,195.8 513.5,195.8 515,195.8 516.5,195.8 518,195.8 519.5,195.8 521,195.8 522.5,195.8 524,195.8 525.5,195.8 527,195.8" fill="none" stroke="#8a8a8a" stroke-width="1.25" stroke-linejoin="round"/>
<path d="M334.5,195.9L334.5,195.8L336,195.8L337.5,195.8L339,195.7L340.5,195.7L342,195.7L343.5,195.7L345,195.7L346.5,195.7L348,195.7L349.5,195.7L351,195.6L352.5,195.6L354,195.6L355.5,195.6L357,195.6L358.5,195.5L360,195.5L361.5,195.4L363,195.4L364.5,195.3L366,195.1L367.5,194.9L369,194.7L370.5,194.3L372,193.8L373.5,193.1L375,192.2L376.5,191.1L378,189.7L379.5,188L381,186.1L382.5,184L384,181.7L385.5,179.4L387,177.2L388.5,175.2L390,173.7L391.5,172.7L393,172.3L394.5,172.7L396,173.7L397.5,175.2L399,177.2L400.5,179.4L402,181.7L403.5,184L405,186.1L406.5,188L408,189.7L409.5,191.1L411,192.2L412.5,193.1L414,193.8L415.5,194.3L417,194.7L418.5,194.9L420,195.1L421.5,195.3L423,195.4L424.5,195.4L426,195.5L427.5,195.5L429,195.6L430.5,195.6L432,195.6L433.5,195.6L435,195.6L436.5,195.7L438,195.7L439.5,195.7L441,195.7L442.5,195.7L444,195.7L445.5,195.7L447,195.7L448.5,195.8L450,195.8L451.5,195.8L451.5,195.9Z" fill="#f65ad5" fill-opacity="0.42" stroke="none"/>
<path d="M334.5,195.8L336,195.8L337.5,195.8L339,195.7L340.5,195.7L342,195.7L343.5,195.7L345,195.7L346.5,195.7L348,195.7L349.5,195.7L351,195.6L352.5,195.6L354,195.6L355.5,195.6L357,195.6L358.5,195.5L360,195.5L361.5,195.4L363,195.4L364.5,195.3L366,195.1L367.5,194.9L369,194.7L370.5,194.3L372,193.8L373.5,193.1L375,192.2L376.5,191.1L378,189.7L379.5,188L381,186.1L382.5,184L384,181.7L385.5,179.4L387,177.2L388.5,175.2L390,173.7L391.5,172.7L393,172.3L394.5,172.7L396,173.7L397.5,175.2L399,177.2L400.5,179.4L402,181.7L403.5,184L405,186.1L406.5,188L408,189.7L409.5,191.1L411,192.2L412.5,193.1L414,193.8L415.5,194.3L417,194.7L418.5,194.9L420,195.1L421.5,195.3L423,195.4L424.5,195.4L426,195.5L427.5,195.5L429,195.6L430.5,195.6L432,195.6L433.5,195.6L435,195.6L436.5,195.7L438,195.7L439.5,195.7L441,195.7L442.5,195.7L444,195.7L445.5,195.7L447,195.7L448.5,195.8L450,195.8L451.5,195.8" fill="none" stroke="#ff1fb4" stroke-width="1.45" stroke-linejoin="round"/>
<path d="M349.9,195.9L349.9,195.6L351.5,195.6L353,195.6L354.5,195.6L356,195.6L357.5,195.6L359,195.5L360.5,195.5L362,195.5L363.5,195.5L365,195.4L366.5,195.4L368,195.4L369.5,195.3L371,195.3L372.5,195.2L374,195.2L375.6,195.1L377.1,195L378.6,194.9L380.1,194.8L381.6,194.6L383.1,194.3L384.6,194L386.1,193.5L387.6,192.8L389.1,191.9L390.6,190.7L392.1,189.1L393.6,187.1L395.1,184.7L396.6,181.7L398.1,178.3L399.7,174.5L401.2,170.3L402.7,165.9L404.2,161.5L405.7,157.3L407.2,153.7L408.7,150.8L410.2,148.9L411.7,148.3L413.2,148.9L414.7,150.8L416.2,153.7L417.7,157.3L419.2,161.5L420.7,165.9L422.2,170.3L423.7,174.5L425.3,178.3L426.8,181.7L428.3,184.7L429.8,187.1L431.3,189.1L432.8,190.7L434.3,191.9L435.8,192.8L437.3,193.5L438.8,194L440.3,194.3L441.8,194.6L443.3,194.8L444.8,194.9L446.3,195L447.8,195.1L449.4,195.2L450.9,195.2L452.4,195.3L453.9,195.3L455.4,195.4L456.9,195.4L458.4,195.4L459.9,195.5L461.4,195.5L462.9,195.5L464.4,195.5L465.9,195.6L467.4,195.6L468.9,195.6L470.4,195.6L471.9,195.6L473.4,195.6L473.4,195.9Z" fill="#f65ad5" fill-opacity="0.42" stroke="none"/>
<path d="M349.9,195.6L351.5,195.6L353,195.6L354.5,195.6L356,195.6L357.5,195.6L359,195.5L360.5,195.5L362,195.5L363.5,195.5L365,195.4L366.5,195.4L368,195.4L369.5,195.3L371,195.3L372.5,195.2L374,195.2L375.6,195.1L377.1,195L378.6,194.9L380.1,194.8L381.6,194.6L383.1,194.3L384.6,194L386.1,193.5L387.6,192.8L389.1,191.9L390.6,190.7L392.1,189.1L393.6,187.1L395.1,184.7L396.6,181.7L398.1,178.3L399.7,174.5L401.2,170.3L402.7,165.9L404.2,161.5L405.7,157.3L407.2,153.7L408.7,150.8L410.2,148.9L411.7,148.3L413.2,148.9L414.7,150.8L416.2,153.7L417.7,157.3L419.2,161.5L420.7,165.9L422.2,170.3L423.7,174.5L425.3,178.3L426.8,181.7L428.3,184.7L429.8,187.1L431.3,189.1L432.8,190.7L434.3,191.9L435.8,192.8L437.3,193.5L438.8,194L440.3,194.3L441.8,194.6L443.3,194.8L444.8,194.9L446.3,195L447.8,195.1L449.4,195.2L450.9,195.2L452.4,195.3L453.9,195.3L455.4,195.4L456.9,195.4L458.4,195.4L459.9,195.5L461.4,195.5L462.9,195.5L464.4,195.5L465.9,195.6L467.4,195.6L468.9,195.6L470.4,195.6L471.9,195.6L473.4,195.6" fill="none" stroke="#ff1fb4" stroke-width="1.45" stroke-linejoin="round"/>
<polyline points="0.2" fill="none" stroke="#3a3a3a" stroke-opacity="304.5,195.7 306,195.7 307.5,195.7 309,195.7 310.5,195.7 312,195.7 313.5,195.7 315,195.7 316.5,195.7 318,195.7 319.5,195.7 321,195.7 322.5,195.7 324,195.6 325.5,195.6 327.1,195.6 328.6,195.6 330.1,195.6 331.6,195.6 333.1,195.6 334.6,195.6 336.1,195.6 337.6,195.5 339.1,195.5 340.6,195.5 342.1,195.5 343.6,195.5 345.1,195.4 346.6,195.4 348.1,195.4 349.6,195.4 351.1,195.3 352.6,195.3 354.1,195.3 355.6,195.2 357.1,195.2 358.6,195.1 360.1,195 361.6,194.9 363.1,194.8 364.6,194.7 366.1,194.5 367.6,194.2 369.1,193.9 370.6,193.4 372.2,192.8 373.7,191.9 375.2,190.9 376.7,189.6 378.2,188 379.7,186.1 381.2,183.9 382.7,181.4 384.2,178.7 385.7,175.9 387.2,173 388.7,170.1 390.2,167.4 391.7,164.9 393.2,162.7 394.7,160.7 396.2,158.8 397.7,157 399.2,155.2 400.7,153.3 402.2,151.2 403.7,149 405.2,146.9 406.7,145 408.2,143.6 409.7,142.9 411.2,143 412.7,144.2 414.2,146.4 415.8,149.5 417.3,153.3 418.8,157.6 420.3,162.2 421.8,166.8 423.3,171.2 424.8,175.4 426.3,179.1 427.8,182.4 429.3,185.2 430.8,187.5 432.3,189.3 433.8,190.8 435.3,191.9 436.8,192.7 438.3,193.4 439.8,193.8 441.3,194.2 442.8,194.4 444.3,194.6 445.8,194.8 447.3,194.9 448.8,195 450.3,195 451.8,195.1 453.3,195.1 454.8,195.2 456.3,195.2 457.8,195.3 459.3,195.3 460.9,195.3 462.4,195.4 463.9,195.4 465.4,195.4 466.9,195.4 468.4,195.5 469.9,195.5 471.4,195.5 472.9,195.5 474.4,195.5 475.9,195.6 477.4,195.6 478.9,195.6 480.4,195.6 481.9,195.6 483.4,195.6 484.9,195.6 486.4,195.6 487.9,195.7 489.4,195.7 490.9,195.7 492.4,195.7 493.9,195.7 495.4,195.7 496.9,195.7 498.4,195.7 499.9,195.7 501.4,195.7 502.9,195.7 504.4,195.7 506,195.7 507.5,195.7 509,195.7 510.5,195.7 512,195.8 513.5,195.8 515,195.8 516.5,195.8 518,195.8 519.5,195.8 521,195.8 522.5,195.8 524,195.8 525.5,195.8 527,195.8" stroke-width="1.2" stroke-linejoin="round"/>
<polyline points="363.1,195.1 364.6,195 366.1,194.8 367.6,194.6 369.1,194.3 370.6,193.8 372.2,193.2" fill="none" stroke="#5c0a4e" stroke-width="1.5" stroke-opacity="0.62" stroke-linejoin="round"/>
<polyline points="432.3,189.8 433.8,191.2 435.3,192.2 436.8,193 438.3,193.6 439.8,194 441.3,194.3 442.8,194.6 444.3,194.8 445.8,194.9 447.3,195" fill="none" stroke="#5c0a4e" stroke-width="1.5" stroke-opacity="0.62" stroke-linejoin="round"/>
<line x1="304.5" y1="195.9" x2="527" y2="195.9" stroke="#e21aa2" stroke-width="1.5"/>
<polyline points="304.5,195.9 306,195.9 307.5,195.9 309,195.9 310.5,195.9 312,195.9 313.5,195.9 315,195.9 316.5,195.9 318,195.9 319.5,195.9 321,195.9 322.5,195.9 324,195.9 325.5,195.9 327.1,195.9 328.6,195.9 330.1,195.9 331.6,195.9 333.1,195.9 334.6,195.9 336.1,195.9 337.6,195.9 339.1,195.9 340.6,195.9 342.1,195.9 343.6,195.9 345.1,195.9 346.6,195.9 348.1,195.9 349.6,195.9 351.1,195.9 352.6,195.9 354.1,195.9 355.6,195.9 357.1,195.9 358.6,195.9 360.1,195.9 361.6,195.9 363.1,195.9 364.6,195.9 366.1,195.9 367.6,195.9" fill="none" stroke="#4a0a3a" stroke-width="1.2" stroke-opacity="0.3" stroke-dasharray="1.2 1.6"/>
<polyline points="442.8,195.9 444.3,195.9 445.8,195.9 447.3,195.9 448.8,195.9 450.3,195.9 451.8,195.9 453.3,195.9 454.8,195.9 456.3,195.9 457.8,195.9 459.3,195.9 460.9,195.9 462.4,195.9 463.9,195.9 465.4,195.9 466.9,195.9 468.4,195.9 469.9,195.9 471.4,195.9 472.9,195.9 474.4,195.9 475.9,195.9 477.4,195.9 478.9,195.9 480.4,195.9 481.9,195.9 483.4,195.9 484.9,195.9 486.4,195.9 487.9,195.9 489.4,195.9 490.9,195.9 492.4,195.9 493.9,195.9 495.4,195.9 496.9,195.9 498.4,195.9 499.9,195.9 501.4,195.9 502.9,195.9 504.4,195.9 506,195.9 507.5,195.9 509,195.9 510.5,195.9 512,195.9 513.5,195.9 515,195.9 516.5,195.9 518,195.9 519.5,195.9 521,195.9 522.5,195.9 524,195.9 525.5,195.9 527,195.9" fill="none" stroke="#4a0a3a" stroke-width="1.2" stroke-opacity="0.3" stroke-dasharray="1.2 1.6"/>
<g fill="#666" fill-opacity="0.62">
<circle cx="304.9" cy="298.9" r="0.6"/><circle cx="305.3" cy="288.1" r="0.6"/><circle cx="305.8" cy="291.3" r="0.6"/><circle cx="306.9" cy="288.6" r="0.6"/><circle cx="307.4" cy="296.1" r="0.6"/><circle cx="308.3" cy="289.8" r="0.6"/><circle cx="308.9" cy="287.9" r="0.6"/><circle cx="309.6" cy="299.8" r="0.6"/><circle cx="310" cy="283.4" r="0.6"/><circle cx="310.7" cy="291.2" r="0.6"/><circle cx="311.7" cy="290" r="0.6"/><circle cx="312.1" cy="282.9" r="0.6"/><circle cx="312.6" cy="299.3" r="0.6"/><circle cx="313.5" cy="283.3" r="0.6"/><circle cx="314" cy="298.6" r="0.6"/><circle cx="314.8" cy="304.7" r="0.6"/><circle cx="315.8" cy="291.4" r="0.6"/><circle cx="316.3" cy="292.9" r="0.6"/><circle cx="316.8" cy="309.3" r="0.6"/><circle cx="317.6" cy="289" r="0.6"/><circle cx="318.3" cy="291.3" r="0.6"/><circle cx="319.2" cy="283.3" r="0.6"/><circle cx="319.3" cy="289.2" r="0.6"/><circle cx="320.2" cy="302.6" r="0.6"/><circle cx="321" cy="307.5" r="0.6"/><circle cx="321.6" cy="303" r="0.6"/><circle cx="322.1" cy="292.2" r="0.6"/><circle cx="322.8" cy="290.1" r="0.6"/><circle cx="323.6" cy="298.4" r="0.6"/><circle cx="324.5" cy="299" r="0.6"/><circle cx="325.1" cy="307.4" r="0.6"/><circle cx="325.4" cy="296.2" r="0.6"/><circle cx="326.3" cy="303.3" r="0.6"/><circle cx="326.9" cy="289.8" r="0.6"/><circle cx="327.6" cy="292.5" r="0.6"/><circle cx="328.6" cy="297.6" r="0.6"/><circle cx="328.8" cy="285" r="0.6"/><circle cx="329.7" cy="300.7" r="0.6"/><circle cx="330.7" cy="295.8" r="0.6"/><circle cx="331.3" cy="314.7" r="0.6"/><circle cx="331.8" cy="301.1" r="0.6"/><circle cx="332.6" cy="290.4" r="0.6"/><circle cx="333.2" cy="287.4" r="0.6"/><circle cx="333.9" cy="294.4" r="0.6"/><circle cx="334.4" cy="305.2" r="0.6"/><circle cx="335" cy="301.2" r="0.6"/><circle cx="335.8" cy="296.1" r="0.6"/><circle cx="336.2" cy="291" r="0.6"/><circle cx="336.9" cy="289.6" r="0.6"/><circle cx="337.7" cy="291.7" r="0.6"/><circle cx="338.5" cy="300" r="0.6"/><circle cx="339.1" cy="292.8" r="0.6"/><circle cx="340" cy="291" r="0.6"/><circle cx="340.5" cy="291.6" r="0.6"/><circle cx="341.2" cy="299.4" r="0.6"/><circle cx="341.7" cy="300.5" r="0.6"/><circle cx="342.7" cy="290.6" r="0.6"/><circle cx="343.5" cy="304.3" r="0.6"/><circle cx="344.1" cy="288.4" r="0.6"/><circle cx="344.5" cy="301.8" r="0.6"/><circle cx="345.2" cy="282.7" r="0.6"/><circle cx="346.1" cy="296" r="0.6"/><circle cx="346.5" cy="302.7" r="0.6"/><circle cx="347" cy="295.4" r="0.6"/><circle cx="347.7" cy="295.6" r="0.6"/><circle cx="348.7" cy="291.7" r="0.6"/><circle cx="349.2" cy="307.8" r="0.6"/><circle cx="349.7" cy="289.9" r="0.6"/><circle cx="350.5" cy="304.2" r="0.6"/><circle cx="351.3" cy="291.9" r="0.6"/><circle cx="352.1" cy="298.2" r="0.6"/><circle cx="352.6" cy="287.5" r="0.6"/><circle cx="353.1" cy="292.5" r="0.6"/><circle cx="354.1" cy="298" r="0.6"/><circle cx="354.7" cy="301" r="0.6"/><circle cx="355.1" cy="302.7" r="0.6"/><circle cx="355.8" cy="290.2" r="0.6"/><circle cx="356.9" cy="288.7" r="0.6"/><circle cx="357.4" cy="293.8" r="0.6"/><circle cx="358.2" cy="291.4" r="0.6"/><circle cx="358.5" cy="283.5" r="0.6"/><circle cx="359.6" cy="284.4" r="0.6"/><circle cx="360.3" cy="284.5" r="0.6"/><circle cx="360.9" cy="297.9" r="0.6"/><circle cx="361.2" cy="309.1" r="0.6"/><circle cx="362" cy="289.3" r="0.6"/><circle cx="362.9" cy="289.3" r="0.6"/><circle cx="363.5" cy="296.4" r="0.6"/><circle cx="363.9" cy="300.5" r="0.6"/><circle cx="364.7" cy="276" r="0.6"/><circle cx="365.7" cy="306.2" r="0.6"/><circle cx="366" cy="301.2" r="0.6"/><circle cx="367.1" cy="279.7" r="0.6"/><circle cx="367.2" cy="300.7" r="0.6"/><circle cx="367.9" cy="297.9" r="0.6"/><circle cx="368.8" cy="284.5" r="0.6"/><circle cx="369.2" cy="296.6" r="0.6"/><circle cx="369.9" cy="299.2" r="0.6"/><circle cx="371.1" cy="294.5" r="0.6"/><circle cx="371.6" cy="275.6" r="0.6"/><circle cx="372.1" cy="302.4" r="0.6"/><circle cx="372.7" cy="297.4" r="0.6"/><circle cx="373.6" cy="283.6" r="0.6"/><circle cx="374" cy="293.2" r="0.6"/><circle cx="374.7" cy="289.2" r="0.6"/><circle cx="375.6" cy="290" r="0.6"/><circle cx="376.1" cy="289" r="0.6"/><circle cx="377" cy="292.9" r="0.6"/><circle cx="377.5" cy="289.3" r="0.6"/><circle cx="378.3" cy="292.6" r="0.6"/><circle cx="379.2" cy="283.1" r="0.6"/><circle cx="379.5" cy="288.4" r="0.6"/><circle cx="380.1" cy="274.5" r="0.6"/><circle cx="381" cy="279.1" r="0.6"/><circle cx="381.5" cy="280.8" r="0.6"/><circle cx="382.3" cy="288.9" r="0.6"/><circle cx="382.9" cy="290.8" r="0.6"/><circle cx="383.7" cy="280.6" r="0.6"/><circle cx="384.4" cy="272" r="0.6"/><circle cx="384.9" cy="269" r="0.6"/><circle cx="385.8" cy="282" r="0.6"/><circle cx="386.4" cy="276.2" r="0.6"/><circle cx="387" cy="278" r="0.6"/><circle cx="387.8" cy="275.7" r="0.6"/><circle cx="388.2" cy="273.7" r="0.6"/><circle cx="389" cy="270.3" r="0.6"/><circle cx="389.5" cy="260.9" r="0.6"/><circle cx="390.3" cy="268.5" r="0.6"/><circle cx="391.1" cy="275.9" r="0.6"/><circle cx="391.7" cy="267.3" r="0.6"/><circle cx="392.5" cy="272" r="0.6"/><circle cx="393.2" cy="265.3" r="0.6"/><circle cx="393.6" cy="283.4" r="0.6"/><circle cx="394.2" cy="280.4" r="0.6"/><circle cx="395.3" cy="266.3" r="0.6"/><circle cx="395.9" cy="255.2" r="0.6"/><circle cx="396.5" cy="263.3" r="0.6"/><circle cx="397" cy="272" r="0.6"/><circle cx="398" cy="265.7" r="0.6"/><circle cx="398.3" cy="251" r="0.6"/><circle cx="399.2" cy="261.8" r="0.6"/><circle cx="400" cy="273.6" r="0.6"/><circle cx="400.8" cy="257.6" r="0.6"/><circle cx="401.3" cy="249.4" r="0.6"/><circle cx="401.6" cy="257.9" r="0.6"/><circle cx="402.5" cy="257.4" r="0.6"/><circle cx="403" cy="259.4" r="0.6"/><circle cx="404.1" cy="256.2" r="0.6"/><circle cx="404.8" cy="244" r="0.6"/><circle cx="405" cy="261.2" r="0.6"/><circle cx="405.7" cy="258.1" r="0.6"/><circle cx="406.3" cy="255.3" r="0.6"/><circle cx="407.4" cy="262.8" r="0.6"/><circle cx="407.8" cy="259.7" r="0.6"/><circle cx="408.4" cy="250.9" r="0.6"/><circle cx="409.5" cy="257.4" r="0.6"/><circle cx="409.9" cy="248" r="0.6"/><circle cx="410.7" cy="251.1" r="0.6"/><circle cx="411.3" cy="256.3" r="0.6"/><circle cx="412.2" cy="261.8" r="0.6"/><circle cx="412.5" cy="246.4" r="0.6"/><circle cx="413.4" cy="264" r="0.6"/><circle cx="414.2" cy="264.7" r="0.6"/><circle cx="414.5" cy="254.2" r="0.6"/><circle cx="415.4" cy="250.3" r="0.6"/><circle cx="416" cy="267.7" r="0.6"/><circle cx="416.8" cy="270.2" r="0.6"/><circle cx="417.6" cy="261.6" r="0.6"/><circle cx="418.3" cy="279.5" r="0.6"/><circle cx="418.9" cy="285.1" r="0.6"/><circle cx="419.6" cy="270.9" r="0.6"/><circle cx="419.9" cy="278.9" r="0.6"/><circle cx="420.7" cy="280.2" r="0.6"/><circle cx="421.1" cy="272" r="0.6"/><circle cx="422" cy="287.5" r="0.6"/><circle cx="422.9" cy="285.7" r="0.6"/><circle cx="423.7" cy="288.1" r="0.6"/><circle cx="423.9" cy="286.4" r="0.6"/><circle cx="425" cy="289" r="0.6"/><circle cx="425.7" cy="278.4" r="0.6"/><circle cx="426.1" cy="287.6" r="0.6"/><circle cx="426.7" cy="279.1" r="0.6"/><circle cx="427.7" cy="293.4" r="0.6"/><circle cx="428.4" cy="281.2" r="0.6"/><circle cx="428.9" cy="290.3" r="0.6"/><circle cx="429.3" cy="287.5" r="0.6"/><circle cx="430" cy="281.6" r="0.6"/><circle cx="430.7" cy="284.3" r="0.6"/><circle cx="431.5" cy="299.7" r="0.6"/><circle cx="432.4" cy="299.1" r="0.6"/><circle cx="432.7" cy="302.6" r="0.6"/><circle cx="433.3" cy="291.3" r="0.6"/><circle cx="434.1" cy="299.1" r="0.6"/><circle cx="435.1" cy="302.8" r="0.6"/><circle cx="435.4" cy="297.4" r="0.6"/><circle cx="436.4" cy="302.7" r="0.6"/><circle cx="437.1" cy="290.6" r="0.6"/><circle cx="437.7" cy="294.9" r="0.6"/><circle cx="438.2" cy="297.1" r="0.6"/><circle cx="439.1" cy="285.6" r="0.6"/><circle cx="439.9" cy="283.5" r="0.6"/><circle cx="440.2" cy="283.4" r="0.6"/><circle cx="440.7" cy="295.7" r="0.6"/><circle cx="441.9" cy="293.4" r="0.6"/><circle cx="442.3" cy="299.7" r="0.6"/><circle cx="443.1" cy="296.7" r="0.6"/><circle cx="443.6" cy="292.3" r="0.6"/><circle cx="444.5" cy="292.4" r="0.6"/><circle cx="444.9" cy="296.7" r="0.6"/><circle cx="445.8" cy="291.3" r="0.6"/><circle cx="446.3" cy="293.6" r="0.6"/><circle cx="447.1" cy="295.6" r="0.6"/><circle cx="447.9" cy="300.9" r="0.6"/><circle cx="448.1" cy="299.5" r="0.6"/><circle cx="449.3" cy="305.2" r="0.6"/><circle cx="449.7" cy="292.9" r="0.6"/><circle cx="450.2" cy="302.8" r="0.6"/><circle cx="451.2" cy="302.5" r="0.6"/><circle cx="452" cy="299.8" r="0.6"/><circle cx="452.3" cy="289.2" r="0.6"/><circle cx="453.1" cy="290" r="0.6"/><circle cx="454" cy="302.2" r="0.6"/><circle cx="454.4" cy="306.1" r="0.6"/><circle cx="454.9" cy="293.7" r="0.6"/><circle cx="455.9" cy="289.9" r="0.6"/><circle cx="456.2" cy="286.7" r="0.6"/><circle cx="457.4" cy="286.4" r="0.6"/><circle cx="457.6" cy="295.3" r="0.6"/><circle cx="458.2" cy="299.9" r="0.6"/><circle cx="459.1" cy="295.5" r="0.6"/><circle cx="459.7" cy="305.6" r="0.6"/><circle cx="460.6" cy="299.1" r="0.6"/><circle cx="461.4" cy="297.4" r="0.6"/><circle cx="461.9" cy="306.2" r="0.6"/><circle cx="462.3" cy="299.8" r="0.6"/><circle cx="463" cy="290.5" r="0.6"/><circle cx="463.7" cy="299.5" r="0.6"/><circle cx="464.5" cy="292.9" r="0.6"/><circle cx="465.3" cy="288.7" r="0.6"/><circle cx="465.7" cy="303.1" r="0.6"/><circle cx="466.6" cy="286.8" r="0.6"/><circle cx="467.3" cy="290.3" r="0.6"/><circle cx="467.8" cy="283.1" r="0.6"/><circle cx="468.6" cy="280.9" r="0.6"/><circle cx="469.4" cy="298" r="0.6"/><circle cx="469.8" cy="290.6" r="0.6"/><circle cx="470.9" cy="292.9" r="0.6"/><circle cx="471.2" cy="302.2" r="0.6"/><circle cx="472.2" cy="280.9" r="0.6"/><circle cx="472.5" cy="291.1" r="0.6"/><circle cx="473.2" cy="291.6" r="0.6"/><circle cx="474.1" cy="290.3" r="0.6"/><circle cx="474.7" cy="298.3" r="0.6"/><circle cx="475.3" cy="296.9" r="0.6"/><circle cx="476" cy="297.7" r="0.6"/><circle cx="476.4" cy="300.2" r="0.6"/><circle cx="477.2" cy="292.7" r="0.6"/><circle cx="478.1" cy="301.7" r="0.6"/><circle cx="478.9" cy="292.9" r="0.6"/><circle cx="479.3" cy="284" r="0.6"/><circle cx="480.1" cy="293.1" r="0.6"/><circle cx="480.6" cy="280.6" r="0.6"/><circle cx="481.2" cy="303.3" r="0.6"/><circle cx="482.3" cy="297.9" r="0.6"/><circle cx="482.6" cy="297.4" r="0.6"/><circle cx="483.6" cy="285.5" r="0.6"/><circle cx="484.3" cy="305" r="0.6"/><circle cx="484.6" cy="303.1" r="0.6"/><circle cx="485.3" cy="288.8" r="0.6"/><circle cx="485.9" cy="300.1" r="0.6"/><circle cx="486.7" cy="297" r="0.6"/><circle cx="487.3" cy="298.7" r="0.6"/><circle cx="487.9" cy="296.6" r="0.6"/><circle cx="488.8" cy="301.4" r="0.6"/><circle cx="489.6" cy="289.2" r="0.6"/><circle cx="490.1" cy="290.1" r="0.6"/><circle cx="490.9" cy="296.9" r="0.6"/><circle cx="491.3" cy="299.4" r="0.6"/><circle cx="492.3" cy="298.5" r="0.6"/><circle cx="492.8" cy="299.2" r="0.6"/><circle cx="493.6" cy="289.7" r="0.6"/><circle cx="494.3" cy="287.8" r="0.6"/><circle cx="494.7" cy="305.1" r="0.6"/><circle cx="495.5" cy="289.4" r="0.6"/><circle cx="496.2" cy="292.2" r="0.6"/><circle cx="497" cy="293.7" r="0.6"/><circle cx="497.8" cy="290" r="0.6"/><circle cx="498.1" cy="301.6" r="0.6"/><circle cx="499.2" cy="290.6" r="0.6"/><circle cx="499.7" cy="300" r="0.6"/><circle cx="500.2" cy="301.3" r="0.6"/><circle cx="501" cy="291.3" r="0.6"/><circle cx="501.5" cy="288.7" r="0.6"/><circle cx="502.1" cy="291.2" r="0.6"/><circle cx="503.2" cy="300.3" r="0.6"/><circle cx="503.8" cy="303.1" r="0.6"/><circle cx="504.3" cy="291.8" r="0.6"/><circle cx="505.3" cy="302.2" r="0.6"/><circle cx="505.4" cy="302.6" r="0.6"/><circle cx="506.4" cy="289.1" r="0.6"/><circle cx="507.1" cy="287" r="0.6"/><circle cx="508" cy="285.2" r="0.6"/><circle cx="508.4" cy="291.4" r="0.6"/><circle cx="509.3" cy="300.7" r="0.6"/><circle cx="509.7" cy="303.8" r="0.6"/><circle cx="510.2" cy="299.4" r="0.6"/><circle cx="511" cy="289.8" r="0.6"/><circle cx="511.8" cy="287.6" r="0.6"/><circle cx="512.6" cy="281" r="0.6"/><circle cx="513.3" cy="283.7" r="0.6"/><circle cx="513.7" cy="296.7" r="0.6"/><circle cx="514.7" cy="288.9" r="0.6"/><circle cx="515.2" cy="291.6" r="0.6"/><circle cx="516" cy="297.5" r="0.6"/><circle cx="516.4" cy="308" r="0.6"/><circle cx="516.9" cy="296.6" r="0.6"/><circle cx="517.6" cy="305.3" r="0.6"/><circle cx="518.5" cy="297.3" r="0.6"/><circle cx="519.2" cy="302.6" r="0.6"/><circle cx="519.7" cy="292.3" r="0.6"/><circle cx="520.8" cy="297.1" r="0.6"/><circle cx="521.1" cy="296.8" r="0.6"/><circle cx="522.1" cy="289.7" r="0.6"/><circle cx="522.5" cy="298.7" r="0.6"/><circle cx="523.2" cy="295.8" r="0.6"/><circle cx="523.8" cy="285.4" r="0.6"/><circle cx="524.4" cy="299" r="0.6"/><circle cx="525.2" cy="287.2" r="0.6"/><circle cx="525.8" cy="303.9" r="0.6"/><circle cx="526.8" cy="294.2" r="0.6"/>
</g>
<polyline points="304.5,295.4 306,295.4 307.5,295.4 309,295.4 310.5,295.4 312,295.4 313.5,295.3 315,295.3 316.5,295.3 318,295.3 319.5,295.3 321,295.3 322.5,295.3 324,295.3 325.5,295.3 327.1,295.3 328.6,295.3 330.1,295.3 331.6,295.3 333.1,295.2 334.6,295.2 336.1,295.2 337.6,295.2 339.1,295.2 340.6,295.2 342.1,295.2 343.6,295.1 345.1,295.1 346.6,295.1 348.1,295.1 349.6,295.1 351.1,295 352.6,295 354.1,295 355.6,294.9 357.1,294.9 358.6,294.8 360.1,294.8 361.6,294.7 363.1,294.6 364.6,294.4 366.1,294.2 367.6,293.9 369.1,293.5 370.6,293 372.2,292.4 373.7,291.5 375.2,290.5 376.7,289.3 378.2,287.8 379.7,286.1 381.2,284.3 382.7,282.2 384.2,280.1 385.7,278 387.2,275.8 388.7,273.8 390.2,271.9 391.7,270.1 393.2,268.5 394.7,267 396.2,265.4 397.7,263.8 399.2,262.1 400.7,260.4 402.2,258.7 403.7,257.1 405.2,255.8 406.7,255 408.2,254.8 409.7,255.4 411.2,256.7 412.7,258.9 414.2,261.6 415.8,264.8 417.3,268.2 418.8,271.8 420.3,275.3 421.8,278.5 423.3,281.5 424.8,284.2 426.3,286.5 427.8,288.4 429.3,289.9 430.8,291.2 432.3,292.1 433.8,292.8 435.3,293.4 436.8,293.8 438.3,294.1 439.8,294.3 441.3,294.5 442.8,294.6 444.3,294.7 445.8,294.8 447.3,294.8 448.8,294.9 450.3,294.9 451.8,294.9 453.3,295 454.8,295 456.3,295 457.8,295.1 459.3,295.1 460.9,295.1 462.4,295.1 463.9,295.1 465.4,295.2 466.9,295.2 468.4,295.2 469.9,295.2 471.4,295.2 472.9,295.2 474.4,295.2 475.9,295.3 477.4,295.3 478.9,295.3 480.4,295.3 481.9,295.3 483.4,295.3 484.9,295.3 486.4,295.3 487.9,295.3 489.4,295.3 490.9,295.3 492.4,295.3 493.9,295.3 495.4,295.3 496.9,295.4 498.4,295.4 499.9,295.4 501.4,295.4 502.9,295.4 504.4,295.4 506,295.4 507.5,295.4 509,295.4 510.5,295.4 512,295.4 513.5,295.4 515,295.4 516.5,295.4 518,295.4 519.5,295.4 521,295.4 522.5,295.4 524,295.4 525.5,295.4 527,295.4" fill="none" stroke="#8a8a8a" stroke-width="1.25" stroke-linejoin="round"/>
<path d="M332.5,295.5L332.5,295.4L334,295.4L335.5,295.4L337,295.4L338.5,295.4L340,295.4L341.5,295.4L343,295.4L344.5,295.3L346,295.3L347.5,295.3L349,295.3L350.5,295.3L352,295.3L353.5,295.3L355,295.3L356.5,295.2L358,295.2L359.5,295.2L361,295.1L362.5,295L364,294.9L365.5,294.8L367,294.6L368.5,294.3L370,294L371.5,293.5L373,292.8L374.5,292L376,291L377.5,289.8L379,288.4L380.5,286.9L382,285.3L383.5,283.6L385,282L386.5,280.6L388,279.5L389.5,278.8L391,278.5L392.5,278.8L394,279.5L395.5,280.6L397,282L398.5,283.6L400,285.3L401.5,286.9L403,288.4L404.5,289.8L406,291L407.5,292L409,292.8L410.5,293.5L412,294L413.5,294.3L415,294.6L416.5,294.8L418,294.9L419.5,295L421,295.1L422.5,295.2L424,295.2L425.5,295.2L427,295.3L428.5,295.3L430,295.3L431.5,295.3L433,295.3L434.5,295.3L436,295.3L437.5,295.3L439,295.4L440.5,295.4L442,295.4L443.5,295.4L445,295.4L446.5,295.4L448,295.4L449.5,295.4L449.5,295.5Z" fill="#f65ad5" fill-opacity="0.42" stroke="none"/>
<path d="M332.5,295.4L334,295.4L335.5,295.4L337,295.4L338.5,295.4L340,295.4L341.5,295.4L343,295.4L344.5,295.3L346,295.3L347.5,295.3L349,295.3L350.5,295.3L352,295.3L353.5,295.3L355,295.3L356.5,295.2L358,295.2L359.5,295.2L361,295.1L362.5,295L364,294.9L365.5,294.8L367,294.6L368.5,294.3L370,294L371.5,293.5L373,292.8L374.5,292L376,291L377.5,289.8L379,288.4L380.5,286.9L382,285.3L383.5,283.6L385,282L386.5,280.6L388,279.5L389.5,278.8L391,278.5L392.5,278.8L394,279.5L395.5,280.6L397,282L398.5,283.6L400,285.3L401.5,286.9L403,288.4L404.5,289.8L406,291L407.5,292L409,292.8L410.5,293.5L412,294L413.5,294.3L415,294.6L416.5,294.8L418,294.9L419.5,295L421,295.1L422.5,295.2L424,295.2L425.5,295.2L427,295.3L428.5,295.3L430,295.3L431.5,295.3L433,295.3L434.5,295.3L436,295.3L437.5,295.3L439,295.4L440.5,295.4L442,295.4L443.5,295.4L445,295.4L446.5,295.4L448,295.4L449.5,295.4" fill="none" stroke="#ff1fb4" stroke-width="1.45" stroke-linejoin="round"/>
<path d="M347.6,295.5L347.6,295.3L349.1,295.3L350.6,295.3L352.1,295.3L353.6,295.2L355.1,295.2L356.6,295.2L358.1,295.2L359.6,295.2L361.1,295.2L362.6,295.1L364.1,295.1L365.6,295.1L367.1,295.1L368.6,295L370.1,295L371.6,295L373.2,294.9L374.7,294.8L376.2,294.8L377.7,294.7L379.2,294.5L380.7,294.3L382.2,294L383.7,293.7L385.2,293.1L386.7,292.4L388.2,291.5L389.7,290.3L391.2,288.8L392.7,286.9L394.2,284.6L395.7,282L397.3,279.1L398.8,275.9L400.3,272.5L401.8,269.1L403.3,265.9L404.8,263.1L406.3,260.9L407.8,259.5L409.3,259L410.8,259.5L412.3,260.9L413.8,263.1L415.3,265.9L416.8,269.1L418.3,272.5L419.8,275.9L421.3,279.1L422.9,282L424.4,284.6L425.9,286.9L427.4,288.8L428.9,290.3L430.4,291.5L431.9,292.4L433.4,293.1L434.9,293.7L436.4,294L437.9,294.3L439.4,294.5L440.9,294.7L442.4,294.8L443.9,294.8L445.4,294.9L447,295L448.5,295L450,295L451.5,295.1L453,295.1L454.5,295.1L456,295.1L457.5,295.2L459,295.2L460.5,295.2L462,295.2L463.5,295.2L465,295.2L466.5,295.3L468,295.3L469.5,295.3L471.1,295.3L471.1,295.5Z" fill="#f65ad5" fill-opacity="0.42" stroke="none"/>
<path d="M347.6,295.3L349.1,295.3L350.6,295.3L352.1,295.3L353.6,295.2L355.1,295.2L356.6,295.2L358.1,295.2L359.6,295.2L361.1,295.2L362.6,295.1L364.1,295.1L365.6,295.1L367.1,295.1L368.6,295L370.1,295L371.6,295L373.2,294.9L374.7,294.8L376.2,294.8L377.7,294.7L379.2,294.5L380.7,294.3L382.2,294L383.7,293.7L385.2,293.1L386.7,292.4L388.2,291.5L389.7,290.3L391.2,288.8L392.7,286.9L394.2,284.6L395.7,282L397.3,279.1L398.8,275.9L400.3,272.5L401.8,269.1L403.3,265.9L404.8,263.1L406.3,260.9L407.8,259.5L409.3,259L410.8,259.5L412.3,260.9L413.8,263.1L415.3,265.9L416.8,269.1L418.3,272.5L419.8,275.9L421.3,279.1L422.9,282L424.4,284.6L425.9,286.9L427.4,288.8L428.9,290.3L430.4,291.5L431.9,292.4L433.4,293.1L434.9,293.7L436.4,294L437.9,294.3L439.4,294.5L440.9,294.7L442.4,294.8L443.9,294.8L445.4,294.9L447,295L448.5,295L450,295L451.5,295.1L453,295.1L454.5,295.1L456,295.1L457.5,295.2L459,295.2L460.5,295.2L462,295.2L463.5,295.2L465,295.2L466.5,295.3L468,295.3L469.5,295.3L471.1,295.3" fill="none" stroke="#ff1fb4" stroke-width="1.45" stroke-linejoin="round"/>
<polyline points="0.2" fill="none" stroke="#3a3a3a" stroke-opacity="304.5,295.4 306,295.4 307.5,295.4 309,295.4 310.5,295.4 312,295.4 313.5,295.3 315,295.3 316.5,295.3 318,295.3 319.5,295.3 321,295.3 322.5,295.3 324,295.3 325.5,295.3 327.1,295.3 328.6,295.3 330.1,295.3 331.6,295.3 333.1,295.2 334.6,295.2 336.1,295.2 337.6,295.2 339.1,295.2 340.6,295.2 342.1,295.2 343.6,295.1 345.1,295.1 346.6,295.1 348.1,295.1 349.6,295.1 351.1,295 352.6,295 354.1,295 355.6,294.9 357.1,294.9 358.6,294.8 360.1,294.8 361.6,294.7 363.1,294.6 364.6,294.4 366.1,294.2 367.6,293.9 369.1,293.5 370.6,293 372.2,292.4 373.7,291.5 375.2,290.5 376.7,289.3 378.2,287.8 379.7,286.1 381.2,284.3 382.7,282.2 384.2,280.1 385.7,278 387.2,275.8 388.7,273.8 390.2,271.9 391.7,270.1 393.2,268.5 394.7,267 396.2,265.4 397.7,263.8 399.2,262.1 400.7,260.4 402.2,258.7 403.7,257.1 405.2,255.8 406.7,255 408.2,254.8 409.7,255.4 411.2,256.7 412.7,258.9 414.2,261.6 415.8,264.8 417.3,268.2 418.8,271.8 420.3,275.3 421.8,278.5 423.3,281.5 424.8,284.2 426.3,286.5 427.8,288.4 429.3,289.9 430.8,291.2 432.3,292.1 433.8,292.8 435.3,293.4 436.8,293.8 438.3,294.1 439.8,294.3 441.3,294.5 442.8,294.6 444.3,294.7 445.8,294.8 447.3,294.8 448.8,294.9 450.3,294.9 451.8,294.9 453.3,295 454.8,295 456.3,295 457.8,295.1 459.3,295.1 460.9,295.1 462.4,295.1 463.9,295.1 465.4,295.2 466.9,295.2 468.4,295.2 469.9,295.2 471.4,295.2 472.9,295.2 474.4,295.2 475.9,295.3 477.4,295.3 478.9,295.3 480.4,295.3 481.9,295.3 483.4,295.3 484.9,295.3 486.4,295.3 487.9,295.3 489.4,295.3 490.9,295.3 492.4,295.3 493.9,295.3 495.4,295.3 496.9,295.4 498.4,295.4 499.9,295.4 501.4,295.4 502.9,295.4 504.4,295.4 506,295.4 507.5,295.4 509,295.4 510.5,295.4 512,295.4 513.5,295.4 515,295.4 516.5,295.4 518,295.4 519.5,295.4 521,295.4 522.5,295.4 524,295.4 525.5,295.4 527,295.4" stroke-width="1.2" stroke-linejoin="round"/>
<polyline points="364.6,294.6 366.1,294.5 367.6,294.2 369.1,293.9 370.6,293.4 372.2,292.8 373.7,292" fill="none" stroke="#5c0a4e" stroke-width="1.5" stroke-opacity="0.62" stroke-linejoin="round"/>
<polyline points="426.3,287 427.8,288.8 429.3,290.3 430.8,291.5 432.3,292.4 433.8,293.1 435.3,293.6 436.8,294 438.3,294.2 439.8,294.4 441.3,294.6" fill="none" stroke="#5c0a4e" stroke-width="1.5" stroke-opacity="0.62" stroke-linejoin="round"/>
<line x1="304.5" y1="295.5" x2="527" y2="295.5" stroke="#e21aa2" stroke-width="1.5"/>
<polyline points="304.5,295.5 306,295.5 307.5,295.5 309,295.5 310.5,295.5 312,295.5 313.5,295.5 315,295.5 316.5,295.5 318,295.5 319.5,295.5 321,295.5 322.5,295.5 324,295.5 325.5,295.5 327.1,295.5 328.6,295.5 330.1,295.5 331.6,295.5 333.1,295.5 334.6,295.5 336.1,295.5 337.6,295.5 339.1,295.5 340.6,295.5 342.1,295.5 343.6,295.5 345.1,295.5 346.6,295.5 348.1,295.5 349.6,295.5 351.1,295.5 352.6,295.5 354.1,295.5 355.6,295.5 357.1,295.5 358.6,295.5 360.1,295.5 361.6,295.5 363.1,295.5 364.6,295.5 366.1,295.5 367.6,295.5" fill="none" stroke="#4a0a3a" stroke-width="1.2" stroke-opacity="0.3" stroke-dasharray="1.2 1.6"/>
<polyline points="438.3,295.5 439.8,295.5 441.3,295.5 442.8,295.5 444.3,295.5 445.8,295.5 447.3,295.5 448.8,295.5 450.3,295.5 451.8,295.5 453.3,295.5 454.8,295.5 456.3,295.5 457.8,295.5 459.3,295.5 460.9,295.5 462.4,295.5 463.9,295.5 465.4,295.5 466.9,295.5 468.4,295.5 469.9,295.5 471.4,295.5 472.9,295.5 474.4,295.5 475.9,295.5 477.4,295.5 478.9,295.5 480.4,295.5 481.9,295.5 483.4,295.5 484.9,295.5 486.4,295.5 487.9,295.5 489.4,295.5 490.9,295.5 492.4,295.5 493.9,295.5 495.4,295.5 496.9,295.5 498.4,295.5 499.9,295.5 501.4,295.5 502.9,295.5 504.4,295.5 506,295.5 507.5,295.5 509,295.5 510.5,295.5 512,295.5 513.5,295.5 515,295.5 516.5,295.5 518,295.5 519.5,295.5 521,295.5 522.5,295.5 524,295.5 525.5,295.5 527,295.5" fill="none" stroke="#4a0a3a" stroke-width="1.2" stroke-opacity="0.3" stroke-dasharray="1.2 1.6"/>
<g fill="#3a3a3a" fill-opacity="0.9">
<circle cx="33" cy="442.3" r="0.65"/><circle cx="35.1" cy="442.5" r="0.65"/><circle cx="37.1" cy="442.1" r="0.65"/><circle cx="39.1" cy="444.2" r="0.65"/><circle cx="41.2" cy="444.6" r="0.65"/><circle cx="43.2" cy="441.5" r="0.65"/><circle cx="45.2" cy="440.8" r="0.65"/><circle cx="47.3" cy="441.4" r="0.65"/><circle cx="49.3" cy="439.7" r="0.65"/><circle cx="51.3" cy="440.2" r="0.65"/><circle cx="53.4" cy="442.5" r="0.65"/><circle cx="55.4" cy="442.7" r="0.65"/><circle cx="57.4" cy="441.4" r="0.65"/><circle cx="59.5" cy="438.8" r="0.65"/><circle cx="61.5" cy="441" r="0.65"/><circle cx="63.5" cy="442.2" r="0.65"/><circle cx="65.6" cy="439" r="0.65"/><circle cx="67.6" cy="444.6" r="0.65"/><circle cx="69.6" cy="442.9" r="0.65"/><circle cx="71.7" cy="446.9" r="0.65"/><circle cx="73.7" cy="442.8" r="0.65"/><circle cx="75.7" cy="442.1" r="0.65"/><circle cx="77.8" cy="443.8" r="0.65"/><circle cx="79.8" cy="444" r="0.65"/><circle cx="81.8" cy="439.2" r="0.65"/><circle cx="83.9" cy="443" r="0.65"/><circle cx="85.9" cy="445" r="0.65"/><circle cx="87.9" cy="445.1" r="0.65"/><circle cx="90" cy="441.6" r="0.65"/><circle cx="92" cy="441.9" r="0.65"/><circle cx="94" cy="446.3" r="0.65"/><circle cx="96.1" cy="440.4" r="0.65"/><circle cx="98.1" cy="443.3" r="0.65"/><circle cx="100.1" cy="442.3" r="0.65"/><circle cx="102.2" cy="443.7" r="0.65"/><circle cx="104.2" cy="442.5" r="0.65"/><circle cx="106.2" cy="441.2" r="0.65"/><circle cx="108.3" cy="439.9" r="0.65"/><circle cx="110.3" cy="445.1" r="0.65"/><circle cx="112.3" cy="443.5" r="0.65"/><circle cx="114.4" cy="444" r="0.65"/><circle cx="116.4" cy="441.2" r="0.65"/><circle cx="118.4" cy="440.8" r="0.65"/><circle cx="120.5" cy="442.3" r="0.65"/><circle cx="122.5" cy="438.7" r="0.65"/><circle cx="124.5" cy="441" r="0.65"/><circle cx="126.6" cy="443.8" r="0.65"/><circle cx="128.6" cy="437.3" r="0.65"/><circle cx="130.6" cy="440.2" r="0.65"/><circle cx="132.7" cy="437.3" r="0.65"/><circle cx="134.7" cy="441.8" r="0.65"/><circle cx="136.7" cy="442" r="0.65"/><circle cx="138.8" cy="441.8" r="0.65"/><circle cx="140.8" cy="444.9" r="0.65"/><circle cx="142.8" cy="444.4" r="0.65"/><circle cx="144.9" cy="444.5" r="0.65"/><circle cx="146.9" cy="442.4" r="0.65"/><circle cx="148.9" cy="445.1" r="0.65"/><circle cx="151" cy="441.1" r="0.65"/><circle cx="153" cy="442" r="0.65"/><circle cx="155.1" cy="441.2" r="0.65"/><circle cx="157.1" cy="440.7" r="0.65"/><circle cx="159.1" cy="440.2" r="0.65"/><circle cx="161.2" cy="443.3" r="0.65"/><circle cx="163.2" cy="437.9" r="0.65"/><circle cx="165.2" cy="439.3" r="0.65"/><circle cx="167.3" cy="444.7" r="0.65"/><circle cx="169.3" cy="443.8" r="0.65"/><circle cx="171.3" cy="444.3" r="0.65"/><circle cx="173.4" cy="444" r="0.65"/><circle cx="175.4" cy="440.3" r="0.65"/><circle cx="177.4" cy="444.7" r="0.65"/><circle cx="179.5" cy="439.1" r="0.65"/><circle cx="181.5" cy="443.5" r="0.65"/><circle cx="183.5" cy="442.7" r="0.65"/><circle cx="185.6" cy="446.2" r="0.65"/><circle cx="187.6" cy="443.8" r="0.65"/><circle cx="189.6" cy="441.5" r="0.65"/><circle cx="191.7" cy="443.8" r="0.65"/><circle cx="193.7" cy="443.7" r="0.65"/><circle cx="195.7" cy="442.7" r="0.65"/><circle cx="197.8" cy="442.1" r="0.65"/><circle cx="199.8" cy="439.7" r="0.65"/><circle cx="201.8" cy="439" r="0.65"/><circle cx="203.9" cy="440.4" r="0.65"/><circle cx="205.9" cy="441.3" r="0.65"/><circle cx="207.9" cy="442.4" r="0.65"/><circle cx="210" cy="441" r="0.65"/><circle cx="212" cy="441.8" r="0.65"/><circle cx="214" cy="442.9" r="0.65"/><circle cx="216.1" cy="438.7" r="0.65"/><circle cx="218.1" cy="438.9" r="0.65"/><circle cx="220.1" cy="437.2" r="0.65"/><circle cx="222.2" cy="438.4" r="0.65"/><circle cx="224.2" cy="441.5" r="0.65"/><circle cx="226.2" cy="442.3" r="0.65"/><circle cx="228.3" cy="438.1" r="0.65"/><circle cx="230.3" cy="437.5" r="0.65"/><circle cx="232.3" cy="439.1" r="0.65"/><circle cx="234.4" cy="440.9" r="0.65"/><circle cx="236.4" cy="439" r="0.65"/><circle cx="238.4" cy="439.9" r="0.65"/><circle cx="240.5" cy="441.5" r="0.65"/><circle cx="242.5" cy="442.9" r="0.65"/><circle cx="244.5" cy="440.3" r="0.65"/><circle cx="246.6" cy="442.9" r="0.65"/><circle cx="248.6" cy="443.9" r="0.65"/><circle cx="250.6" cy="440.2" r="0.65"/><circle cx="252.7" cy="440.9" r="0.65"/><circle cx="254.7" cy="441.1" r="0.65"/><circle cx="256.7" cy="441" r="0.65"/><circle cx="258.8" cy="440.2" r="0.65"/><circle cx="260.8" cy="442.2" r="0.65"/><circle cx="262.8" cy="441.5" r="0.65"/><circle cx="264.9" cy="440" r="0.65"/><circle cx="266.9" cy="439.9" r="0.65"/><circle cx="268.9" cy="440.1" r="0.65"/><circle cx="271" cy="442.3" r="0.65"/>
</g>
<g fill="#555" fill-opacity="0.75">
<circle cx="51.6" cy="574.4" r="0.8"/><circle cx="53.3" cy="576.5" r="0.8"/><circle cx="56.4" cy="567.3" r="0.8"/><circle cx="58.5" cy="570.4" r="0.8"/><circle cx="59.9" cy="566.4" r="0.8"/><circle cx="62.2" cy="569.6" r="0.8"/><circle cx="65" cy="570.1" r="0.8"/><circle cx="66.9" cy="565.5" r="0.8"/><circle cx="69.8" cy="576.5" r="0.8"/><circle cx="71.6" cy="565.6" r="0.8"/><circle cx="74.8" cy="580.5" r="0.8"/><circle cx="75.8" cy="571.9" r="0.8"/><circle cx="77.8" cy="572.2" r="0.8"/><circle cx="81.2" cy="571.7" r="0.8"/><circle cx="82.3" cy="559.8" r="0.8"/><circle cx="84.8" cy="563.1" r="0.8"/><circle cx="87.3" cy="569.5" r="0.8"/><circle cx="88.9" cy="568" r="0.8"/><circle cx="92" cy="561.5" r="0.8"/><circle cx="94" cy="568.5" r="0.8"/><circle cx="96" cy="561.9" r="0.8"/><circle cx="98.6" cy="575.4" r="0.8"/><circle cx="100.1" cy="556.7" r="0.8"/><circle cx="103.4" cy="558.3" r="0.8"/><circle cx="105.3" cy="556.3" r="0.8"/><circle cx="106.5" cy="577.5" r="0.8"/><circle cx="109.2" cy="557.7" r="0.8"/><circle cx="111.5" cy="551.8" r="0.8"/><circle cx="112.9" cy="548.8" r="0.8"/><circle cx="116.1" cy="541.7" r="0.8"/><circle cx="118.8" cy="545.1" r="0.8"/><circle cx="120.6" cy="556.9" r="0.8"/><circle cx="122.7" cy="534.2" r="0.8"/><circle cx="125.6" cy="547.8" r="0.8"/><circle cx="127" cy="542.6" r="0.8"/><circle cx="129.6" cy="540.5" r="0.8"/><circle cx="131.7" cy="553.4" r="0.8"/><circle cx="133.3" cy="540" r="0.8"/><circle cx="135.7" cy="538.3" r="0.8"/><circle cx="138" cy="536.1" r="0.8"/><circle cx="139.7" cy="537.6" r="0.8"/><circle cx="143" cy="534.8" r="0.8"/><circle cx="144" cy="532.5" r="0.8"/><circle cx="147.6" cy="536.3" r="0.8"/><circle cx="148.4" cy="521.5" r="0.8"/><circle cx="152" cy="530.1" r="0.8"/><circle cx="154.1" cy="530.3" r="0.8"/><circle cx="155.6" cy="522.4" r="0.8"/><circle cx="157.7" cy="538.1" r="0.8"/><circle cx="159.6" cy="514.8" r="0.8"/><circle cx="161.8" cy="525.9" r="0.8"/><circle cx="164.6" cy="529.8" r="0.8"/><circle cx="167" cy="524.9" r="0.8"/><circle cx="168.9" cy="525.5" r="0.8"/><circle cx="171" cy="510.2" r="0.8"/><circle cx="173.8" cy="518.5" r="0.8"/><circle cx="175.7" cy="518" r="0.8"/><circle cx="177.1" cy="518.8" r="0.8"/><circle cx="180.8" cy="528.6" r="0.8"/><circle cx="182.8" cy="513.8" r="0.8"/><circle cx="184.3" cy="525.1" r="0.8"/><circle cx="186.9" cy="530.9" r="0.8"/><circle cx="188.1" cy="534.1" r="0.8"/><circle cx="190.5" cy="534" r="0.8"/><circle cx="193" cy="535" r="0.8"/><circle cx="194.9" cy="537.2" r="0.8"/><circle cx="197" cy="538.9" r="0.8"/><circle cx="200.6" cy="545.7" r="0.8"/><circle cx="202.4" cy="549.9" r="0.8"/><circle cx="204.1" cy="553.1" r="0.8"/><circle cx="206.3" cy="560.9" r="0.8"/><circle cx="209.7" cy="564.2" r="0.8"/><circle cx="210.9" cy="553.8" r="0.8"/><circle cx="212.5" cy="558.2" r="0.8"/><circle cx="215.1" cy="558.8" r="0.8"/><circle cx="217" cy="573.2" r="0.8"/><circle cx="219" cy="569.6" r="0.8"/><circle cx="221.4" cy="560.6" r="0.8"/><circle cx="224.3" cy="571.8" r="0.8"/><circle cx="227.3" cy="566" r="0.8"/><circle cx="229.3" cy="563.2" r="0.8"/><circle cx="230.7" cy="560.3" r="0.8"/><circle cx="232.5" cy="566.4" r="0.8"/><circle cx="235.8" cy="557.6" r="0.8"/><circle cx="237.2" cy="567.6" r="0.8"/><circle cx="240.6" cy="577.4" r="0.8"/><circle cx="242.6" cy="569.9" r="0.8"/><circle cx="244.6" cy="554.5" r="0.8"/><circle cx="245.9" cy="559.7" r="0.8"/><circle cx="247.7" cy="565.1" r="0.8"/><circle cx="249.9" cy="564.9" r="0.8"/><circle cx="253.3" cy="570.8" r="0.8"/><circle cx="256" cy="551.4" r="0.8"/><circle cx="258.3" cy="570.8" r="0.8"/><circle cx="260.4" cy="562.8" r="0.8"/><circle cx="261.4" cy="569.3" r="0.8"/><circle cx="263.5" cy="568.4" r="0.8"/><circle cx="267" cy="574.5" r="0.8"/><circle cx="269.1" cy="556.4" r="0.8"/><circle cx="271.2" cy="567" r="0.8"/>
</g>
<polyline points="51,568.9 52.5,568.9 54,568.8 55.5,568.8 57,568.8 58.5,568.7 60,568.7 61.5,568.6 63,568.6 64.5,568.6 66,568.5 67.5,568.5 69,568.4 70.5,568.4 72,568.3 73.6,568.3 75.1,568.2 76.6,568.2 78.1,568.1 79.6,568 81.1,567.9 82.6,567.8 84.1,567.7 85.6,567.6 87.1,567.4 88.6,567.2 90.1,566.9 91.6,566.6 93.1,566.3 94.6,565.9 96.1,565.4 97.6,564.9 99.1,564.2 100.6,563.5 102.1,562.7 103.6,561.8 105.1,560.7 106.6,559.6 108.1,558.4 109.6,557.2 111.1,555.8 112.6,554.5 114.1,553.1 115.6,551.7 117.1,550.4 118.7,549.1 120.2,547.9 121.7,546.9 123.2,545.9 124.7,545 126.2,544.1 127.7,543.4 129.2,542.7 130.7,541.9 132.2,541.1 133.7,540.3 135.2,539.3 136.7,538.3 138.2,537.2 139.7,536 141.2,534.7 142.7,533.5 144.2,532.2 145.7,531.1 147.2,530 148.7,529.1 150.2,528.3 151.7,527.6 153.2,527.1 154.7,526.6 156.2,526.2 157.7,525.9 159.2,525.7 160.7,525.5 162.3,525.3 163.8,525.1 165.3,525 166.8,524.9 168.3,524.9 169.8,524.9 171.3,524.9 172.8,525 174.3,525.1 175.8,525.2 177.3,525.4 178.8,525.7 180.3,526 181.8,526.5 183.3,527 184.8,527.8 186.3,528.7 187.8,529.8 189.3,531 190.8,532.5 192.3,534.1 193.8,535.8 195.3,537.7 196.8,539.6 198.3,541.6 199.8,543.6 201.3,545.6 202.8,547.5 204.3,549.4 205.9,551.2 207.4,553 208.9,554.6 210.4,556 211.9,557.4 213.4,558.6 214.9,559.7 216.4,560.7 217.9,561.5 219.4,562.2 220.9,562.9 222.4,563.4 223.9,563.8 225.4,564.2 226.9,564.5 228.4,564.8 229.9,565 231.4,565.2 232.9,565.3 234.4,565.4 235.9,565.5 237.4,565.6 238.9,565.6 240.4,565.7 241.9,565.7 243.4,565.7 244.9,565.8 246.4,565.8 247.9,565.8 249.4,565.8 251,565.8 252.5,565.8 254,565.8 255.5,565.8 257,565.8 258.5,565.8 260,565.8 261.5,565.8 263,565.8 264.5,565.8 266,565.8 267.5,565.8 269,565.8 270.5,565.8 272,565.8" fill="none" stroke="#8a8a8a" stroke-width="1.25" stroke-linejoin="round"/>
<path d="M51,569.3L51,569.2L52.5,569.2L54,569.2L55.5,569.1L57,569.1L58.5,569.1L60,569.1L61.5,569L63,569L64.5,569L66,568.9L67.6,568.9L69.1,568.9L70.6,568.9L72.1,568.8L73.6,568.8L75.1,568.7L76.6,568.7L78.1,568.6L79.6,568.6L81.1,568.5L82.6,568.4L84.1,568.4L85.6,568.2L87.1,568.1L88.6,567.9L90.1,567.7L91.6,567.5L93.1,567.2L94.6,566.9L96.1,566.5L97.7,566.1L99.2,565.6L100.7,565L102.2,564.4L103.7,563.8L105.2,563.1L106.7,562.3L108.2,561.6L109.7,560.9L111.2,560.2L112.7,559.5L114.2,559L115.7,558.5L117.2,558.1L118.7,557.9L120.2,557.8L121.7,557.9L123.2,558.1L124.7,558.5L126.2,559L127.8,559.5L129.3,560.1L130.8,560.8L132.3,561.5L133.8,562.2L135.3,562.9L136.8,563.5L138.3,564.1L139.8,564.6L141.3,565.1L142.8,565.6L144.3,566L145.8,566.3L147.3,566.6L148.8,566.8L150.3,567L151.8,567.1L153.3,567.2L154.8,567.3L156.3,567.4L157.8,567.4L159.4,567.4L160.9,567.5L162.4,567.5L163.9,567.5L165.4,567.5L166.9,567.5L168.4,567.5L169.9,567.5L171.4,567.5L172.9,567.4L174.4,567.4L175.9,567.4L177.4,567.4L178.9,567.4L180.4,567.4L181.9,567.4L183.4,567.3L184.9,567.3L186.4,567.3L187.9,567.3L189.5,567.3L191,567.3L192.5,567.2L194,567.2L195.5,567.2L197,567.2L198.5,567.2L200,567.1L201.5,567.1L203,567.1L204.5,567.1L204.5,567.1Z" fill="#fba204" fill-opacity="0.5" stroke="none"/>
<path d="M51,569.2L52.5,569.2L54,569.2L55.5,569.1L57,569.1L58.5,569.1L60,569.1L61.5,569L63,569L64.5,569L66,568.9L67.6,568.9L69.1,568.9L70.6,568.9L72.1,568.8L73.6,568.8L75.1,568.7L76.6,568.7L78.1,568.6L79.6,568.6L81.1,568.5L82.6,568.4L84.1,568.4L85.6,568.2L87.1,568.1L88.6,567.9L90.1,567.7L91.6,567.5L93.1,567.2L94.6,566.9L96.1,566.5L97.7,566.1L99.2,565.6L100.7,565L102.2,564.4L103.7,563.8L105.2,563.1L106.7,562.3L108.2,561.6L109.7,560.9L111.2,560.2L112.7,559.5L114.2,559L115.7,558.5L117.2,558.1L118.7,557.9L120.2,557.8L121.7,557.9L123.2,558.1L124.7,558.5L126.2,559L127.8,559.5L129.3,560.1L130.8,560.8L132.3,561.5L133.8,562.2L135.3,562.9L136.8,563.5L138.3,564.1L139.8,564.6L141.3,565.1L142.8,565.6L144.3,566L145.8,566.3L147.3,566.6L148.8,566.8L150.3,567L151.8,567.1L153.3,567.2L154.8,567.3L156.3,567.4L157.8,567.4L159.4,567.4L160.9,567.5L162.4,567.5L163.9,567.5L165.4,567.5L166.9,567.5L168.4,567.5L169.9,567.5L171.4,567.5L172.9,567.4L174.4,567.4L175.9,567.4L177.4,567.4L178.9,567.4L180.4,567.4L181.9,567.4L183.4,567.3L184.9,567.3L186.4,567.3L187.9,567.3L189.5,567.3L191,567.3L192.5,567.2L194,567.2L195.5,567.2L197,567.2L198.5,567.2L200,567.1L201.5,567.1L203,567.1L204.5,567.1" fill="none" stroke="#ffab0c" stroke-width="1.45" stroke-linejoin="round"/>
<path d="M62.1,569.1L62.1,569L63.6,569L65.1,569L66.6,568.9L68.1,568.9L69.6,568.9L71.2,568.9L72.7,568.8L74.2,568.8L75.7,568.8L77.2,568.8L78.7,568.7L80.2,568.7L81.7,568.7L83.2,568.6L84.7,568.6L86.2,568.6L87.8,568.5L89.3,568.5L90.8,568.5L92.3,568.4L93.8,568.4L95.3,568.4L96.8,568.3L98.3,568.3L99.8,568.2L101.3,568.2L102.8,568.1L104.3,568L105.9,567.9L107.4,567.8L108.9,567.7L110.4,567.5L111.9,567.3L113.4,567.1L114.9,566.8L116.4,566.4L117.9,566L119.4,565.5L120.9,564.9L122.5,564.1L124,563.3L125.5,562.4L127,561.3L128.5,560.1L130,558.8L131.5,557.5L133,556.1L134.5,554.6L136,553.2L137.5,551.8L139.1,550.5L140.6,549.3L142.1,548.3L143.6,547.6L145.1,547.1L146.6,547L148.1,547.1L149.6,547.5L151.1,548.2L152.6,549.1L154.1,550.3L155.7,551.5L157.2,552.9L158.7,554.3L160.2,555.7L161.7,557.1L163.2,558.4L164.7,559.6L166.2,560.7L167.7,561.8L169.2,562.7L170.7,563.5L172.3,564.1L173.8,564.7L175.3,565.2L176.8,565.6L178.3,565.9L179.8,566.2L181.3,566.4L182.8,566.5L184.3,566.6L185.8,566.7L187.3,566.8L188.8,566.8L190.4,566.9L191.9,566.9L193.4,566.9L194.9,566.9L196.4,566.9L197.9,566.9L199.4,566.9L200.9,566.9L202.4,566.9L203.9,566.9L205.4,566.9L207,566.9L208.5,566.9L210,566.9L211.5,566.8L213,566.8L214.5,566.8L216,566.8L217.5,566.8L219,566.8L220.5,566.8L222,566.8L223.6,566.7L225.1,566.7L226.6,566.7L228.1,566.7L229.6,566.7L231.1,566.7L231.1,566.8Z" fill="#fba204" fill-opacity="0.5" stroke="none"/>
<path d="M62.1,569L63.6,569L65.1,569L66.6,568.9L68.1,568.9L69.6,568.9L71.2,568.9L72.7,568.8L74.2,568.8L75.7,568.8L77.2,568.8L78.7,568.7L80.2,568.7L81.7,568.7L83.2,568.6L84.7,568.6L86.2,568.6L87.8,568.5L89.3,568.5L90.8,568.5L92.3,568.4L93.8,568.4L95.3,568.4L96.8,568.3L98.3,568.3L99.8,568.2L101.3,568.2L102.8,568.1L104.3,568L105.9,567.9L107.4,567.8L108.9,567.7L110.4,567.5L111.9,567.3L113.4,567.1L114.9,566.8L116.4,566.4L117.9,566L119.4,565.5L120.9,564.9L122.5,564.1L124,563.3L125.5,562.4L127,561.3L128.5,560.1L130,558.8L131.5,557.5L133,556.1L134.5,554.6L136,553.2L137.5,551.8L139.1,550.5L140.6,549.3L142.1,548.3L143.6,547.6L145.1,547.1L146.6,547L148.1,547.1L149.6,547.5L151.1,548.2L152.6,549.1L154.1,550.3L155.7,551.5L157.2,552.9L158.7,554.3L160.2,555.7L161.7,557.1L163.2,558.4L164.7,559.6L166.2,560.7L167.7,561.8L169.2,562.7L170.7,563.5L172.3,564.1L173.8,564.7L175.3,565.2L176.8,565.6L178.3,565.9L179.8,566.2L181.3,566.4L182.8,566.5L184.3,566.6L185.8,566.7L187.3,566.8L188.8,566.8L190.4,566.9L191.9,566.9L193.4,566.9L194.9,566.9L196.4,566.9L197.9,566.9L199.4,566.9L200.9,566.9L202.4,566.9L203.9,566.9L205.4,566.9L207,566.9L208.5,566.9L210,566.9L211.5,566.8L213,566.8L214.5,566.8L216,566.8L217.5,566.8L219,566.8L220.5,566.8L222,566.8L223.6,566.7L225.1,566.7L226.6,566.7L228.1,566.7L229.6,566.7L231.1,566.7" fill="none" stroke="#ffab0c" stroke-width="1.45" stroke-linejoin="round"/>
<path d="M69.3,569L69.3,569L70.8,568.9L72.3,568.9L73.8,568.9L75.3,568.9L76.8,568.8L78.3,568.8L79.8,568.8L81.3,568.8L82.8,568.7L84.3,568.7L85.8,568.7L87.3,568.7L88.9,568.6L90.4,568.6L91.9,568.6L93.4,568.5L94.9,568.5L96.4,568.5L97.9,568.5L99.4,568.4L100.9,568.4L102.4,568.4L103.9,568.3L105.4,568.3L106.9,568.3L108.4,568.2L109.9,568.2L111.4,568.1L112.9,568.1L114.4,568L115.9,568L117.4,567.9L118.9,567.8L120.4,567.7L121.9,567.5L123.4,567.4L125,567.2L126.5,567L128,566.7L129.5,566.4L131,566L132.5,565.6L134,565.1L135.5,564.5L137,563.9L138.5,563.1L140,562.3L141.5,561.5L143,560.5L144.5,559.5L146,558.5L147.5,557.5L149,556.5L150.5,555.5L152,554.6L153.5,553.7L155,553L156.5,552.4L158,552L159.5,551.8L161.1,551.8L162.6,552L164.1,552.3L165.6,552.9L167.1,553.5L168.6,554.3L170.1,555.2L171.6,556.2L173.1,557.1L174.6,558.1L176.1,559.1L177.6,560L179.1,560.9L180.6,561.8L182.1,562.5L183.6,563.2L185.1,563.8L186.6,564.3L188.1,564.8L189.6,565.2L191.1,565.5L192.6,565.8L194.1,566L195.6,566.2L197.2,566.4L198.7,566.5L200.2,566.6L201.7,566.6L203.2,566.7L204.7,566.7L206.2,566.7L207.7,566.7L209.2,566.8L210.7,566.8L212.2,566.8L213.7,566.8L215.2,566.8L216.7,566.7L218.2,566.7L219.7,566.7L221.2,566.7L222.7,566.7L224.2,566.7L225.7,566.7L227.2,566.7L228.7,566.6L230.2,566.6L231.7,566.6L233.3,566.6L234.8,566.6L236.3,566.6L237.8,566.6L239.3,566.5L240.8,566.5L242.3,566.5L243.8,566.5L245.3,566.5L246.8,566.5L248.3,566.4L249.8,566.4L251.3,566.4L251.3,566.5Z" fill="#f65ad5" fill-opacity="0.42" stroke="none"/>
<path d="M69.3,569L70.8,568.9L72.3,568.9L73.8,568.9L75.3,568.9L76.8,568.8L78.3,568.8L79.8,568.8L81.3,568.8L82.8,568.7L84.3,568.7L85.8,568.7L87.3,568.7L88.9,568.6L90.4,568.6L91.9,568.6L93.4,568.5L94.9,568.5L96.4,568.5L97.9,568.5L99.4,568.4L100.9,568.4L102.4,568.4L103.9,568.3L105.4,568.3L106.9,568.3L108.4,568.2L109.9,568.2L111.4,568.1L112.9,568.1L114.4,568L115.9,568L117.4,567.9L118.9,567.8L120.4,567.7L121.9,567.5L123.4,567.4L125,567.2L126.5,567L128,566.7L129.5,566.4L131,566L132.5,565.6L134,565.1L135.5,564.5L137,563.9L138.5,563.1L140,562.3L141.5,561.5L143,560.5L144.5,559.5L146,558.5L147.5,557.5L149,556.5L150.5,555.5L152,554.6L153.5,553.7L155,553L156.5,552.4L158,552L159.5,551.8L161.1,551.8L162.6,552L164.1,552.3L165.6,552.9L167.1,553.5L168.6,554.3L170.1,555.2L171.6,556.2L173.1,557.1L174.6,558.1L176.1,559.1L177.6,560L179.1,560.9L180.6,561.8L182.1,562.5L183.6,563.2L185.1,563.8L186.6,564.3L188.1,564.8L189.6,565.2L191.1,565.5L192.6,565.8L194.1,566L195.6,566.2L197.2,566.4L198.7,566.5L200.2,566.6L201.7,566.6L203.2,566.7L204.7,566.7L206.2,566.7L207.7,566.7L209.2,566.8L210.7,566.8L212.2,566.8L213.7,566.8L215.2,566.8L216.7,566.7L218.2,566.7L219.7,566.7L221.2,566.7L222.7,566.7L224.2,566.7L225.7,566.7L227.2,566.7L228.7,566.6L230.2,566.6L231.7,566.6L233.3,566.6L234.8,566.6L236.3,566.6L237.8,566.6L239.3,566.5L240.8,566.5L242.3,566.5L243.8,566.5L245.3,566.5L246.8,566.5L248.3,566.4L249.8,566.4L251.3,566.4" fill="none" stroke="#ff1fb4" stroke-width="1.45" stroke-linejoin="round"/>
<path d="M85.8,568.8L85.8,568.6L87.3,568.6L88.8,568.6L90.3,568.5L91.8,568.5L93.3,568.5L94.8,568.5L96.3,568.4L97.8,568.4L99.3,568.4L100.8,568.3L102.3,568.3L103.8,568.3L105.3,568.3L106.8,568.2L108.3,568.2L109.8,568.2L111.3,568.1L112.8,568.1L114.3,568.1L115.8,568L117.3,568L118.8,568L120.3,567.9L121.8,567.9L123.3,567.8L124.8,567.8L126.3,567.7L127.8,567.7L129.3,567.6L130.8,567.6L132.3,567.5L133.8,567.4L135.3,567.3L136.8,567.2L138.3,567.1L139.8,567L141.3,566.8L142.8,566.6L144.3,566.4L145.8,566.1L147.3,565.8L148.8,565.4L150.3,565L151.8,564.4L153.3,563.8L154.8,563.1L156.3,562.2L157.8,561.3L159.3,560.2L160.9,559L162.4,557.7L163.9,556.2L165.4,554.7L166.9,553L168.4,551.3L169.9,549.5L171.4,547.6L172.9,545.7L174.4,543.9L175.9,542.1L177.4,540.4L178.9,538.9L180.4,537.6L181.9,536.5L183.4,535.6L184.9,535.1L186.4,534.9L187.9,535L189.4,535.5L190.9,536.2L192.4,537.2L193.9,538.5L195.4,539.9L196.9,541.6L198.4,543.3L199.9,545.1L201.4,546.9L202.9,548.7L204.4,550.5L205.9,552.2L207.4,553.9L208.9,555.4L210.4,556.8L211.9,558.1L213.4,559.3L214.9,560.3L216.4,561.3L217.9,562.1L219.4,562.8L220.9,563.4L222.4,563.9L223.9,564.3L225.4,564.7L226.9,565L228.4,565.2L229.9,565.4L231.4,565.5L232.9,565.7L234.4,565.8L236,565.8L237.5,565.9L239,565.9L240.5,566L242,566L243.5,566L245,566L246.5,566L248,566.1L249.5,566.1L251,566.1L252.5,566.1L254,566.1L255.5,566L257,566L258.5,566L260,566L261.5,566L263,566L264.5,566L266,566L267.5,566L269,566L270.5,566L272,565.9L272,566.2Z" fill="#f65ad5" fill-opacity="0.42" stroke="none"/>
<path d="M85.8,568.6L87.3,568.6L88.8,568.6L90.3,568.5L91.8,568.5L93.3,568.5L94.8,568.5L96.3,568.4L97.8,568.4L99.3,568.4L100.8,568.3L102.3,568.3L103.8,568.3L105.3,568.3L106.8,568.2L108.3,568.2L109.8,568.2L111.3,568.1L112.8,568.1L114.3,568.1L115.8,568L117.3,568L118.8,568L120.3,567.9L121.8,567.9L123.3,567.8L124.8,567.8L126.3,567.7L127.8,567.7L129.3,567.6L130.8,567.6L132.3,567.5L133.8,567.4L135.3,567.3L136.8,567.2L138.3,567.1L139.8,567L141.3,566.8L142.8,566.6L144.3,566.4L145.8,566.1L147.3,565.8L148.8,565.4L150.3,565L151.8,564.4L153.3,563.8L154.8,563.1L156.3,562.2L157.8,561.3L159.3,560.2L160.9,559L162.4,557.7L163.9,556.2L165.4,554.7L166.9,553L168.4,551.3L169.9,549.5L171.4,547.6L172.9,545.7L174.4,543.9L175.9,542.1L177.4,540.4L178.9,538.9L180.4,537.6L181.9,536.5L183.4,535.6L184.9,535.1L186.4,534.9L187.9,535L189.4,535.5L190.9,536.2L192.4,537.2L193.9,538.5L195.4,539.9L196.9,541.6L198.4,543.3L199.9,545.1L201.4,546.9L202.9,548.7L204.4,550.5L205.9,552.2L207.4,553.9L208.9,555.4L210.4,556.8L211.9,558.1L213.4,559.3L214.9,560.3L216.4,561.3L217.9,562.1L219.4,562.8L220.9,563.4L222.4,563.9L223.9,564.3L225.4,564.7L226.9,565L228.4,565.2L229.9,565.4L231.4,565.5L232.9,565.7L234.4,565.8L236,565.8L237.5,565.9L239,565.9L240.5,566L242,566L243.5,566L245,566L246.5,566L248,566.1L249.5,566.1L251,566.1L252.5,566.1L254,566.1L255.5,566L257,566L258.5,566L260,566L261.5,566L263,566L264.5,566L266,566L267.5,566L269,566L270.5,566L272,565.9" fill="none" stroke="#ff1fb4" stroke-width="1.45" stroke-linejoin="round"/>
<polyline points="0.2" fill="none" stroke="#3a3a3a" stroke-opacity="51,568.9 52.5,568.9 54,568.8 55.5,568.8 57,568.8 58.5,568.7 60,568.7 61.5,568.6 63,568.6 64.5,568.6 66,568.5 67.5,568.5 69,568.4 70.5,568.4 72,568.3 73.6,568.3 75.1,568.2 76.6,568.2 78.1,568.1 79.6,568 81.1,567.9 82.6,567.8 84.1,567.7 85.6,567.6 87.1,567.4 88.6,567.2 90.1,566.9 91.6,566.6 93.1,566.3 94.6,565.9 96.1,565.4 97.6,564.9 99.1,564.2 100.6,563.5 102.1,562.7 103.6,561.8 105.1,560.7 106.6,559.6 108.1,558.4 109.6,557.2 111.1,555.8 112.6,554.5 114.1,553.1 115.6,551.7 117.1,550.4 118.7,549.1 120.2,547.9 121.7,546.9 123.2,545.9 124.7,545 126.2,544.1 127.7,543.4 129.2,542.7 130.7,541.9 132.2,541.1 133.7,540.3 135.2,539.3 136.7,538.3 138.2,537.2 139.7,536 141.2,534.7 142.7,533.5 144.2,532.2 145.7,531.1 147.2,530 148.7,529.1 150.2,528.3 151.7,527.6 153.2,527.1 154.7,526.6 156.2,526.2 157.7,525.9 159.2,525.7 160.7,525.5 162.3,525.3 163.8,525.1 165.3,525 166.8,524.9 168.3,524.9 169.8,524.9 171.3,524.9 172.8,525 174.3,525.1 175.8,525.2 177.3,525.4 178.8,525.7 180.3,526 181.8,526.5 183.3,527 184.8,527.8 186.3,528.7 187.8,529.8 189.3,531 190.8,532.5 192.3,534.1 193.8,535.8 195.3,537.7 196.8,539.6 198.3,541.6 199.8,543.6 201.3,545.6 202.8,547.5 204.3,549.4 205.9,551.2 207.4,553 208.9,554.6 210.4,556 211.9,557.4 213.4,558.6 214.9,559.7 216.4,560.7 217.9,561.5 219.4,562.2 220.9,562.9 222.4,563.4 223.9,563.8 225.4,564.2 226.9,564.5 228.4,564.8 229.9,565 231.4,565.2 232.9,565.3 234.4,565.4 235.9,565.5 237.4,565.6 238.9,565.6 240.4,565.7 241.9,565.7 243.4,565.7 244.9,565.8 246.4,565.8 247.9,565.8 249.4,565.8 251,565.8 252.5,565.8 254,565.8 255.5,565.8 257,565.8 258.5,565.8 260,565.8 261.5,565.8 263,565.8 264.5,565.8 266,565.8 267.5,565.8 269,565.8 270.5,565.8 272,565.8" stroke-width="1.2" stroke-linejoin="round"/>
<polyline points="204.3,549.9 205.9,551.7 207.4,553.4 208.9,554.9 210.4,556.4 211.9,557.7 213.4,558.9 214.9,560 216.4,560.9 217.9,561.8 219.4,562.5 220.9,563.1 222.4,563.6 223.9,564.1 225.4,564.4 226.9,564.7 228.4,565 229.9,565.2 231.4,565.4 232.9,565.5 234.4,565.6 235.9,565.7 237.4,565.7 238.9,565.8" fill="none" stroke="#5c0a4e" stroke-width="1.5" stroke-opacity="0.62" stroke-linejoin="round"/>
<polyline points="82.6,568.1 84.1,568 85.6,567.9 87.1,567.7 88.6,567.6 90.1,567.3 91.6,567.1 93.1,566.8" fill="none" stroke="#6a4a10" stroke-width="1.5" stroke-opacity="0.62" stroke-linejoin="round"/>
<line x1="51" y1="569.8" x2="272" y2="566.8" stroke="#f0562a" stroke-width="1.3"/>
<line x1="51" y1="569.1" x2="272" y2="566.1" stroke="#e0148f" stroke-width="1.4"/>
<polyline points="51,569 52.5,569 54,569 55.5,569 57,569 58.5,568.9 60,568.9 61.5,568.9 63,568.9 64.5,568.9 66,568.8 67.5,568.8 69,568.8 70.5,568.8 72,568.8 73.6,568.7 75.1,568.7 76.6,568.7 78.1,568.7 79.6,568.6 81.1,568.6 82.6,568.6 84.1,568.6 85.6,568.6 87.1,568.5 88.6,568.5" fill="none" stroke="#560844" stroke-width="1.4" stroke-opacity="0.72"/>
<polyline points="231.4,566.5 232.9,566.5 234.4,566.5 235.9,566.5 237.4,566.4 238.9,566.4 240.4,566.4 241.9,566.4 243.4,566.4 244.9,566.3 246.4,566.3 247.9,566.3 249.4,566.3 251,566.2 252.5,566.2 254,566.2 255.5,566.2 257,566.2 258.5,566.1 260,566.1 261.5,566.1 263,566.1 264.5,566.1 266,566 267.5,566 269,566 270.5,566 272,566" fill="none" stroke="#560844" stroke-width="1.4" stroke-opacity="0.72"/>
<line x1="51" y1="569.3" x2="272" y2="566.2" stroke="#3a0828" stroke-width="1.0" stroke-dasharray="0.8 2.4" stroke-opacity="0.3"/>
<path d="M50.5,569.3L52.2,565.8L54,569.3" fill="none" stroke="#e8309a" stroke-width="1.3"/>
<g fill="#555" fill-opacity="0.75">
<circle cx="51.9" cy="632.3" r="0.8"/><circle cx="54.9" cy="628.7" r="0.8"/><circle cx="56.1" cy="629.7" r="0.8"/><circle cx="58.5" cy="650" r="0.8"/><circle cx="61.5" cy="623.4" r="0.8"/><circle cx="63.4" cy="630.7" r="0.8"/><circle cx="65.1" cy="630.3" r="0.8"/><circle cx="67.3" cy="627" r="0.8"/><circle cx="69.2" cy="628.5" r="0.8"/><circle cx="72.9" cy="634.6" r="0.8"/><circle cx="74.2" cy="632.1" r="0.8"/><circle cx="77.5" cy="631.6" r="0.8"/><circle cx="78.1" cy="624.9" r="0.8"/><circle cx="81.3" cy="625" r="0.8"/><circle cx="83" cy="626.3" r="0.8"/><circle cx="85.7" cy="622.5" r="0.8"/><circle cx="88.4" cy="625.7" r="0.8"/><circle cx="89.1" cy="626.8" r="0.8"/><circle cx="92.9" cy="624.4" r="0.8"/><circle cx="95.1" cy="628" r="0.8"/><circle cx="96.6" cy="626.1" r="0.8"/><circle cx="98.3" cy="616" r="0.8"/><circle cx="100.6" cy="628.9" r="0.8"/><circle cx="103.6" cy="623.8" r="0.8"/><circle cx="104.6" cy="622.3" r="0.8"/><circle cx="108.3" cy="615.8" r="0.8"/><circle cx="110.3" cy="619.1" r="0.8"/><circle cx="111.3" cy="622.1" r="0.8"/><circle cx="114.2" cy="618.4" r="0.8"/><circle cx="117" cy="618.8" r="0.8"/><circle cx="118.5" cy="616.9" r="0.8"/><circle cx="120.3" cy="613.5" r="0.8"/><circle cx="122.1" cy="613.9" r="0.8"/><circle cx="125" cy="618.6" r="0.8"/><circle cx="127.1" cy="619.8" r="0.8"/><circle cx="129" cy="603" r="0.8"/><circle cx="131.6" cy="615.4" r="0.8"/><circle cx="134.8" cy="615.8" r="0.8"/><circle cx="135.6" cy="608.5" r="0.8"/><circle cx="137.5" cy="601.8" r="0.8"/><circle cx="141" cy="601.8" r="0.8"/><circle cx="142.7" cy="605.5" r="0.8"/><circle cx="144.5" cy="596.7" r="0.8"/><circle cx="147.1" cy="604.4" r="0.8"/><circle cx="149.6" cy="600.5" r="0.8"/><circle cx="150.9" cy="603.6" r="0.8"/><circle cx="153.1" cy="596.3" r="0.8"/><circle cx="156.6" cy="601.3" r="0.8"/><circle cx="158.2" cy="598.2" r="0.8"/><circle cx="159.7" cy="587.5" r="0.8"/><circle cx="161.8" cy="606" r="0.8"/><circle cx="165" cy="606.9" r="0.8"/><circle cx="167.5" cy="594" r="0.8"/><circle cx="168.4" cy="613.8" r="0.8"/><circle cx="172" cy="603.9" r="0.8"/><circle cx="172.8" cy="611.6" r="0.8"/><circle cx="176.7" cy="599.3" r="0.8"/><circle cx="178.2" cy="580.5" r="0.8"/><circle cx="179.7" cy="602.1" r="0.8"/><circle cx="181.7" cy="594.1" r="0.8"/><circle cx="184.9" cy="588.8" r="0.8"/><circle cx="186.3" cy="595.8" r="0.8"/><circle cx="188.4" cy="592.2" r="0.8"/><circle cx="190.6" cy="597.3" r="0.8"/><circle cx="193.4" cy="603.1" r="0.8"/><circle cx="195.7" cy="599.6" r="0.8"/><circle cx="197.7" cy="609.1" r="0.8"/><circle cx="199.6" cy="617.4" r="0.8"/><circle cx="202.2" cy="624.6" r="0.8"/><circle cx="204.9" cy="626" r="0.8"/><circle cx="206.9" cy="627.2" r="0.8"/><circle cx="208.8" cy="623.8" r="0.8"/><circle cx="210.4" cy="632.9" r="0.8"/><circle cx="213.4" cy="622.8" r="0.8"/><circle cx="215.9" cy="626.3" r="0.8"/><circle cx="217.8" cy="629.1" r="0.8"/><circle cx="220.4" cy="625.1" r="0.8"/><circle cx="222.4" cy="625.1" r="0.8"/><circle cx="225.1" cy="625.1" r="0.8"/><circle cx="227.4" cy="613.1" r="0.8"/><circle cx="228.3" cy="623.7" r="0.8"/><circle cx="231.8" cy="632.3" r="0.8"/><circle cx="233" cy="635.7" r="0.8"/><circle cx="235.4" cy="621.9" r="0.8"/><circle cx="237.8" cy="635" r="0.8"/><circle cx="239.4" cy="623.1" r="0.8"/><circle cx="242.6" cy="627.4" r="0.8"/><circle cx="245" cy="630.6" r="0.8"/><circle cx="247" cy="623.9" r="0.8"/><circle cx="248.8" cy="629.8" r="0.8"/><circle cx="251.4" cy="620.4" r="0.8"/><circle cx="253.4" cy="613.7" r="0.8"/><circle cx="255.8" cy="621.4" r="0.8"/><circle cx="257.3" cy="622.3" r="0.8"/><circle cx="259.6" cy="615.2" r="0.8"/><circle cx="261.4" cy="623.6" r="0.8"/><circle cx="263.3" cy="625" r="0.8"/><circle cx="266.1" cy="621" r="0.8"/><circle cx="267.8" cy="627.5" r="0.8"/><circle cx="270.3" cy="621.5" r="0.8"/>
</g>
<polyline points="51.5,629.5 53,629.5 54.5,629.4 56,629.4 57.5,629.4 59,629.3 60.5,629.3 62,629.2 63.5,629.2 65,629.2 66.5,629.1 68,629.1 69.5,629.1 71,629 72.5,629 74,628.9 75.5,628.9 77,628.8 78.5,628.8 80,628.7 81.5,628.7 83,628.6 84.5,628.6 86,628.5 87.5,628.4 89,628.3 90.5,628.2 92,628.1 93.5,628 95,627.8 96.5,627.6 98,627.3 99.5,627 101,626.6 102.5,626.2 104,625.7 105.5,625.1 107,624.4 108.5,623.7 110,622.9 111.5,622.1 113,621.2 114.5,620.3 116,619.5 117.5,618.6 119,617.8 120.5,617.1 122,616.4 123.5,615.7 125,615 126.5,614.3 128,613.5 129.5,612.7 131,611.7 132.5,610.6 134,609.4 135.5,608.2 137,606.9 138.5,605.6 140,604.4 141.5,603.4 143,602.5 144.5,601.8 146,601.4 147.5,601.1 149,601.1 150.5,601.1 152,601.3 153.5,601.5 155,601.8 156.5,602 158,602.2 159.5,602.4 161,602.5 162.5,602.6 164,602.7 165.5,602.6 167,602.5 168.5,602.3 170,601.9 171.5,601.4 173,600.6 174.5,599.8 176,598.8 177.5,597.7 179,596.7 180.5,595.8 182,595.1 183.5,594.9 185,595.1 186.5,595.8 188,597 189.5,598.7 191,600.7 192.5,603 194,605.5 195.5,608 197,610.4 198.5,612.8 200,614.9 201.5,616.9 203,618.6 204.5,620.1 206,621.4 207.5,622.4 209,623.2 210.5,623.8 212,624.3 213.5,624.7 215,625 216.5,625.2 218,625.4 219.5,625.5 221,625.6 222.5,625.6 224,625.6 225.5,625.7 227,625.7 228.5,625.7 230,625.7 231.5,625.7 233,625.7 234.5,625.7 236,625.7 237.5,625.7 239,625.7 240.5,625.7 242,625.7 243.5,625.7 245,625.7 246.5,625.6 248,625.6 249.5,625.6 251,625.6 252.5,625.6 254,625.6 255.5,625.5 257,625.5 258.5,625.5 260,625.5 261.5,625.5 263,625.4 264.5,625.4 266,625.4 267.5,625.4 269,625.4 270.5,625.3 272,625.3" fill="none" stroke="#8a8a8a" stroke-width="1.25" stroke-linejoin="round"/>
<path d="M53,629.7L53,629.6L54.5,629.6L56,629.6L57.5,629.5L59,629.5L60.5,629.5L62,629.4L63.5,629.4L65,629.4L66.5,629.3L68,629.3L69.5,629.3L71,629.2L72.5,629.2L74,629.2L75.5,629.1L77,629.1L78.5,629.1L80,629L81.5,629L83,629L84.5,628.9L86,628.9L87.5,628.8L89,628.7L90.5,628.7L92,628.6L93.5,628.5L95,628.3L96.5,628.1L98,627.9L99.5,627.7L101,627.3L102.5,627L104,626.5L105.5,626L107,625.4L108.5,624.8L110,624.1L111.5,623.4L113,622.7L114.5,622.1L116,621.5L117.5,621L119,620.6L120.5,620.4L122,620.4L123.5,620.5L125,620.8L126.5,621.3L128.1,621.8L129.6,622.4L131.1,623L132.6,623.7L134.1,624.3L135.6,624.9L137.1,625.4L138.6,625.9L140.1,626.2L141.6,626.6L143.1,626.8L144.6,627L146.1,627.2L147.6,627.3L149.1,627.4L150.6,627.5L152.1,627.5L153.6,627.5L155.1,627.5L156.6,627.5L158.1,627.5L159.6,627.5L161.1,627.5L162.6,627.5L164.1,627.4L165.6,627.4L167.1,627.4L168.6,627.4L170.1,627.4L171.6,627.3L173.1,627.3L174.6,627.3L176.1,627.3L177.6,627.2L179.1,627.2L180.6,627.2L182.1,627.2L183.6,627.1L185.1,627.1L186.6,627.1L188.1,627.1L189.6,627L189.6,627.1Z" fill="#fba204" fill-opacity="0.5" stroke="none"/>
<path d="M53,629.6L54.5,629.6L56,629.6L57.5,629.5L59,629.5L60.5,629.5L62,629.4L63.5,629.4L65,629.4L66.5,629.3L68,629.3L69.5,629.3L71,629.2L72.5,629.2L74,629.2L75.5,629.1L77,629.1L78.5,629.1L80,629L81.5,629L83,629L84.5,628.9L86,628.9L87.5,628.8L89,628.7L90.5,628.7L92,628.6L93.5,628.5L95,628.3L96.5,628.1L98,627.9L99.5,627.7L101,627.3L102.5,627L104,626.5L105.5,626L107,625.4L108.5,624.8L110,624.1L111.5,623.4L113,622.7L114.5,622.1L116,621.5L117.5,621L119,620.6L120.5,620.4L122,620.4L123.5,620.5L125,620.8L126.5,621.3L128.1,621.8L129.6,622.4L131.1,623L132.6,623.7L134.1,624.3L135.6,624.9L137.1,625.4L138.6,625.9L140.1,626.2L141.6,626.6L143.1,626.8L144.6,627L146.1,627.2L147.6,627.3L149.1,627.4L150.6,627.5L152.1,627.5L153.6,627.5L155.1,627.5L156.6,627.5L158.1,627.5L159.6,627.5L161.1,627.5L162.6,627.5L164.1,627.4L165.6,627.4L167.1,627.4L168.6,627.4L170.1,627.4L171.6,627.3L173.1,627.3L174.6,627.3L176.1,627.3L177.6,627.2L179.1,627.2L180.6,627.2L182.1,627.2L183.6,627.1L185.1,627.1L186.6,627.1L188.1,627.1L189.6,627" fill="none" stroke="#ffab0c" stroke-width="1.45" stroke-linejoin="round"/>
<path d="M75.9,629.2L75.9,629.1L77.4,629.1L78.9,629.1L80.4,629L81.9,629L83.4,629L84.9,628.9L86.4,628.9L87.9,628.9L89.4,628.8L90.9,628.8L92.4,628.7L93.9,628.7L95.4,628.7L96.9,628.6L98.4,628.6L99.9,628.5L101.4,628.5L102.9,628.5L104.4,628.4L105.9,628.3L107.4,628.3L108.9,628.2L110.4,628.1L111.9,628L113.4,627.9L114.9,627.7L116.4,627.5L117.9,627.2L119.4,626.9L120.9,626.4L122.4,625.9L123.9,625.2L125.4,624.4L126.9,623.5L128.4,622.4L129.9,621.1L131.4,619.8L132.9,618.3L134.4,616.9L135.9,615.4L137.4,614L138.9,612.7L140.4,611.7L141.9,610.9L143.4,610.5L144.9,610.5L146.4,610.8L147.9,611.5L149.4,612.5L150.9,613.7L152.4,615.1L153.9,616.5L155.4,617.9L156.9,619.3L158.4,620.6L159.9,621.8L161.4,622.8L162.9,623.7L164.4,624.5L165.9,625.1L167.4,625.6L168.9,625.9L170.4,626.2L171.9,626.4L173.4,626.6L174.9,626.7L176.4,626.8L177.9,626.8L179.4,626.9L180.9,626.9L182.4,626.9L183.9,626.9L185.4,626.9L186.9,626.9L188.4,626.9L189.9,626.8L191.4,626.8L192.9,626.8L194.4,626.8L195.9,626.8L197.4,626.8L198.9,626.7L200.4,626.7L201.9,626.7L203.4,626.7L204.9,626.7L206.4,626.6L207.9,626.6L209.4,626.6L210.9,626.6L212.4,626.5L212.4,626.6Z" fill="#fba204" fill-opacity="0.5" stroke="none"/>
<path d="M75.9,629.1L77.4,629.1L78.9,629.1L80.4,629L81.9,629L83.4,629L84.9,628.9L86.4,628.9L87.9,628.9L89.4,628.8L90.9,628.8L92.4,628.7L93.9,628.7L95.4,628.7L96.9,628.6L98.4,628.6L99.9,628.5L101.4,628.5L102.9,628.5L104.4,628.4L105.9,628.3L107.4,628.3L108.9,628.2L110.4,628.1L111.9,628L113.4,627.9L114.9,627.7L116.4,627.5L117.9,627.2L119.4,626.9L120.9,626.4L122.4,625.9L123.9,625.2L125.4,624.4L126.9,623.5L128.4,622.4L129.9,621.1L131.4,619.8L132.9,618.3L134.4,616.9L135.9,615.4L137.4,614L138.9,612.7L140.4,611.7L141.9,610.9L143.4,610.5L144.9,610.5L146.4,610.8L147.9,611.5L149.4,612.5L150.9,613.7L152.4,615.1L153.9,616.5L155.4,617.9L156.9,619.3L158.4,620.6L159.9,621.8L161.4,622.8L162.9,623.7L164.4,624.5L165.9,625.1L167.4,625.6L168.9,625.9L170.4,626.2L171.9,626.4L173.4,626.6L174.9,626.7L176.4,626.8L177.9,626.8L179.4,626.9L180.9,626.9L182.4,626.9L183.9,626.9L185.4,626.9L186.9,626.9L188.4,626.9L189.9,626.8L191.4,626.8L192.9,626.8L194.4,626.8L195.9,626.8L197.4,626.8L198.9,626.7L200.4,626.7L201.9,626.7L203.4,626.7L204.9,626.7L206.4,626.6L207.9,626.6L209.4,626.6L210.9,626.6L212.4,626.5" fill="none" stroke="#ffab0c" stroke-width="1.45" stroke-linejoin="round"/>
<path d="M92.2,628.9L92.2,628.8L93.8,628.8L95.2,628.8L96.8,628.8L98.2,628.7L99.8,628.7L101.2,628.7L102.8,628.6L104.2,628.6L105.8,628.6L107.2,628.5L108.8,628.5L110.2,628.4L111.8,628.4L113.2,628.4L114.8,628.3L116.2,628.3L117.8,628.3L119.2,628.2L120.8,628.2L122.2,628.1L123.8,628.1L125.2,628L126.8,627.9L128.2,627.8L129.8,627.7L131.2,627.6L132.8,627.4L134.2,627.2L135.8,627L137.2,626.6L138.8,626.2L140.2,625.7L141.8,625.1L143.2,624.4L144.8,623.6L146.2,622.6L147.8,621.6L149.2,620.6L150.8,619.4L152.2,618.3L153.8,617.3L155.2,616.3L156.8,615.6L158.2,615L159.8,614.7L161.2,614.6L162.8,614.9L164.2,615.4L165.8,616.1L167.2,617L168.8,618L170.2,619.1L171.8,620.1L173.2,621.1L174.8,622.1L176.2,623L177.8,623.7L179.2,624.4L180.8,624.9L182.2,625.4L183.8,625.7L185.2,626L186.8,626.2L188.2,626.4L189.8,626.5L191.2,626.6L192.8,626.6L194.2,626.6L195.8,626.7L197.2,626.7L198.8,626.7L200.2,626.7L201.8,626.6L203.2,626.6L204.8,626.6L206.2,626.6L207.8,626.6L209.2,626.6L210.8,626.5L212.2,626.5L213.8,626.5L215.2,626.5L216.8,626.4L218.2,626.4L219.8,626.4L221.2,626.4L222.8,626.3L224.2,626.3L225.8,626.3L227.2,626.3L228.8,626.2L228.8,626.3Z" fill="#f65ad5" fill-opacity="0.42" stroke="none"/>
<path d="M92.2,628.8L93.8,628.8L95.2,628.8L96.8,628.8L98.2,628.7L99.8,628.7L101.2,628.7L102.8,628.6L104.2,628.6L105.8,628.6L107.2,628.5L108.8,628.5L110.2,628.4L111.8,628.4L113.2,628.4L114.8,628.3L116.2,628.3L117.8,628.3L119.2,628.2L120.8,628.2L122.2,628.1L123.8,628.1L125.2,628L126.8,627.9L128.2,627.8L129.8,627.7L131.2,627.6L132.8,627.4L134.2,627.2L135.8,627L137.2,626.6L138.8,626.2L140.2,625.7L141.8,625.1L143.2,624.4L144.8,623.6L146.2,622.6L147.8,621.6L149.2,620.6L150.8,619.4L152.2,618.3L153.8,617.3L155.2,616.3L156.8,615.6L158.2,615L159.8,614.7L161.2,614.6L162.8,614.9L164.2,615.4L165.8,616.1L167.2,617L168.8,618L170.2,619.1L171.8,620.1L173.2,621.1L174.8,622.1L176.2,623L177.8,623.7L179.2,624.4L180.8,624.9L182.2,625.4L183.8,625.7L185.2,626L186.8,626.2L188.2,626.4L189.8,626.5L191.2,626.6L192.8,626.6L194.2,626.6L195.8,626.7L197.2,626.7L198.8,626.7L200.2,626.7L201.8,626.6L203.2,626.6L204.8,626.6L206.2,626.6L207.8,626.6L209.2,626.6L210.8,626.5L212.2,626.5L213.8,626.5L215.2,626.5L216.8,626.4L218.2,626.4L219.8,626.4L221.2,626.4L222.8,626.3L224.2,626.3L225.8,626.3L227.2,626.3L228.8,626.2" fill="none" stroke="#ff1fb4" stroke-width="1.45" stroke-linejoin="round"/>
<path d="M117.4,628.4L117.4,628.3L118.9,628.2L120.4,628.2L121.9,628.2L123.4,628.1L124.9,628.1L126.4,628.1L127.9,628L129.4,628L130.9,627.9L132.4,627.9L133.9,627.8L135.4,627.8L136.9,627.8L138.4,627.7L139.9,627.7L141.4,627.6L142.9,627.5L144.4,627.5L145.9,627.4L147.4,627.3L148.9,627.2L150.4,627.1L152,627L153.5,626.8L155,626.6L156.5,626.3L158,626L159.5,625.5L161,624.9L162.5,624.1L164,623.2L165.5,622L167,620.6L168.5,618.9L170,617L171.5,614.8L173,612.5L174.5,610.1L176,607.6L177.5,605.2L179,602.9L180.5,601L182,599.5L183.5,598.5L185,598.2L186.5,598.5L188,599.4L189.5,600.8L191,602.7L192.5,604.9L194,607.3L195.5,609.7L197,612.1L198.5,614.3L200,616.4L201.5,618.3L203,619.9L204.5,621.2L206,622.4L207.5,623.3L209,624L210.5,624.5L212,624.9L213.5,625.3L215,625.5L216.5,625.6L218,625.7L219.6,625.8L221.1,625.9L222.6,625.9L224.1,625.9L225.6,625.9L227.1,625.9L228.6,625.9L230.1,625.9L231.6,625.9L233.1,625.9L234.6,625.9L236.1,625.9L237.6,625.9L239.1,625.9L240.6,625.9L242.1,625.8L243.6,625.8L245.1,625.8L246.6,625.8L248.1,625.8L249.6,625.7L251.1,625.7L252.6,625.7L252.6,625.9Z" fill="#f65ad5" fill-opacity="0.42" stroke="none"/>
<path d="M117.4,628.3L118.9,628.2L120.4,628.2L121.9,628.2L123.4,628.1L124.9,628.1L126.4,628.1L127.9,628L129.4,628L130.9,627.9L132.4,627.9L133.9,627.8L135.4,627.8L136.9,627.8L138.4,627.7L139.9,627.7L141.4,627.6L142.9,627.5L144.4,627.5L145.9,627.4L147.4,627.3L148.9,627.2L150.4,627.1L152,627L153.5,626.8L155,626.6L156.5,626.3L158,626L159.5,625.5L161,624.9L162.5,624.1L164,623.2L165.5,622L167,620.6L168.5,618.9L170,617L171.5,614.8L173,612.5L174.5,610.1L176,607.6L177.5,605.2L179,602.9L180.5,601L182,599.5L183.5,598.5L185,598.2L186.5,598.5L188,599.4L189.5,600.8L191,602.7L192.5,604.9L194,607.3L195.5,609.7L197,612.1L198.5,614.3L200,616.4L201.5,618.3L203,619.9L204.5,621.2L206,622.4L207.5,623.3L209,624L210.5,624.5L212,624.9L213.5,625.3L215,625.5L216.5,625.6L218,625.7L219.6,625.8L221.1,625.9L222.6,625.9L224.1,625.9L225.6,625.9L227.1,625.9L228.6,625.9L230.1,625.9L231.6,625.9L233.1,625.9L234.6,625.9L236.1,625.9L237.6,625.9L239.1,625.9L240.6,625.9L242.1,625.8L243.6,625.8L245.1,625.8L246.6,625.8L248.1,625.8L249.6,625.7L251.1,625.7L252.6,625.7" fill="none" stroke="#ff1fb4" stroke-width="1.45" stroke-linejoin="round"/>
<polyline points="0.2" fill="none" stroke="#3a3a3a" stroke-opacity="51.5,629.5 53,629.5 54.5,629.4 56,629.4 57.5,629.4 59,629.3 60.5,629.3 62,629.2 63.5,629.2 65,629.2 66.5,629.1 68,629.1 69.5,629.1 71,629 72.5,629 74,628.9 75.5,628.9 77,628.8 78.5,628.8 80,628.7 81.5,628.7 83,628.6 84.5,628.6 86,628.5 87.5,628.4 89,628.3 90.5,628.2 92,628.1 93.5,628 95,627.8 96.5,627.6 98,627.3 99.5,627 101,626.6 102.5,626.2 104,625.7 105.5,625.1 107,624.4 108.5,623.7 110,622.9 111.5,622.1 113,621.2 114.5,620.3 116,619.5 117.5,618.6 119,617.8 120.5,617.1 122,616.4 123.5,615.7 125,615 126.5,614.3 128,613.5 129.5,612.7 131,611.7 132.5,610.6 134,609.4 135.5,608.2 137,606.9 138.5,605.6 140,604.4 141.5,603.4 143,602.5 144.5,601.8 146,601.4 147.5,601.1 149,601.1 150.5,601.1 152,601.3 153.5,601.5 155,601.8 156.5,602 158,602.2 159.5,602.4 161,602.5 162.5,602.6 164,602.7 165.5,602.6 167,602.5 168.5,602.3 170,601.9 171.5,601.4 173,600.6 174.5,599.8 176,598.8 177.5,597.7 179,596.7 180.5,595.8 182,595.1 183.5,594.9 185,595.1 186.5,595.8 188,597 189.5,598.7 191,600.7 192.5,603 194,605.5 195.5,608 197,610.4 198.5,612.8 200,614.9 201.5,616.9 203,618.6 204.5,620.1 206,621.4 207.5,622.4 209,623.2 210.5,623.8 212,624.3 213.5,624.7 215,625 216.5,625.2 218,625.4 219.5,625.5 221,625.6 222.5,625.6 224,625.6 225.5,625.7 227,625.7 228.5,625.7 230,625.7 231.5,625.7 233,625.7 234.5,625.7 236,625.7 237.5,625.7 239,625.7 240.5,625.7 242,625.7 243.5,625.7 245,625.7 246.5,625.6 248,625.6 249.5,625.6 251,625.6 252.5,625.6 254,625.6 255.5,625.5 257,625.5 258.5,625.5 260,625.5 261.5,625.5 263,625.4 264.5,625.4 266,625.4 267.5,625.4 269,625.4 270.5,625.3 272,625.3" stroke-width="1.2" stroke-linejoin="round"/>
<polyline points="206,621.8 207.5,622.8 209,623.6 210.5,624.2 212,624.6 213.5,625 215,625.2 216.5,625.4 218,625.6 219.5,625.6" fill="none" stroke="#5c0a4e" stroke-width="1.5" stroke-opacity="0.62" stroke-linejoin="round"/>
<polyline points="95,628.1 96.5,627.9 98,627.6 99.5,627.3 101,627 102.5,626.6 104,626.1 105.5,625.5" fill="none" stroke="#6a4a10" stroke-width="1.5" stroke-opacity="0.62" stroke-linejoin="round"/>
<line x1="51.5" y1="630.2" x2="272" y2="626" stroke="#f0562a" stroke-width="1.3"/>
<line x1="51.5" y1="629.6" x2="272" y2="625.4" stroke="#e0148f" stroke-width="1.4"/>
<polyline points="51.5,629.5 53,629.4 54.5,629.4 56,629.4 57.5,629.3 59,629.3 60.5,629.3 62,629.2 63.5,629.2 65,629.2 66.5,629.2 68,629.1 69.5,629.1 71,629.1 72.5,629.1 74,629 75.5,629 77,629 78.5,628.9 80,628.9 81.5,628.9 83,628.9 84.5,628.8 86,628.8 87.5,628.8 89,628.7 90.5,628.7 92,628.7 93.5,628.7 95,628.6 96.5,628.6 98,628.6" fill="none" stroke="#560844" stroke-width="1.4" stroke-opacity="0.72"/>
<polyline points="215,626.3 216.5,626.3 218,626.3 219.5,626.2 221,626.2 222.5,626.2 224,626.2 225.5,626.1 227,626.1 228.5,626.1 230,626 231.5,626 233,626 234.5,626 236,625.9 237.5,625.9 239,625.9 240.5,625.9 242,625.8 243.5,625.8 245,625.8 246.5,625.7 248,625.7 249.5,625.7 251,625.6 252.5,625.6 254,625.6 255.5,625.6 257,625.5 258.5,625.5 260,625.5 261.5,625.5 263,625.4 264.5,625.4 266,625.4 267.5,625.3 269,625.3 270.5,625.3 272,625.2" fill="none" stroke="#560844" stroke-width="1.4" stroke-opacity="0.72"/>
<line x1="51.5" y1="629.7" x2="272" y2="625.5" stroke="#3a0828" stroke-width="1.0" stroke-dasharray="0.8 2.4" stroke-opacity="0.3"/>
<g fill="#777" fill-opacity="0.7">
<circle cx="305.8" cy="434.9" r="0.7"/><circle cx="307.4" cy="440.3" r="0.7"/><circle cx="309.1" cy="430.7" r="0.7"/><circle cx="310.7" cy="431.7" r="0.7"/><circle cx="312.3" cy="428.4" r="0.7"/><circle cx="314" cy="428.2" r="0.7"/><circle cx="315.6" cy="430.4" r="0.7"/><circle cx="317.2" cy="435.2" r="0.7"/><circle cx="318.8" cy="431.5" r="0.7"/><circle cx="320.5" cy="429.2" r="0.7"/><circle cx="322.1" cy="436.2" r="0.7"/><circle cx="323.7" cy="436.3" r="0.7"/><circle cx="325.4" cy="432.8" r="0.7"/><circle cx="327" cy="428.9" r="0.7"/><circle cx="328.6" cy="438.3" r="0.7"/><circle cx="330.2" cy="440.5" r="0.7"/><circle cx="331.9" cy="425.6" r="0.7"/><circle cx="333.5" cy="435.6" r="0.7"/><circle cx="335.1" cy="430.7" r="0.7"/><circle cx="336.8" cy="440.7" r="0.7"/><circle cx="338.4" cy="432" r="0.7"/><circle cx="340" cy="438.6" r="0.7"/><circle cx="341.6" cy="436.5" r="0.7"/><circle cx="343.3" cy="433.4" r="0.7"/><circle cx="344.9" cy="433.8" r="0.7"/><circle cx="346.5" cy="434.2" r="0.7"/><circle cx="348.2" cy="434.8" r="0.7"/><circle cx="349.8" cy="429.8" r="0.7"/><circle cx="351.4" cy="429.2" r="0.7"/><circle cx="353" cy="433.1" r="0.7"/><circle cx="354.7" cy="435" r="0.7"/><circle cx="356.3" cy="429.9" r="0.7"/><circle cx="357.9" cy="437.6" r="0.7"/><circle cx="359.6" cy="440" r="0.7"/><circle cx="361.2" cy="429.5" r="0.7"/><circle cx="362.8" cy="431.4" r="0.7"/><circle cx="364.4" cy="427.3" r="0.7"/><circle cx="366.1" cy="437.8" r="0.7"/><circle cx="367.7" cy="428.9" r="0.7"/><circle cx="369.3" cy="435.4" r="0.7"/><circle cx="371" cy="433.3" r="0.7"/><circle cx="372.6" cy="439" r="0.7"/><circle cx="374.2" cy="440.8" r="0.7"/><circle cx="375.8" cy="440" r="0.7"/><circle cx="377.5" cy="437.3" r="0.7"/><circle cx="379.1" cy="427.2" r="0.7"/><circle cx="380.7" cy="434.9" r="0.7"/><circle cx="382.4" cy="433.7" r="0.7"/><circle cx="384" cy="432.2" r="0.7"/><circle cx="385.6" cy="437.8" r="0.7"/><circle cx="387.2" cy="436.2" r="0.7"/><circle cx="388.9" cy="438.8" r="0.7"/><circle cx="390.5" cy="442.9" r="0.7"/><circle cx="392.1" cy="430.9" r="0.7"/><circle cx="393.8" cy="432.1" r="0.7"/><circle cx="395.4" cy="433.1" r="0.7"/><circle cx="397" cy="433.5" r="0.7"/><circle cx="398.6" cy="428.8" r="0.7"/><circle cx="400.3" cy="429.7" r="0.7"/><circle cx="401.9" cy="431.1" r="0.7"/><circle cx="403.5" cy="426.9" r="0.7"/><circle cx="405.2" cy="435.2" r="0.7"/><circle cx="406.8" cy="431.3" r="0.7"/><circle cx="408.4" cy="425.8" r="0.7"/><circle cx="410" cy="431.6" r="0.7"/><circle cx="411.7" cy="439.3" r="0.7"/><circle cx="413.3" cy="428.9" r="0.7"/><circle cx="414.9" cy="431.4" r="0.7"/><circle cx="416.6" cy="431.6" r="0.7"/><circle cx="418.2" cy="428.4" r="0.7"/><circle cx="419.8" cy="437.4" r="0.7"/><circle cx="421.4" cy="431.8" r="0.7"/><circle cx="423.1" cy="437" r="0.7"/><circle cx="424.7" cy="435.7" r="0.7"/><circle cx="426.3" cy="432.4" r="0.7"/><circle cx="428" cy="437.4" r="0.7"/><circle cx="429.6" cy="429.6" r="0.7"/><circle cx="431.2" cy="436.3" r="0.7"/><circle cx="432.8" cy="441" r="0.7"/><circle cx="434.5" cy="437.6" r="0.7"/><circle cx="436.1" cy="441" r="0.7"/><circle cx="437.7" cy="441.6" r="0.7"/><circle cx="439.4" cy="434.1" r="0.7"/><circle cx="441" cy="430.3" r="0.7"/><circle cx="442.6" cy="435.7" r="0.7"/><circle cx="444.2" cy="435.1" r="0.7"/><circle cx="445.9" cy="428.8" r="0.7"/><circle cx="447.5" cy="435.3" r="0.7"/><circle cx="449.1" cy="432.4" r="0.7"/><circle cx="450.8" cy="429.4" r="0.7"/><circle cx="452.4" cy="430.2" r="0.7"/><circle cx="454" cy="434.8" r="0.7"/><circle cx="455.6" cy="432.7" r="0.7"/><circle cx="457.3" cy="426.4" r="0.7"/><circle cx="458.9" cy="434.2" r="0.7"/><circle cx="460.5" cy="434.9" r="0.7"/><circle cx="462.2" cy="436.4" r="0.7"/><circle cx="463.8" cy="434.4" r="0.7"/><circle cx="465.4" cy="431" r="0.7"/><circle cx="467" cy="432.8" r="0.7"/><circle cx="468.7" cy="436" r="0.7"/><circle cx="470.3" cy="432.3" r="0.7"/><circle cx="471.9" cy="435.1" r="0.7"/><circle cx="473.6" cy="431.6" r="0.7"/><circle cx="475.2" cy="432.6" r="0.7"/><circle cx="476.8" cy="432.4" r="0.7"/><circle cx="478.4" cy="429.9" r="0.7"/><circle cx="480.1" cy="431.8" r="0.7"/><circle cx="481.7" cy="431.3" r="0.7"/><circle cx="483.3" cy="435.1" r="0.7"/><circle cx="485" cy="431" r="0.7"/><circle cx="486.6" cy="436.9" r="0.7"/><circle cx="488.2" cy="433" r="0.7"/><circle cx="489.8" cy="432.6" r="0.7"/><circle cx="491.5" cy="433.7" r="0.7"/><circle cx="493.1" cy="429.4" r="0.7"/><circle cx="494.7" cy="438.4" r="0.7"/><circle cx="496.4" cy="432.1" r="0.7"/><circle cx="498" cy="428.6" r="0.7"/><circle cx="499.6" cy="433.2" r="0.7"/><circle cx="501.2" cy="430.9" r="0.7"/><circle cx="502.9" cy="440" r="0.7"/><circle cx="504.5" cy="434.8" r="0.7"/><circle cx="506.1" cy="425.1" r="0.7"/><circle cx="507.8" cy="437.2" r="0.7"/><circle cx="509.4" cy="431.5" r="0.7"/><circle cx="511" cy="434.2" r="0.7"/><circle cx="512.6" cy="441.7" r="0.7"/><circle cx="514.3" cy="437" r="0.7"/><circle cx="515.9" cy="433.8" r="0.7"/><circle cx="517.5" cy="433.4" r="0.7"/><circle cx="519.2" cy="436" r="0.7"/><circle cx="520.8" cy="436.4" r="0.7"/><circle cx="522.4" cy="436.1" r="0.7"/><circle cx="524" cy="433.1" r="0.7"/><circle cx="525.7" cy="426.8" r="0.7"/><circle cx="527.3" cy="428.6" r="0.7"/><circle cx="528.9" cy="433.6" r="0.7"/><circle cx="530.6" cy="429.6" r="0.7"/><circle cx="532.2" cy="429.3" r="0.7"/>
</g>
<g fill="#777" fill-opacity="0.7">
<circle cx="414.8" cy="456.3" r="0.6"/><circle cx="416.5" cy="456.9" r="0.6"/><circle cx="418.2" cy="454.1" r="0.6"/><circle cx="419.8" cy="455.7" r="0.6"/><circle cx="421.5" cy="455.8" r="0.6"/><circle cx="423.2" cy="456.6" r="0.6"/><circle cx="424.8" cy="454.3" r="0.6"/><circle cx="426.5" cy="455" r="0.6"/><circle cx="428.2" cy="453.8" r="0.6"/>
</g>
<g fill="#bbb" fill-opacity="0.6">
<circle cx="435.7" cy="341.3" r="0.5"/><circle cx="439.1" cy="342.3" r="0.5"/><circle cx="442.5" cy="339.6" r="0.5"/><circle cx="445.8" cy="341.2" r="0.5"/><circle cx="449.2" cy="341.6" r="0.5"/><circle cx="452.6" cy="342.9" r="0.5"/><circle cx="456" cy="341.8" r="0.5"/><circle cx="459.4" cy="340.3" r="0.5"/><circle cx="462.8" cy="343.1" r="0.5"/><circle cx="466.2" cy="341.4" r="0.5"/><circle cx="469.5" cy="339.9" r="0.5"/><circle cx="472.9" cy="342.1" r="0.5"/><circle cx="476.3" cy="341.4" r="0.5"/><circle cx="479.7" cy="342" r="0.5"/><circle cx="483.1" cy="340.5" r="0.5"/><circle cx="486.5" cy="340" r="0.5"/><circle cx="489.8" cy="340.6" r="0.5"/><circle cx="493.2" cy="342.2" r="0.5"/><circle cx="496.6" cy="339.9" r="0.5"/><circle cx="500" cy="340.3" r="0.5"/><circle cx="503.4" cy="341.2" r="0.5"/><circle cx="506.8" cy="342.5" r="0.5"/><circle cx="510.2" cy="342.1" r="0.5"/><circle cx="513.5" cy="342.3" r="0.5"/><circle cx="516.9" cy="340.7" r="0.5"/><circle cx="520.3" cy="342.1" r="0.5"/>
</g>
<g fill="#555" fill-opacity="0.7">
<circle cx="304.5" cy="523.3" r="0.65"/><circle cx="306.1" cy="525.8" r="0.65"/><circle cx="306.5" cy="517.7" r="0.65"/><circle cx="307.8" cy="524.4" r="0.65"/><circle cx="309.5" cy="523.8" r="0.65"/><circle cx="310.5" cy="523.9" r="0.65"/><circle cx="312.1" cy="519.6" r="0.65"/><circle cx="312.8" cy="526" r="0.65"/><circle cx="314.1" cy="527.4" r="0.65"/><circle cx="316" cy="526.9" r="0.65"/><circle cx="316.9" cy="524.9" r="0.65"/><circle cx="318.3" cy="521.3" r="0.65"/><circle cx="318.9" cy="523.2" r="0.65"/><circle cx="320.8" cy="529.1" r="0.65"/><circle cx="321.7" cy="526.6" r="0.65"/><circle cx="322.7" cy="525.7" r="0.65"/><circle cx="324" cy="525.2" r="0.65"/><circle cx="325.9" cy="522.4" r="0.65"/><circle cx="327.1" cy="527.3" r="0.65"/><circle cx="327.9" cy="525.4" r="0.65"/><circle cx="328.7" cy="518.2" r="0.65"/><circle cx="330" cy="527.5" r="0.65"/><circle cx="331.7" cy="527.4" r="0.65"/><circle cx="333.3" cy="527.2" r="0.65"/><circle cx="333.8" cy="525.6" r="0.65"/><circle cx="335.4" cy="524.3" r="0.65"/><circle cx="336.1" cy="527.5" r="0.65"/><circle cx="338.2" cy="526.1" r="0.65"/><circle cx="339" cy="520.5" r="0.65"/><circle cx="339.9" cy="526.9" r="0.65"/><circle cx="341.6" cy="526.2" r="0.65"/><circle cx="343.2" cy="527.9" r="0.65"/><circle cx="343.5" cy="519.9" r="0.65"/><circle cx="344.9" cy="522.5" r="0.65"/><circle cx="346.2" cy="535.2" r="0.65"/><circle cx="347.3" cy="523.5" r="0.65"/><circle cx="349.1" cy="525.9" r="0.65"/><circle cx="350.3" cy="522.9" r="0.65"/><circle cx="350.9" cy="520.3" r="0.65"/><circle cx="352.7" cy="526.9" r="0.65"/><circle cx="354.1" cy="525.6" r="0.65"/><circle cx="355.5" cy="524.4" r="0.65"/><circle cx="356.4" cy="519.6" r="0.65"/><circle cx="358" cy="523.4" r="0.65"/><circle cx="358.9" cy="527.9" r="0.65"/><circle cx="359.9" cy="522.7" r="0.65"/><circle cx="361.2" cy="522.5" r="0.65"/><circle cx="362.3" cy="524.8" r="0.65"/><circle cx="363.3" cy="520.1" r="0.65"/><circle cx="365.3" cy="519.5" r="0.65"/><circle cx="365.7" cy="521.6" r="0.65"/><circle cx="367.4" cy="514.2" r="0.65"/><circle cx="368.9" cy="519.5" r="0.65"/><circle cx="369.8" cy="524.4" r="0.65"/><circle cx="370.9" cy="521.9" r="0.65"/><circle cx="372.2" cy="517.5" r="0.65"/><circle cx="374" cy="514.3" r="0.65"/><circle cx="374.5" cy="520.8" r="0.65"/><circle cx="376.4" cy="516.3" r="0.65"/><circle cx="377.8" cy="516.6" r="0.65"/><circle cx="378.2" cy="524.2" r="0.65"/><circle cx="379.9" cy="511.2" r="0.65"/><circle cx="380.5" cy="515.8" r="0.65"/><circle cx="382.1" cy="513.3" r="0.65"/><circle cx="383.6" cy="514.1" r="0.65"/><circle cx="384.4" cy="509.7" r="0.65"/><circle cx="386" cy="509.5" r="0.65"/><circle cx="387.2" cy="508.2" r="0.65"/><circle cx="388.6" cy="508.7" r="0.65"/><circle cx="389.9" cy="505.3" r="0.65"/><circle cx="391.1" cy="497.2" r="0.65"/><circle cx="391.8" cy="505.7" r="0.65"/><circle cx="393.6" cy="499.7" r="0.65"/><circle cx="394.6" cy="490.9" r="0.65"/><circle cx="395.4" cy="500" r="0.65"/><circle cx="396.7" cy="495.7" r="0.65"/><circle cx="398.4" cy="497.2" r="0.65"/><circle cx="399.3" cy="494.1" r="0.65"/><circle cx="400.3" cy="491.7" r="0.65"/><circle cx="402.1" cy="491.1" r="0.65"/><circle cx="403.1" cy="488.5" r="0.65"/><circle cx="404.9" cy="488.1" r="0.65"/><circle cx="405.7" cy="484.7" r="0.65"/><circle cx="407.4" cy="482" r="0.65"/><circle cx="408.6" cy="477.4" r="0.65"/><circle cx="409.4" cy="479.2" r="0.65"/><circle cx="411" cy="482.9" r="0.65"/><circle cx="411.9" cy="479.7" r="0.65"/><circle cx="412.9" cy="476.1" r="0.65"/><circle cx="413.9" cy="470.9" r="0.65"/><circle cx="415.8" cy="470.8" r="0.65"/><circle cx="416.9" cy="474.5" r="0.65"/><circle cx="417.6" cy="470.5" r="0.65"/><circle cx="419.6" cy="470.2" r="0.65"/><circle cx="420.2" cy="474.2" r="0.65"/><circle cx="421.9" cy="467.3" r="0.65"/><circle cx="423.3" cy="476.8" r="0.65"/><circle cx="424.3" cy="474.3" r="0.65"/><circle cx="425.6" cy="473.8" r="0.65"/><circle cx="426.4" cy="476.5" r="0.65"/><circle cx="428" cy="479.2" r="0.65"/><circle cx="429" cy="481.7" r="0.65"/><circle cx="430.4" cy="483" r="0.65"/><circle cx="431.9" cy="487.2" r="0.65"/><circle cx="432.7" cy="489.5" r="0.65"/><circle cx="434.5" cy="493.6" r="0.65"/><circle cx="435.4" cy="505.5" r="0.65"/><circle cx="436.9" cy="498.4" r="0.65"/><circle cx="437.4" cy="499.7" r="0.65"/><circle cx="439.3" cy="507.1" r="0.65"/><circle cx="440" cy="506.9" r="0.65"/><circle cx="441.1" cy="510.4" r="0.65"/><circle cx="443.2" cy="515.4" r="0.65"/><circle cx="444.2" cy="513.4" r="0.65"/><circle cx="445.2" cy="512" r="0.65"/><circle cx="446.6" cy="516.3" r="0.65"/><circle cx="447.4" cy="517.4" r="0.65"/><circle cx="448.6" cy="522.4" r="0.65"/><circle cx="450.1" cy="520.2" r="0.65"/><circle cx="451" cy="519.8" r="0.65"/><circle cx="452.9" cy="523.2" r="0.65"/><circle cx="454.2" cy="522.2" r="0.65"/><circle cx="455.2" cy="521.8" r="0.65"/><circle cx="456.1" cy="522.8" r="0.65"/><circle cx="457.3" cy="524.6" r="0.65"/><circle cx="459.1" cy="513.7" r="0.65"/><circle cx="460.4" cy="527.9" r="0.65"/><circle cx="461.7" cy="519.1" r="0.65"/><circle cx="462.9" cy="524.1" r="0.65"/><circle cx="463.5" cy="523.2" r="0.65"/><circle cx="465" cy="518.5" r="0.65"/><circle cx="466.5" cy="521.3" r="0.65"/><circle cx="467.3" cy="521.6" r="0.65"/><circle cx="468.6" cy="523" r="0.65"/><circle cx="470" cy="517" r="0.65"/><circle cx="470.8" cy="518.4" r="0.65"/><circle cx="472.2" cy="518.4" r="0.65"/><circle cx="473.6" cy="520.4" r="0.65"/><circle cx="474.5" cy="517.2" r="0.65"/><circle cx="475.7" cy="513.2" r="0.65"/><circle cx="477.4" cy="515" r="0.65"/><circle cx="478.6" cy="519.2" r="0.65"/><circle cx="480" cy="519.3" r="0.65"/><circle cx="480.7" cy="511.6" r="0.65"/><circle cx="482.3" cy="513.8" r="0.65"/><circle cx="483.5" cy="514" r="0.65"/><circle cx="484.7" cy="514.7" r="0.65"/><circle cx="486.3" cy="509.8" r="0.65"/><circle cx="487.2" cy="515.5" r="0.65"/><circle cx="488.2" cy="513.8" r="0.65"/><circle cx="489.7" cy="510.5" r="0.65"/><circle cx="491.3" cy="509.5" r="0.65"/><circle cx="491.6" cy="510.3" r="0.65"/><circle cx="492.9" cy="510.2" r="0.65"/><circle cx="494.9" cy="512.5" r="0.65"/><circle cx="495.7" cy="507.5" r="0.65"/><circle cx="497.4" cy="505.5" r="0.65"/><circle cx="498.5" cy="506.9" r="0.65"/><circle cx="499.4" cy="506.5" r="0.65"/><circle cx="500.6" cy="509.5" r="0.65"/><circle cx="501.7" cy="501.8" r="0.65"/><circle cx="503.3" cy="502.7" r="0.65"/><circle cx="504" cy="506.7" r="0.65"/><circle cx="505.6" cy="506.9" r="0.65"/><circle cx="507.3" cy="505" r="0.65"/><circle cx="508.4" cy="502.4" r="0.65"/><circle cx="509.1" cy="511.2" r="0.65"/><circle cx="510.8" cy="512.8" r="0.65"/><circle cx="511.6" cy="508" r="0.65"/><circle cx="512.9" cy="516.2" r="0.65"/><circle cx="514.4" cy="505.5" r="0.65"/><circle cx="515.1" cy="511" r="0.65"/><circle cx="516.5" cy="515" r="0.65"/><circle cx="517.6" cy="510.3" r="0.65"/><circle cx="518.9" cy="516.9" r="0.65"/><circle cx="520.9" cy="521.2" r="0.65"/><circle cx="521.4" cy="519.1" r="0.65"/><circle cx="522.9" cy="523.2" r="0.65"/><circle cx="524.5" cy="527" r="0.65"/><circle cx="525.6" cy="520" r="0.65"/><circle cx="526.6" cy="525.9" r="0.65"/><circle cx="527.8" cy="523.2" r="0.65"/><circle cx="529.1" cy="516" r="0.65"/><circle cx="530.4" cy="515.9" r="0.65"/><circle cx="532" cy="523.8" r="0.65"/><circle cx="532.7" cy="522.3" r="0.65"/><circle cx="534.4" cy="523.9" r="0.65"/><circle cx="535" cy="514.7" r="0.65"/><circle cx="536.6" cy="527" r="0.65"/><circle cx="537.9" cy="521.9" r="0.65"/>
</g>
<polyline points="304,524.5 305.5,524.5 307,524.5 308.5,524.5 310,524.5 311.5,524.5 313,524.5 314.5,524.5 316,524.5 317.5,524.5 319,524.5 320.5,524.4 322,524.4 323.5,524.4 325,524.4 326.5,524.4 328.1,524.4 329.6,524.4 331.1,524.3 332.6,524.3 334.1,524.3 335.6,524.3 337.1,524.2 338.6,524.2 340.1,524.2 341.6,524.1 343.1,524.1 344.6,524 346.1,523.9 347.6,523.8 349.1,523.7 350.6,523.6 352.1,523.4 353.6,523.2 355.1,523 356.6,522.7 358.1,522.4 359.6,522.1 361.1,521.7 362.6,521.3 364.1,520.9 365.6,520.5 367.1,520 368.6,519.5 370.1,519 371.6,518.5 373.1,517.9 374.7,517.2 376.2,516.5 377.7,515.7 379.2,514.7 380.7,513.7 382.2,512.4 383.7,511.1 385.2,509.5 386.7,507.8 388.2,506 389.7,504.1 391.2,502.1 392.7,500 394.2,498 395.7,495.9 397.2,493.9 398.7,492 400.2,490.2 401.7,488.4 403.2,486.7 404.7,485 406.2,483.5 407.7,482 409.2,480.5 410.7,479 412.2,477.5 413.7,476.1 415.2,474.8 416.7,473.6 418.2,472.6 419.7,472 421.2,471.8 422.8,472.2 424.3,473.3 425.8,475 427.3,477.3 428.8,480.2 430.3,483.5 431.8,487.1 433.3,490.9 434.8,494.7 436.3,498.4 437.8,501.9 439.3,505.2 440.8,508.2 442.3,510.9 443.8,513.3 445.3,515.3 446.8,516.9 448.3,518.3 449.8,519.4 451.3,520.2 452.8,520.9 454.3,521.4 455.8,521.7 457.3,521.9 458.8,522 460.3,522 461.8,521.9 463.3,521.7 464.8,521.5 466.3,521.1 467.8,520.8 469.4,520.3 470.9,519.8 472.4,519.2 473.9,518.6 475.4,517.9 476.9,517.1 478.4,516.3 479.9,515.5 481.4,514.6 482.9,513.8 484.4,512.9 485.9,512.1 487.4,511.3 488.9,510.5 490.4,509.7 491.9,509.1 493.4,508.4 494.9,507.9 496.4,507.4 497.9,507.1 499.4,506.8 500.9,506.7 502.4,506.8 503.9,507 505.4,507.4 506.9,507.9 508.4,508.7 509.9,509.5 511.4,510.5 512.9,511.5 514.4,512.6 516,513.8 517.5,514.9 519,516 520.5,517 522,518 523.5,518.9 525,519.7 526.5,520.5 528,521.1 529.5,521.7 531,522.2 532.5,522.6 534,522.9 535.5,523.2 537,523.5 538.5,523.6" fill="none" stroke="#8a8a8a" stroke-width="1.25" stroke-linejoin="round"/>
<path d="M304,524.8L304,524.8L305.5,524.8L307,524.8L308.5,524.8L310,524.8L311.5,524.8L313,524.8L314.5,524.8L316,524.8L317.5,524.8L319,524.8L320.5,524.8L322,524.8L323.5,524.8L325,524.8L326.5,524.8L328,524.8L329.5,524.8L331,524.7L332.5,524.7L334,524.7L335.5,524.7L337,524.7L338.5,524.7L340,524.7L341.5,524.7L343,524.6L344.5,524.6L346,524.5L347.5,524.5L349,524.4L350.5,524.3L352,524.2L353.5,524L355,523.9L356.5,523.7L358,523.5L359.5,523.2L361,523L362.5,522.8L364,522.5L365.5,522.3L367,522.1L368.5,522L370,521.9L371.5,521.8L373,521.8L374.5,521.9L376,522L377.5,522.2L379,522.4L380.5,522.6L382,522.8L383.5,523.1L385,523.3L386.5,523.5L388,523.7L389.5,523.9L391,524.1L392.5,524.2L394,524.3L395.5,524.4L397,524.5L398.5,524.6L400,524.6L401.5,524.6L403,524.7L404.5,524.7L406,524.7L407.5,524.7L409,524.7L410.5,524.7L412,524.7L413.5,524.8L415,524.8L416.5,524.8L418,524.8L419.5,524.8L421,524.8L422.5,524.8L424,524.8L425.5,524.8L427,524.8L428.5,524.8L430,524.8L431.5,524.8L433,524.8L434.5,524.8L436,524.8L437.5,524.8L439,524.8L440.5,524.8L442,524.8L443.5,524.8L443.5,524.8Z" fill="#fba204" fill-opacity="0.5" stroke="none"/>
<path d="M304,524.8L305.5,524.8L307,524.8L308.5,524.8L310,524.8L311.5,524.8L313,524.8L314.5,524.8L316,524.8L317.5,524.8L319,524.8L320.5,524.8L322,524.8L323.5,524.8L325,524.8L326.5,524.8L328,524.8L329.5,524.8L331,524.7L332.5,524.7L334,524.7L335.5,524.7L337,524.7L338.5,524.7L340,524.7L341.5,524.7L343,524.6L344.5,524.6L346,524.5L347.5,524.5L349,524.4L350.5,524.3L352,524.2L353.5,524L355,523.9L356.5,523.7L358,523.5L359.5,523.2L361,523L362.5,522.8L364,522.5L365.5,522.3L367,522.1L368.5,522L370,521.9L371.5,521.8L373,521.8L374.5,521.9L376,522L377.5,522.2L379,522.4L380.5,522.6L382,522.8L383.5,523.1L385,523.3L386.5,523.5L388,523.7L389.5,523.9L391,524.1L392.5,524.2L394,524.3L395.5,524.4L397,524.5L398.5,524.6L400,524.6L401.5,524.6L403,524.7L404.5,524.7L406,524.7L407.5,524.7L409,524.7L410.5,524.7L412,524.7L413.5,524.8L415,524.8L416.5,524.8L418,524.8L419.5,524.8L421,524.8L422.5,524.8L424,524.8L425.5,524.8L427,524.8L428.5,524.8L430,524.8L431.5,524.8L433,524.8L434.5,524.8L436,524.8L437.5,524.8L439,524.8L440.5,524.8L442,524.8L443.5,524.8" fill="none" stroke="#ffab0c" stroke-width="1.45" stroke-linejoin="round"/>
<path d="M316.7,524.8L316.7,524.7L318.2,524.7L319.7,524.7L321.2,524.7L322.7,524.7L324.2,524.7L325.7,524.7L327.2,524.7L328.7,524.7L330.2,524.7L331.7,524.7L333.2,524.7L334.7,524.7L336.2,524.7L337.7,524.7L339.2,524.7L340.7,524.7L342.2,524.7L343.7,524.7L345.2,524.7L346.7,524.7L348.2,524.6L349.7,524.6L351.2,524.6L352.7,524.6L354.2,524.6L355.7,524.6L357.2,524.5L358.7,524.5L360.2,524.4L361.7,524.3L363.2,524.2L364.7,524.1L366.2,524L367.7,523.8L369.2,523.5L370.7,523.3L372.2,522.9L373.7,522.5L375.2,522L376.7,521.5L378.2,520.9L379.7,520.3L381.2,519.6L382.7,518.9L384.2,518.2L385.7,517.5L387.2,516.8L388.7,516.2L390.2,515.7L391.7,515.3L393.2,515.1L394.7,515L396.2,515.1L397.7,515.3L399.2,515.7L400.7,516.2L402.2,516.8L403.7,517.5L405.2,518.2L406.7,518.9L408.2,519.6L409.7,520.3L411.2,520.9L412.7,521.5L414.2,522L415.7,522.5L417.2,522.9L418.7,523.3L420.2,523.5L421.7,523.8L423.2,524L424.7,524.1L426.2,524.2L427.7,524.3L429.2,524.4L430.7,524.5L432.2,524.5L433.7,524.6L435.2,524.6L436.7,524.6L438.2,524.6L439.7,524.6L441.2,524.6L442.7,524.7L444.2,524.7L445.7,524.7L447.2,524.7L448.7,524.7L450.2,524.7L451.7,524.7L453.2,524.7L454.7,524.7L456.2,524.7L457.7,524.7L459.2,524.7L460.7,524.7L462.2,524.7L463.7,524.7L465.2,524.7L466.7,524.7L468.2,524.7L469.7,524.7L471.2,524.7L472.7,524.7L472.7,524.8Z" fill="#fba204" fill-opacity="0.5" stroke="none"/>
<path d="M316.7,524.7L318.2,524.7L319.7,524.7L321.2,524.7L322.7,524.7L324.2,524.7L325.7,524.7L327.2,524.7L328.7,524.7L330.2,524.7L331.7,524.7L333.2,524.7L334.7,524.7L336.2,524.7L337.7,524.7L339.2,524.7L340.7,524.7L342.2,524.7L343.7,524.7L345.2,524.7L346.7,524.7L348.2,524.6L349.7,524.6L351.2,524.6L352.7,524.6L354.2,524.6L355.7,524.6L357.2,524.5L358.7,524.5L360.2,524.4L361.7,524.3L363.2,524.2L364.7,524.1L366.2,524L367.7,523.8L369.2,523.5L370.7,523.3L372.2,522.9L373.7,522.5L375.2,522L376.7,521.5L378.2,520.9L379.7,520.3L381.2,519.6L382.7,518.9L384.2,518.2L385.7,517.5L387.2,516.8L388.7,516.2L390.2,515.7L391.7,515.3L393.2,515.1L394.7,515L396.2,515.1L397.7,515.3L399.2,515.7L400.7,516.2L402.2,516.8L403.7,517.5L405.2,518.2L406.7,518.9L408.2,519.6L409.7,520.3L411.2,520.9L412.7,521.5L414.2,522L415.7,522.5L417.2,522.9L418.7,523.3L420.2,523.5L421.7,523.8L423.2,524L424.7,524.1L426.2,524.2L427.7,524.3L429.2,524.4L430.7,524.5L432.2,524.5L433.7,524.6L435.2,524.6L436.7,524.6L438.2,524.6L439.7,524.6L441.2,524.6L442.7,524.7L444.2,524.7L445.7,524.7L447.2,524.7L448.7,524.7L450.2,524.7L451.7,524.7L453.2,524.7L454.7,524.7L456.2,524.7L457.7,524.7L459.2,524.7L460.7,524.7L462.2,524.7L463.7,524.7L465.2,524.7L466.7,524.7L468.2,524.7L469.7,524.7L471.2,524.7L472.7,524.7" fill="none" stroke="#ffab0c" stroke-width="1.45" stroke-linejoin="round"/>
<path d="M327.6,524.8L327.6,524.7L329.1,524.7L330.6,524.7L332.1,524.7L333.6,524.7L335.1,524.7L336.6,524.6L338.1,524.6L339.6,524.6L341.1,524.6L342.6,524.6L344.1,524.6L345.6,524.6L347.1,524.6L348.6,524.6L350.1,524.6L351.6,524.6L353.1,524.5L354.6,524.5L356.1,524.5L357.6,524.5L359.1,524.5L360.6,524.4L362.1,524.4L363.6,524.4L365.1,524.3L366.6,524.3L368.1,524.2L369.6,524.1L371.1,524L372.6,523.8L374.1,523.6L375.6,523.3L377.1,523L378.6,522.6L380.1,522.1L381.6,521.4L383.1,520.7L384.6,519.8L386.1,518.8L387.6,517.7L389.1,516.4L390.6,515L392.1,513.5L393.6,512L395.1,510.4L396.6,508.9L398.1,507.4L399.6,506.1L401.1,505L402.6,504.2L404.1,503.7L405.6,503.5L407.1,503.7L408.6,504.2L410.1,505L411.6,506.1L413.1,507.4L414.6,508.9L416.1,510.4L417.6,512L419.1,513.5L420.6,515L422.1,516.4L423.6,517.7L425.1,518.8L426.6,519.8L428.1,520.7L429.6,521.4L431.1,522.1L432.6,522.6L434.1,523L435.6,523.3L437.1,523.6L438.6,523.8L440.1,524L441.6,524.1L443.1,524.2L444.6,524.3L446.1,524.3L447.6,524.4L449.1,524.4L450.6,524.4L452.1,524.5L453.6,524.5L455.1,524.5L456.6,524.5L458.1,524.5L459.6,524.6L461.1,524.6L462.6,524.6L464.1,524.6L465.6,524.6L467.1,524.6L468.6,524.6L470.1,524.6L471.6,524.6L473.1,524.6L474.6,524.6L476.1,524.7L477.6,524.7L479.1,524.7L480.6,524.7L482.1,524.7L483.6,524.7L483.6,524.8Z" fill="#f65ad5" fill-opacity="0.42" stroke="none"/>
<path d="M327.6,524.7L329.1,524.7L330.6,524.7L332.1,524.7L333.6,524.7L335.1,524.7L336.6,524.6L338.1,524.6L339.6,524.6L341.1,524.6L342.6,524.6L344.1,524.6L345.6,524.6L347.1,524.6L348.6,524.6L350.1,524.6L351.6,524.6L353.1,524.5L354.6,524.5L356.1,524.5L357.6,524.5L359.1,524.5L360.6,524.4L362.1,524.4L363.6,524.4L365.1,524.3L366.6,524.3L368.1,524.2L369.6,524.1L371.1,524L372.6,523.8L374.1,523.6L375.6,523.3L377.1,523L378.6,522.6L380.1,522.1L381.6,521.4L383.1,520.7L384.6,519.8L386.1,518.8L387.6,517.7L389.1,516.4L390.6,515L392.1,513.5L393.6,512L395.1,510.4L396.6,508.9L398.1,507.4L399.6,506.1L401.1,505L402.6,504.2L404.1,503.7L405.6,503.5L407.1,503.7L408.6,504.2L410.1,505L411.6,506.1L413.1,507.4L414.6,508.9L416.1,510.4L417.6,512L419.1,513.5L420.6,515L422.1,516.4L423.6,517.7L425.1,518.8L426.6,519.8L428.1,520.7L429.6,521.4L431.1,522.1L432.6,522.6L434.1,523L435.6,523.3L437.1,523.6L438.6,523.8L440.1,524L441.6,524.1L443.1,524.2L444.6,524.3L446.1,524.3L447.6,524.4L449.1,524.4L450.6,524.4L452.1,524.5L453.6,524.5L455.1,524.5L456.6,524.5L458.1,524.5L459.6,524.6L461.1,524.6L462.6,524.6L464.1,524.6L465.6,524.6L467.1,524.6L468.6,524.6L470.1,524.6L471.6,524.6L473.1,524.6L474.6,524.6L476.1,524.7L477.6,524.7L479.1,524.7L480.6,524.7L482.1,524.7L483.6,524.7" fill="none" stroke="#ff1fb4" stroke-width="1.45" stroke-linejoin="round"/>
<path d="M350.8,524.8L350.8,524.6L352.3,524.5L353.8,524.5L355.3,524.5L356.8,524.5L358.3,524.5L359.8,524.5L361.4,524.5L362.9,524.5L364.4,524.4L365.9,524.4L367.4,524.4L368.9,524.4L370.4,524.4L372,524.3L373.5,524.3L375,524.3L376.5,524.2L378,524.2L379.5,524.2L381,524.1L382.6,524.1L384.1,524L385.6,523.9L387.1,523.8L388.6,523.6L390.1,523.4L391.6,523.2L393.2,522.8L394.7,522.4L396.2,521.8L397.7,521L399.2,520.1L400.7,518.9L402.2,517.5L403.8,515.7L405.3,513.7L406.8,511.4L408.3,508.7L409.8,505.8L411.3,502.6L412.8,499.3L414.4,496L415.9,492.7L417.4,489.7L418.9,487L420.4,484.8L421.9,483.2L423.4,482.4L425,482.4L426.5,483.2L428,484.8L429.5,487L431,489.7L432.5,492.7L434,496L435.6,499.3L437.1,502.6L438.6,505.8L440.1,508.7L441.6,511.4L443.1,513.7L444.6,515.7L446.2,517.5L447.7,518.9L449.2,520.1L450.7,521L452.2,521.8L453.7,522.4L455.2,522.8L456.8,523.2L458.3,523.4L459.8,523.6L461.3,523.8L462.8,523.9L464.3,524L465.8,524.1L467.4,524.1L468.9,524.2L470.4,524.2L471.9,524.2L473.4,524.3L474.9,524.3L476.4,524.3L478,524.4L479.5,524.4L481,524.4L482.5,524.4L484,524.4L485.5,524.5L487,524.5L488.6,524.5L490.1,524.5L491.6,524.5L493.1,524.5L494.6,524.5L496.1,524.5L497.6,524.6L497.6,524.8Z" fill="#f65ad5" fill-opacity="0.42" stroke="none"/>
<path d="M350.8,524.6L352.3,524.5L353.8,524.5L355.3,524.5L356.8,524.5L358.3,524.5L359.8,524.5L361.4,524.5L362.9,524.5L364.4,524.4L365.9,524.4L367.4,524.4L368.9,524.4L370.4,524.4L372,524.3L373.5,524.3L375,524.3L376.5,524.2L378,524.2L379.5,524.2L381,524.1L382.6,524.1L384.1,524L385.6,523.9L387.1,523.8L388.6,523.6L390.1,523.4L391.6,523.2L393.2,522.8L394.7,522.4L396.2,521.8L397.7,521L399.2,520.1L400.7,518.9L402.2,517.5L403.8,515.7L405.3,513.7L406.8,511.4L408.3,508.7L409.8,505.8L411.3,502.6L412.8,499.3L414.4,496L415.9,492.7L417.4,489.7L418.9,487L420.4,484.8L421.9,483.2L423.4,482.4L425,482.4L426.5,483.2L428,484.8L429.5,487L431,489.7L432.5,492.7L434,496L435.6,499.3L437.1,502.6L438.6,505.8L440.1,508.7L441.6,511.4L443.1,513.7L444.6,515.7L446.2,517.5L447.7,518.9L449.2,520.1L450.7,521L452.2,521.8L453.7,522.4L455.2,522.8L456.8,523.2L458.3,523.4L459.8,523.6L461.3,523.8L462.8,523.9L464.3,524L465.8,524.1L467.4,524.1L468.9,524.2L470.4,524.2L471.9,524.2L473.4,524.3L474.9,524.3L476.4,524.3L478,524.4L479.5,524.4L481,524.4L482.5,524.4L484,524.4L485.5,524.5L487,524.5L488.6,524.5L490.1,524.5L491.6,524.5L493.1,524.5L494.6,524.5L496.1,524.5L497.6,524.6" fill="none" stroke="#ff1fb4" stroke-width="1.45" stroke-linejoin="round"/>
<path d="M402.5,524.8L402.5,524.8L404,524.8L405.5,524.8L407,524.8L408.5,524.8L410.1,524.8L411.6,524.8L413.1,524.7L414.6,524.7L416.1,524.7L417.6,524.7L419.1,524.7L420.6,524.7L422.1,524.7L423.7,524.7L425.2,524.7L426.7,524.7L428.2,524.7L429.7,524.7L431.2,524.7L432.7,524.7L434.2,524.7L435.7,524.7L437.3,524.7L438.8,524.7L440.3,524.7L441.8,524.7L443.3,524.6L444.8,524.6L446.3,524.6L447.8,524.6L449.3,524.5L450.9,524.5L452.4,524.4L453.9,524.4L455.4,524.3L456.9,524.1L458.4,524L459.9,523.8L461.4,523.6L462.9,523.4L464.5,523.1L466,522.8L467.5,522.5L469,522.1L470.5,521.7L472,521.2L473.5,520.7L475,520.3L476.5,519.8L478.1,519.3L479.6,518.9L481.1,518.5L482.6,518.2L484.1,518L485.6,517.8L487.1,517.8L488.6,517.9L490.1,518L491.7,518.3L493.2,518.6L494.7,519L496.2,519.4L497.7,519.9L499.2,520.3L500.7,520.8L502.2,521.3L503.7,521.7L505.3,522.1L506.8,522.5L508.3,522.9L509.8,523.2L511.3,523.4L512.8,523.7L514.3,523.9L515.8,524L517.3,524.2L518.9,524.3L520.4,524.4L521.9,524.4L523.4,524.5L524.9,524.5L526.4,524.6L527.9,524.6L529.4,524.6L530.9,524.6L532.5,524.7L534,524.7L535.5,524.7L537,524.7L538.5,524.7L538.5,524.8Z" fill="#3030ea" fill-opacity="0.5" stroke="none"/>
<path d="M402.5,524.8L404,524.8L405.5,524.8L407,524.8L408.5,524.8L410.1,524.8L411.6,524.8L413.1,524.7L414.6,524.7L416.1,524.7L417.6,524.7L419.1,524.7L420.6,524.7L422.1,524.7L423.7,524.7L425.2,524.7L426.7,524.7L428.2,524.7L429.7,524.7L431.2,524.7L432.7,524.7L434.2,524.7L435.7,524.7L437.3,524.7L438.8,524.7L440.3,524.7L441.8,524.7L443.3,524.6L444.8,524.6L446.3,524.6L447.8,524.6L449.3,524.5L450.9,524.5L452.4,524.4L453.9,524.4L455.4,524.3L456.9,524.1L458.4,524L459.9,523.8L461.4,523.6L462.9,523.4L464.5,523.1L466,522.8L467.5,522.5L469,522.1L470.5,521.7L472,521.2L473.5,520.7L475,520.3L476.5,519.8L478.1,519.3L479.6,518.9L481.1,518.5L482.6,518.2L484.1,518L485.6,517.8L487.1,517.8L488.6,517.9L490.1,518L491.7,518.3L493.2,518.6L494.7,519L496.2,519.4L497.7,519.9L499.2,520.3L500.7,520.8L502.2,521.3L503.7,521.7L505.3,522.1L506.8,522.5L508.3,522.9L509.8,523.2L511.3,523.4L512.8,523.7L514.3,523.9L515.8,524L517.3,524.2L518.9,524.3L520.4,524.4L521.9,524.4L523.4,524.5L524.9,524.5L526.4,524.6L527.9,524.6L529.4,524.6L530.9,524.6L532.5,524.7L534,524.7L535.5,524.7L537,524.7L538.5,524.7" fill="none" stroke="#1c1cff" stroke-width="1.45" stroke-linejoin="round"/>
<path d="M420.5,524.8L420.5,524.7L422,524.7L423.5,524.7L425,524.7L426.6,524.7L428.1,524.7L429.6,524.7L431.1,524.7L432.6,524.7L434.1,524.7L435.6,524.7L437.1,524.7L438.7,524.7L440.2,524.7L441.7,524.7L443.2,524.7L444.7,524.6L446.2,524.6L447.7,524.6L449.2,524.6L450.8,524.6L452.3,524.6L453.8,524.6L455.3,524.6L456.8,524.6L458.3,524.5L459.8,524.5L461.3,524.5L462.9,524.4L464.4,524.4L465.9,524.3L467.4,524.3L468.9,524.2L470.4,524.1L471.9,523.9L473.4,523.7L475,523.5L476.5,523.2L478,522.9L479.5,522.5L481,522L482.5,521.4L484,520.8L485.6,520.1L487.1,519.3L488.6,518.5L490.1,517.6L491.6,516.6L493.1,515.7L494.6,514.7L496.1,513.8L497.7,513L499.2,512.2L500.7,511.6L502.2,511.1L503.7,510.9L505.2,510.8L506.7,510.9L508.2,511.3L509.8,511.8L511.3,512.4L512.8,513.2L514.3,514.1L515.8,515L517.3,515.9L518.8,516.9L520.3,517.8L521.9,518.7L523.4,519.5L524.9,520.3L526.4,521L527.9,521.6L529.4,522.1L530.9,522.6L532.4,523L534,523.3L535.5,523.6L537,523.8L538.5,523.9L538.5,524.8Z" fill="#3030ea" fill-opacity="0.5" stroke="none"/>
<path d="M420.5,524.7L422,524.7L423.5,524.7L425,524.7L426.6,524.7L428.1,524.7L429.6,524.7L431.1,524.7L432.6,524.7L434.1,524.7L435.6,524.7L437.1,524.7L438.7,524.7L440.2,524.7L441.7,524.7L443.2,524.7L444.7,524.6L446.2,524.6L447.7,524.6L449.2,524.6L450.8,524.6L452.3,524.6L453.8,524.6L455.3,524.6L456.8,524.6L458.3,524.5L459.8,524.5L461.3,524.5L462.9,524.4L464.4,524.4L465.9,524.3L467.4,524.3L468.9,524.2L470.4,524.1L471.9,523.9L473.4,523.7L475,523.5L476.5,523.2L478,522.9L479.5,522.5L481,522L482.5,521.4L484,520.8L485.6,520.1L487.1,519.3L488.6,518.5L490.1,517.6L491.6,516.6L493.1,515.7L494.6,514.7L496.1,513.8L497.7,513L499.2,512.2L500.7,511.6L502.2,511.1L503.7,510.9L505.2,510.8L506.7,510.9L508.2,511.3L509.8,511.8L511.3,512.4L512.8,513.2L514.3,514.1L515.8,515L517.3,515.9L518.8,516.9L520.3,517.8L521.9,518.7L523.4,519.5L524.9,520.3L526.4,521L527.9,521.6L529.4,522.1L530.9,522.6L532.4,523L534,523.3L535.5,523.6L537,523.8L538.5,523.9" fill="none" stroke="#1c1cff" stroke-width="1.45" stroke-linejoin="round"/>
<polyline points="0.2" fill="none" stroke="#3a3a3a" stroke-opacity="304,524.5 305.5,524.5 307,524.5 308.5,524.5 310,524.5 311.5,524.5 313,524.5 314.5,524.5 316,524.5 317.5,524.5 319,524.5 320.5,524.4 322,524.4 323.5,524.4 325,524.4 326.5,524.4 328.1,524.4 329.6,524.4 331.1,524.3 332.6,524.3 334.1,524.3 335.6,524.3 337.1,524.2 338.6,524.2 340.1,524.2 341.6,524.1 343.1,524.1 344.6,524 346.1,523.9 347.6,523.8 349.1,523.7 350.6,523.6 352.1,523.4 353.6,523.2 355.1,523 356.6,522.7 358.1,522.4 359.6,522.1 361.1,521.7 362.6,521.3 364.1,520.9 365.6,520.5 367.1,520 368.6,519.5 370.1,519 371.6,518.5 373.1,517.9 374.7,517.2 376.2,516.5 377.7,515.7 379.2,514.7 380.7,513.7 382.2,512.4 383.7,511.1 385.2,509.5 386.7,507.8 388.2,506 389.7,504.1 391.2,502.1 392.7,500 394.2,498 395.7,495.9 397.2,493.9 398.7,492 400.2,490.2 401.7,488.4 403.2,486.7 404.7,485 406.2,483.5 407.7,482 409.2,480.5 410.7,479 412.2,477.5 413.7,476.1 415.2,474.8 416.7,473.6 418.2,472.6 419.7,472 421.2,471.8 422.8,472.2 424.3,473.3 425.8,475 427.3,477.3 428.8,480.2 430.3,483.5 431.8,487.1 433.3,490.9 434.8,494.7 436.3,498.4 437.8,501.9 439.3,505.2 440.8,508.2 442.3,510.9 443.8,513.3 445.3,515.3 446.8,516.9 448.3,518.3 449.8,519.4 451.3,520.2 452.8,520.9 454.3,521.4 455.8,521.7 457.3,521.9 458.8,522 460.3,522 461.8,521.9 463.3,521.7 464.8,521.5 466.3,521.1 467.8,520.8 469.4,520.3 470.9,519.8 472.4,519.2 473.9,518.6 475.4,517.9 476.9,517.1 478.4,516.3 479.9,515.5 481.4,514.6 482.9,513.8 484.4,512.9 485.9,512.1 487.4,511.3 488.9,510.5 490.4,509.7 491.9,509.1 493.4,508.4 494.9,507.9 496.4,507.4 497.9,507.1 499.4,506.8 500.9,506.7 502.4,506.8 503.9,507 505.4,507.4 506.9,507.9 508.4,508.7 509.9,509.5 511.4,510.5 512.9,511.5 514.4,512.6 516,513.8 517.5,514.9 519,516 520.5,517 522,518 523.5,518.9 525,519.7 526.5,520.5 528,521.1 529.5,521.7 531,522.2 532.5,522.6 534,522.9 535.5,523.2 537,523.5 538.5,523.6" stroke-width="1.2" stroke-linejoin="round"/>
<polyline points="520.5,517.5 522,518.4 523.5,519.2 525,520 526.5,520.7 528,521.4 529.5,521.9 531,522.4 532.5,522.8 534,523.1 535.5,523.4 537,523.6 538.5,523.8" fill="none" stroke="#0a0a6a" stroke-width="1.5" stroke-opacity="0.62" stroke-linejoin="round"/>
<polyline points="349.1,524 350.6,523.9 352.1,523.8 353.6,523.6 355.1,523.4 356.6,523.2" fill="none" stroke="#6a4a10" stroke-width="1.5" stroke-opacity="0.62" stroke-linejoin="round"/>
<line x1="304" y1="525.3" x2="538.5" y2="525.3" stroke="#ff1fb4" stroke-width="1.6"/>
<line x1="304" y1="524.6" x2="538.5" y2="524.6" stroke="#1414ff" stroke-width="1.9"/>
<g fill="#555" fill-opacity="0.7">
<circle cx="304.6" cy="642.1" r="0.65"/><circle cx="305.5" cy="647.7" r="0.65"/><circle cx="307.3" cy="648" r="0.65"/><circle cx="307.9" cy="641.7" r="0.65"/><circle cx="309.5" cy="644.7" r="0.65"/><circle cx="311.2" cy="648" r="0.65"/><circle cx="312.5" cy="652" r="0.65"/><circle cx="313.4" cy="647.6" r="0.65"/><circle cx="314.4" cy="644.8" r="0.65"/><circle cx="315.7" cy="650.5" r="0.65"/><circle cx="317.2" cy="644.9" r="0.65"/><circle cx="318.5" cy="644.4" r="0.65"/><circle cx="320" cy="650.1" r="0.65"/><circle cx="320.3" cy="644.9" r="0.65"/><circle cx="321.5" cy="650.9" r="0.65"/><circle cx="323.1" cy="651.4" r="0.65"/><circle cx="324.4" cy="648" r="0.65"/><circle cx="325.8" cy="644.1" r="0.65"/><circle cx="327" cy="649.6" r="0.65"/><circle cx="328.6" cy="647.4" r="0.65"/><circle cx="329.2" cy="646.2" r="0.65"/><circle cx="330.3" cy="649" r="0.65"/><circle cx="332.1" cy="647.6" r="0.65"/><circle cx="333.3" cy="641.4" r="0.65"/><circle cx="334.9" cy="648.1" r="0.65"/><circle cx="335.7" cy="649" r="0.65"/><circle cx="337.2" cy="649.8" r="0.65"/><circle cx="337.9" cy="649.2" r="0.65"/><circle cx="339.2" cy="648.3" r="0.65"/><circle cx="340.8" cy="638.3" r="0.65"/><circle cx="342" cy="645.6" r="0.65"/><circle cx="343.5" cy="648.1" r="0.65"/><circle cx="344.3" cy="648.1" r="0.65"/><circle cx="345.5" cy="647.9" r="0.65"/><circle cx="347.2" cy="647.8" r="0.65"/><circle cx="348.3" cy="640.4" r="0.65"/><circle cx="349.4" cy="645.1" r="0.65"/><circle cx="351.1" cy="645.4" r="0.65"/><circle cx="351.9" cy="644.7" r="0.65"/><circle cx="353.3" cy="646.4" r="0.65"/><circle cx="354.7" cy="640.2" r="0.65"/><circle cx="356" cy="649.2" r="0.65"/><circle cx="356.9" cy="638.1" r="0.65"/><circle cx="358.4" cy="643.9" r="0.65"/><circle cx="359.7" cy="648.3" r="0.65"/><circle cx="360.8" cy="646.2" r="0.65"/><circle cx="362" cy="640.9" r="0.65"/><circle cx="363.4" cy="646.5" r="0.65"/><circle cx="364.6" cy="646.1" r="0.65"/><circle cx="366.3" cy="647" r="0.65"/><circle cx="367" cy="644.1" r="0.65"/><circle cx="368.4" cy="643.6" r="0.65"/><circle cx="369.2" cy="644.6" r="0.65"/><circle cx="370.8" cy="643.6" r="0.65"/><circle cx="372.6" cy="638.5" r="0.65"/><circle cx="373.3" cy="642" r="0.65"/><circle cx="374.6" cy="636.1" r="0.65"/><circle cx="376.3" cy="641.6" r="0.65"/><circle cx="377.4" cy="635" r="0.65"/><circle cx="378.8" cy="640" r="0.65"/><circle cx="379.3" cy="637.8" r="0.65"/><circle cx="381.1" cy="640" r="0.65"/><circle cx="382.3" cy="629.1" r="0.65"/><circle cx="383.4" cy="629.7" r="0.65"/><circle cx="385" cy="634.1" r="0.65"/><circle cx="386.3" cy="628.1" r="0.65"/><circle cx="387.4" cy="628" r="0.65"/><circle cx="388.8" cy="624.3" r="0.65"/><circle cx="389.9" cy="631.9" r="0.65"/><circle cx="390.7" cy="619.7" r="0.65"/><circle cx="392.4" cy="621.7" r="0.65"/><circle cx="393.9" cy="619.6" r="0.65"/><circle cx="394.4" cy="614.6" r="0.65"/><circle cx="395.6" cy="614.1" r="0.65"/><circle cx="396.9" cy="621.4" r="0.65"/><circle cx="398.8" cy="614.6" r="0.65"/><circle cx="399.7" cy="605.6" r="0.65"/><circle cx="401" cy="598.5" r="0.65"/><circle cx="402.1" cy="599.4" r="0.65"/><circle cx="403.2" cy="596.2" r="0.65"/><circle cx="404.6" cy="594.4" r="0.65"/><circle cx="405.7" cy="592.6" r="0.65"/><circle cx="407.3" cy="597.9" r="0.65"/><circle cx="408.6" cy="586.8" r="0.65"/><circle cx="409.3" cy="589.3" r="0.65"/><circle cx="410.5" cy="589.4" r="0.65"/><circle cx="412" cy="581.6" r="0.65"/><circle cx="413.6" cy="586.1" r="0.65"/><circle cx="414.5" cy="582.3" r="0.65"/><circle cx="416" cy="578.4" r="0.65"/><circle cx="417" cy="578.2" r="0.65"/><circle cx="418.7" cy="580.7" r="0.65"/><circle cx="419.7" cy="575.7" r="0.65"/><circle cx="421" cy="580.1" r="0.65"/><circle cx="422.4" cy="578" r="0.65"/><circle cx="423.4" cy="574" r="0.65"/><circle cx="425" cy="591" r="0.65"/><circle cx="426.2" cy="580.7" r="0.65"/><circle cx="426.8" cy="587.4" r="0.65"/><circle cx="428" cy="581.2" r="0.65"/><circle cx="429.6" cy="587.5" r="0.65"/><circle cx="431.1" cy="598.6" r="0.65"/><circle cx="432.1" cy="597.2" r="0.65"/><circle cx="433.1" cy="601.3" r="0.65"/><circle cx="435.1" cy="607.4" r="0.65"/><circle cx="436.3" cy="608" r="0.65"/><circle cx="437.7" cy="614.6" r="0.65"/><circle cx="438.5" cy="619.1" r="0.65"/><circle cx="440.3" cy="620.4" r="0.65"/><circle cx="440.7" cy="620.8" r="0.65"/><circle cx="442.6" cy="622.2" r="0.65"/><circle cx="443.9" cy="626.5" r="0.65"/><circle cx="445.1" cy="633.3" r="0.65"/><circle cx="445.6" cy="630.7" r="0.65"/><circle cx="447.5" cy="638.4" r="0.65"/><circle cx="448.9" cy="637.6" r="0.65"/><circle cx="449.7" cy="635.7" r="0.65"/><circle cx="450.7" cy="637.1" r="0.65"/><circle cx="452.4" cy="648.5" r="0.65"/><circle cx="453.1" cy="630.2" r="0.65"/><circle cx="455.2" cy="638.5" r="0.65"/><circle cx="456" cy="641.6" r="0.65"/><circle cx="457.4" cy="641.3" r="0.65"/><circle cx="458.9" cy="644.2" r="0.65"/><circle cx="460" cy="639" r="0.65"/><circle cx="461.6" cy="639.9" r="0.65"/><circle cx="462" cy="645.9" r="0.65"/><circle cx="463.4" cy="638" r="0.65"/><circle cx="464.9" cy="641.3" r="0.65"/><circle cx="466" cy="643.8" r="0.65"/><circle cx="467" cy="645" r="0.65"/><circle cx="468.7" cy="642.1" r="0.65"/><circle cx="469.9" cy="648.4" r="0.65"/><circle cx="471" cy="641.7" r="0.65"/><circle cx="472.2" cy="643.3" r="0.65"/><circle cx="473.4" cy="642.3" r="0.65"/><circle cx="475.3" cy="643.2" r="0.65"/><circle cx="476.2" cy="641.6" r="0.65"/><circle cx="477.2" cy="643.6" r="0.65"/><circle cx="478.2" cy="647.3" r="0.65"/><circle cx="480" cy="636.7" r="0.65"/><circle cx="480.8" cy="640.1" r="0.65"/><circle cx="482" cy="633.8" r="0.65"/><circle cx="483.6" cy="640.3" r="0.65"/><circle cx="485.2" cy="637.8" r="0.65"/><circle cx="486.5" cy="634.1" r="0.65"/><circle cx="487.5" cy="631.5" r="0.65"/><circle cx="489" cy="635.7" r="0.65"/><circle cx="489.8" cy="640.1" r="0.65"/><circle cx="490.8" cy="637.3" r="0.65"/><circle cx="492" cy="631.4" r="0.65"/><circle cx="493.4" cy="628.3" r="0.65"/><circle cx="495.1" cy="632.4" r="0.65"/><circle cx="496.6" cy="627.4" r="0.65"/><circle cx="497.5" cy="625.7" r="0.65"/><circle cx="498.2" cy="626" r="0.65"/><circle cx="499.6" cy="625.7" r="0.65"/><circle cx="500.8" cy="623" r="0.65"/><circle cx="502.6" cy="622.7" r="0.65"/><circle cx="503.6" cy="627.3" r="0.65"/><circle cx="504.6" cy="621.3" r="0.65"/><circle cx="505.9" cy="633" r="0.65"/><circle cx="507.8" cy="625.2" r="0.65"/><circle cx="509" cy="626.4" r="0.65"/><circle cx="509.4" cy="628.3" r="0.65"/><circle cx="511.6" cy="625.1" r="0.65"/><circle cx="512.7" cy="625.3" r="0.65"/><circle cx="514.2" cy="632.4" r="0.65"/><circle cx="514.6" cy="630" r="0.65"/><circle cx="516.5" cy="633.1" r="0.65"/><circle cx="517.2" cy="631.2" r="0.65"/><circle cx="518.8" cy="636.8" r="0.65"/><circle cx="519.9" cy="632.5" r="0.65"/><circle cx="520.7" cy="633.7" r="0.65"/><circle cx="522" cy="640.1" r="0.65"/><circle cx="524.2" cy="638.6" r="0.65"/><circle cx="524.6" cy="636.6" r="0.65"/><circle cx="526.2" cy="638.6" r="0.65"/><circle cx="527.6" cy="634.3" r="0.65"/><circle cx="528.8" cy="635.1" r="0.65"/><circle cx="529.5" cy="637.9" r="0.65"/><circle cx="531.1" cy="643.7" r="0.65"/><circle cx="532" cy="639.1" r="0.65"/><circle cx="533.9" cy="639.9" r="0.65"/><circle cx="534.8" cy="645.2" r="0.65"/><circle cx="535.9" cy="644.4" r="0.65"/><circle cx="537.5" cy="644.5" r="0.65"/><circle cx="538.8" cy="645.2" r="0.65"/><circle cx="539.6" cy="645.6" r="0.65"/><circle cx="541.5" cy="645.6" r="0.65"/>
</g>
<polyline points="304,645.9 305.5,645.9 307,645.9 308.5,645.9 310,645.9 311.5,645.9 313,645.8 314.5,645.8 316.1,645.8 317.6,645.8 319.1,645.8 320.6,645.8 322.1,645.8 323.6,645.8 325.1,645.7 326.6,645.7 328.1,645.7 329.6,645.7 331.1,645.7 332.6,645.7 334.1,645.6 335.6,645.6 337.1,645.6 338.6,645.6 340.2,645.6 341.7,645.5 343.2,645.5 344.7,645.5 346.2,645.4 347.7,645.4 349.2,645.4 350.7,645.3 352.2,645.3 353.7,645.2 355.2,645.1 356.7,645.1 358.2,645 359.7,644.9 361.2,644.8 362.7,644.6 364.3,644.4 365.8,644.1 367.3,643.8 368.8,643.4 370.3,643 371.8,642.4 373.3,641.7 374.8,640.9 376.3,639.9 377.8,638.7 379.3,637.4 380.8,635.9 382.3,634.2 383.8,632.3 385.3,630.3 386.8,628.1 388.4,625.7 389.9,623.2 391.4,620.7 392.9,618 394.4,615.3 395.9,612.6 397.4,609.9 398.9,607.2 400.4,604.5 401.9,601.9 403.4,599.4 404.9,596.9 406.4,594.6 407.9,592.4 409.4,590.3 410.9,588.2 412.5,586.2 414,584.3 415.5,582.5 417,581 418.5,579.8 420,579.1 421.5,578.9 423,579.4 424.5,580.6 426,582.5 427.5,585.2 429,588.5 430.5,592.2 432,596.4 433.5,600.8 435.1,605.2 436.6,609.7 438.1,614.1 439.6,618.2 441.1,622 442.6,625.6 444.1,628.7 445.6,631.5 447.1,633.9 448.6,636 450.1,637.7 451.6,639.1 453.1,640.2 454.6,641.2 456.1,641.9 457.6,642.4 459.2,642.8 460.7,643.1 462.2,643.2 463.7,643.3 465.2,643.3 466.7,643.2 468.2,643 469.7,642.8 471.2,642.5 472.7,642.1 474.2,641.7 475.7,641.2 477.2,640.6 478.7,639.9 480.2,639.2 481.7,638.4 483.3,637.5 484.8,636.6 486.3,635.7 487.8,634.7 489.3,633.7 490.8,632.7 492.3,631.8 493.8,630.8 495.3,630 496.8,629.2 498.3,628.4 499.8,627.8 501.3,627.2 502.8,626.8 504.3,626.5 505.8,626.4 507.4,626.4 508.9,626.6 510.4,627.1 511.9,627.7 513.4,628.5 514.9,629.4 516.4,630.5 517.9,631.6 519.4,632.9 520.9,634.1 522.4,635.3 523.9,636.5 525.4,637.7 526.9,638.7 528.4,639.7 529.9,640.6 531.5,641.5 533,642.2 534.5,642.8 536,643.3 537.5,643.8 539,644.1 540.5,644.5 542,644.7" fill="none" stroke="#8a8a8a" stroke-width="1.25" stroke-linejoin="round"/>
<path d="M318.9,646.2L318.9,646.2L320.4,646.2L321.9,646.2L323.4,646.2L324.9,646.2L326.4,646.2L327.9,646.2L329.4,646.2L330.9,646.2L332.4,646.1L334,646.1L335.5,646.1L337,646.1L338.5,646.1L340,646.1L341.5,646.1L343,646.1L344.5,646.1L346,646.1L347.5,646.1L349,646.1L350.5,646.1L352,646.1L353.5,646.1L355,646L356.5,646L358,646L359.5,645.9L361,645.9L362.6,645.8L364.1,645.7L365.6,645.6L367.1,645.4L368.6,645.2L370.1,645L371.6,644.7L373.1,644.4L374.6,644L376.1,643.6L377.6,643.2L379.1,642.7L380.6,642.2L382.1,641.7L383.6,641.3L385.1,640.9L386.6,640.6L388.1,640.3L389.6,640.2L391.2,640.2L392.7,640.3L394.2,640.6L395.7,640.9L397.2,641.3L398.7,641.7L400.2,642.2L401.7,642.7L403.2,643.2L404.7,643.6L406.2,644L407.7,644.4L409.2,644.7L410.7,645L412.2,645.2L413.7,645.4L415.2,645.6L416.7,645.7L418.2,645.8L419.8,645.9L421.3,645.9L422.8,646L424.3,646L425.8,646L427.3,646.1L428.8,646.1L430.3,646.1L431.8,646.1L433.3,646.1L434.8,646.1L436.3,646.1L437.8,646.1L439.3,646.1L440.8,646.1L442.3,646.1L443.8,646.1L445.3,646.1L446.8,646.1L448.4,646.1L449.9,646.2L451.4,646.2L452.9,646.2L454.4,646.2L455.9,646.2L457.4,646.2L458.9,646.2L460.4,646.2L461.9,646.2L461.9,646.2Z" fill="#fba204" fill-opacity="0.5" stroke="none"/>
<path d="M318.9,646.2L320.4,646.2L321.9,646.2L323.4,646.2L324.9,646.2L326.4,646.2L327.9,646.2L329.4,646.2L330.9,646.2L332.4,646.1L334,646.1L335.5,646.1L337,646.1L338.5,646.1L340,646.1L341.5,646.1L343,646.1L344.5,646.1L346,646.1L347.5,646.1L349,646.1L350.5,646.1L352,646.1L353.5,646.1L355,646L356.5,646L358,646L359.5,645.9L361,645.9L362.6,645.8L364.1,645.7L365.6,645.6L367.1,645.4L368.6,645.2L370.1,645L371.6,644.7L373.1,644.4L374.6,644L376.1,643.6L377.6,643.2L379.1,642.7L380.6,642.2L382.1,641.7L383.6,641.3L385.1,640.9L386.6,640.6L388.1,640.3L389.6,640.2L391.2,640.2L392.7,640.3L394.2,640.6L395.7,640.9L397.2,641.3L398.7,641.7L400.2,642.2L401.7,642.7L403.2,643.2L404.7,643.6L406.2,644L407.7,644.4L409.2,644.7L410.7,645L412.2,645.2L413.7,645.4L415.2,645.6L416.7,645.7L418.2,645.8L419.8,645.9L421.3,645.9L422.8,646L424.3,646L425.8,646L427.3,646.1L428.8,646.1L430.3,646.1L431.8,646.1L433.3,646.1L434.8,646.1L436.3,646.1L437.8,646.1L439.3,646.1L440.8,646.1L442.3,646.1L443.8,646.1L445.3,646.1L446.8,646.1L448.4,646.1L449.9,646.2L451.4,646.2L452.9,646.2L454.4,646.2L455.9,646.2L457.4,646.2L458.9,646.2L460.4,646.2L461.9,646.2" fill="none" stroke="#ffab0c" stroke-width="1.45" stroke-linejoin="round"/>
<path d="M326.1,646.2L326.1,646L327.6,646L329.1,646L330.6,646L332.1,646L333.6,646L335.1,646L336.6,646L338.1,646L339.6,646L341.1,646L342.6,645.9L344.1,645.9L345.6,645.9L347.1,645.9L348.6,645.9L350.1,645.9L351.6,645.8L353.1,645.8L354.6,645.8L356.1,645.8L357.6,645.7L359.1,645.7L360.6,645.7L362.1,645.6L363.6,645.6L365.1,645.5L366.6,645.4L368.1,645.2L369.6,645.1L371.1,644.8L372.6,644.6L374.1,644.2L375.6,643.8L377.1,643.2L378.6,642.5L380.1,641.6L381.6,640.6L383.1,639.4L384.6,638.1L386.1,636.5L387.6,634.8L389.1,632.9L390.6,630.8L392.1,628.7L393.6,626.6L395.1,624.5L396.6,622.6L398.1,620.8L399.6,619.3L401.1,618.2L402.6,617.4L404.1,617.2L405.6,617.4L407.1,618.2L408.6,619.3L410.1,620.8L411.6,622.6L413.1,624.5L414.6,626.6L416.1,628.7L417.6,630.8L419.1,632.9L420.6,634.8L422.1,636.5L423.6,638.1L425.1,639.4L426.6,640.6L428.1,641.6L429.6,642.5L431.1,643.2L432.6,643.8L434.1,644.2L435.6,644.6L437.1,644.8L438.6,645.1L440.1,645.2L441.6,645.4L443.1,645.5L444.6,645.6L446.1,645.6L447.6,645.7L449.1,645.7L450.6,645.7L452.1,645.8L453.6,645.8L455.1,645.8L456.6,645.8L458.1,645.9L459.6,645.9L461.1,645.9L462.6,645.9L464.1,645.9L465.6,645.9L467.1,646L468.6,646L470.1,646L471.6,646L473.1,646L474.6,646L476.1,646L477.6,646L479.1,646L480.6,646L482.1,646L482.1,646.2Z" fill="#f65ad5" fill-opacity="0.42" stroke="none"/>
<path d="M326.1,646L327.6,646L329.1,646L330.6,646L332.1,646L333.6,646L335.1,646L336.6,646L338.1,646L339.6,646L341.1,646L342.6,645.9L344.1,645.9L345.6,645.9L347.1,645.9L348.6,645.9L350.1,645.9L351.6,645.8L353.1,645.8L354.6,645.8L356.1,645.8L357.6,645.7L359.1,645.7L360.6,645.7L362.1,645.6L363.6,645.6L365.1,645.5L366.6,645.4L368.1,645.2L369.6,645.1L371.1,644.8L372.6,644.6L374.1,644.2L375.6,643.8L377.1,643.2L378.6,642.5L380.1,641.6L381.6,640.6L383.1,639.4L384.6,638.1L386.1,636.5L387.6,634.8L389.1,632.9L390.6,630.8L392.1,628.7L393.6,626.6L395.1,624.5L396.6,622.6L398.1,620.8L399.6,619.3L401.1,618.2L402.6,617.4L404.1,617.2L405.6,617.4L407.1,618.2L408.6,619.3L410.1,620.8L411.6,622.6L413.1,624.5L414.6,626.6L416.1,628.7L417.6,630.8L419.1,632.9L420.6,634.8L422.1,636.5L423.6,638.1L425.1,639.4L426.6,640.6L428.1,641.6L429.6,642.5L431.1,643.2L432.6,643.8L434.1,644.2L435.6,644.6L437.1,644.8L438.6,645.1L440.1,645.2L441.6,645.4L443.1,645.5L444.6,645.6L446.1,645.6L447.6,645.7L449.1,645.7L450.6,645.7L452.1,645.8L453.6,645.8L455.1,645.8L456.6,645.8L458.1,645.9L459.6,645.9L461.1,645.9L462.6,645.9L464.1,645.9L465.6,645.9L467.1,646L468.6,646L470.1,646L471.6,646L473.1,646L474.6,646L476.1,646L477.6,646L479.1,646L480.6,646L482.1,646" fill="none" stroke="#ff1fb4" stroke-width="1.45" stroke-linejoin="round"/>
<path d="M344.2,646.2L344.2,645.9L345.8,645.9L347.3,645.8L348.8,645.8L350.3,645.8L351.8,645.8L353.3,645.8L354.8,645.8L356.3,645.7L357.8,645.7L359.3,645.7L360.8,645.7L362.4,645.7L363.9,645.6L365.4,645.6L366.9,645.6L368.4,645.5L369.9,645.5L371.4,645.5L372.9,645.4L374.4,645.4L375.9,645.3L377.4,645.3L378.9,645.2L380.5,645.1L382,645L383.5,644.8L385,644.7L386.5,644.4L388,644.1L389.5,643.8L391,643.3L392.5,642.7L394,641.9L395.5,640.9L397,639.7L398.6,638.3L400.1,636.5L401.6,634.4L403.1,632L404.6,629.2L406.1,626L407.6,622.5L409.1,618.8L410.6,614.8L412.1,610.6L413.6,606.5L415.1,602.4L416.7,598.6L418.2,595.1L419.7,592.2L421.2,590L422.7,588.7L424.2,588.2L425.7,588.7L427.2,590L428.7,592.2L430.2,595.1L431.7,598.6L433.3,602.4L434.8,606.5L436.3,610.6L437.8,614.8L439.3,618.8L440.8,622.5L442.3,626L443.8,629.2L445.3,632L446.8,634.4L448.3,636.5L449.8,638.3L451.4,639.7L452.9,640.9L454.4,641.9L455.9,642.7L457.4,643.3L458.9,643.8L460.4,644.1L461.9,644.4L463.4,644.7L464.9,644.8L466.4,645L467.9,645.1L469.5,645.2L471,645.3L472.5,645.3L474,645.4L475.5,645.4L477,645.5L478.5,645.5L480,645.5L481.5,645.6L483,645.6L484.5,645.6L486,645.7L487.6,645.7L489.1,645.7L490.6,645.7L492.1,645.7L493.6,645.8L495.1,645.8L496.6,645.8L498.1,645.8L499.6,645.8L501.1,645.8L502.6,645.9L504.1,645.9L504.1,646.2Z" fill="#f65ad5" fill-opacity="0.42" stroke="none"/>
<path d="M344.2,645.9L345.8,645.9L347.3,645.8L348.8,645.8L350.3,645.8L351.8,645.8L353.3,645.8L354.8,645.8L356.3,645.7L357.8,645.7L359.3,645.7L360.8,645.7L362.4,645.7L363.9,645.6L365.4,645.6L366.9,645.6L368.4,645.5L369.9,645.5L371.4,645.5L372.9,645.4L374.4,645.4L375.9,645.3L377.4,645.3L378.9,645.2L380.5,645.1L382,645L383.5,644.8L385,644.7L386.5,644.4L388,644.1L389.5,643.8L391,643.3L392.5,642.7L394,641.9L395.5,640.9L397,639.7L398.6,638.3L400.1,636.5L401.6,634.4L403.1,632L404.6,629.2L406.1,626L407.6,622.5L409.1,618.8L410.6,614.8L412.1,610.6L413.6,606.5L415.1,602.4L416.7,598.6L418.2,595.1L419.7,592.2L421.2,590L422.7,588.7L424.2,588.2L425.7,588.7L427.2,590L428.7,592.2L430.2,595.1L431.7,598.6L433.3,602.4L434.8,606.5L436.3,610.6L437.8,614.8L439.3,618.8L440.8,622.5L442.3,626L443.8,629.2L445.3,632L446.8,634.4L448.3,636.5L449.8,638.3L451.4,639.7L452.9,640.9L454.4,641.9L455.9,642.7L457.4,643.3L458.9,643.8L460.4,644.1L461.9,644.4L463.4,644.7L464.9,644.8L466.4,645L467.9,645.1L469.5,645.2L471,645.3L472.5,645.3L474,645.4L475.5,645.4L477,645.5L478.5,645.5L480,645.5L481.5,645.6L483,645.6L484.5,645.6L486,645.7L487.6,645.7L489.1,645.7L490.6,645.7L492.1,645.7L493.6,645.8L495.1,645.8L496.6,645.8L498.1,645.8L499.6,645.8L501.1,645.8L502.6,645.9L504.1,645.9" fill="none" stroke="#ff1fb4" stroke-width="1.45" stroke-linejoin="round"/>
<path d="M408.5,646.2L408.5,646.2L410,646.2L411.5,646.2L413,646.2L414.5,646.1L416,646.1L417.5,646.1L419,646.1L420.5,646.1L422,646.1L423.5,646.1L425,646.1L426.5,646.1L428,646.1L429.5,646.1L431,646.1L432.5,646.1L434,646.1L435.5,646.1L437,646.1L438.5,646.1L440,646.1L441.5,646.1L443,646.1L444.5,646.1L446,646.1L447.5,646L449,646L450.5,646L452,646L453.5,646L455,645.9L456.5,645.9L458,645.8L459.5,645.7L461,645.6L462.5,645.5L464,645.4L465.5,645.2L467,645L468.5,644.8L470,644.5L471.5,644.2L473,643.8L474.5,643.4L476,642.9L477.5,642.5L479,642L480.5,641.5L482,640.9L483.5,640.4L485,640L486.5,639.5L488,639.2L489.5,638.9L491,638.7L492.5,638.6L494,638.6L495.5,638.7L497,639L498.5,639.3L500,639.7L501.5,640.1L503,640.6L504.5,641.1L506,641.6L507.5,642.1L509,642.6L510.5,643.1L512,643.5L513.5,643.9L515,644.3L516.5,644.6L518,644.8L519.5,645.1L521,645.3L522.5,645.4L524,645.6L525.5,645.7L527,645.8L528.5,645.8L530,645.9L531.5,645.9L533,646L534.5,646L536,646L537.5,646L539,646.1L540.5,646.1L542,646.1L542,646.2Z" fill="#3030ea" fill-opacity="0.5" stroke="none"/>
<path d="M408.5,646.2L410,646.2L411.5,646.2L413,646.2L414.5,646.1L416,646.1L417.5,646.1L419,646.1L420.5,646.1L422,646.1L423.5,646.1L425,646.1L426.5,646.1L428,646.1L429.5,646.1L431,646.1L432.5,646.1L434,646.1L435.5,646.1L437,646.1L438.5,646.1L440,646.1L441.5,646.1L443,646.1L444.5,646.1L446,646.1L447.5,646L449,646L450.5,646L452,646L453.5,646L455,645.9L456.5,645.9L458,645.8L459.5,645.7L461,645.6L462.5,645.5L464,645.4L465.5,645.2L467,645L468.5,644.8L470,644.5L471.5,644.2L473,643.8L474.5,643.4L476,642.9L477.5,642.5L479,642L480.5,641.5L482,640.9L483.5,640.4L485,640L486.5,639.5L488,639.2L489.5,638.9L491,638.7L492.5,638.6L494,638.6L495.5,638.7L497,639L498.5,639.3L500,639.7L501.5,640.1L503,640.6L504.5,641.1L506,641.6L507.5,642.1L509,642.6L510.5,643.1L512,643.5L513.5,643.9L515,644.3L516.5,644.6L518,644.8L519.5,645.1L521,645.3L522.5,645.4L524,645.6L525.5,645.7L527,645.8L528.5,645.8L530,645.9L531.5,645.9L533,646L534.5,646L536,646L537.5,646L539,646.1L540.5,646.1L542,646.1" fill="none" stroke="#1c1cff" stroke-width="1.45" stroke-linejoin="round"/>
<path d="M425.5,646.2L425.5,646.1L427,646.1L428.5,646.1L430,646.1L431.6,646.1L433.1,646.1L434.6,646.1L436.1,646.1L437.6,646.1L439.1,646.1L440.6,646.1L442.1,646.1L443.7,646.1L445.2,646.1L446.7,646L448.2,646L449.7,646L451.2,646L452.7,646L454.2,646L455.8,646L457.3,646L458.8,646L460.3,645.9L461.8,645.9L463.3,645.9L464.8,645.9L466.4,645.8L467.9,645.8L469.4,645.8L470.9,645.7L472.4,645.6L473.9,645.5L475.4,645.4L476.9,645.2L478.5,645L480,644.7L481.5,644.4L483,644L484.5,643.6L486,643.1L487.5,642.4L489,641.7L490.6,640.9L492.1,640.1L493.6,639.1L495.1,638.1L496.6,637.1L498.1,636L499.6,635L501.1,633.9L502.7,633L504.2,632.2L505.7,631.5L507.2,631L508.7,630.7L510.2,630.6L511.7,630.7L513.3,631.1L514.8,631.7L516.3,632.4L517.8,633.3L519.3,634.2L520.8,635.3L522.3,636.3L523.8,637.4L525.4,638.4L526.9,639.4L528.4,640.3L529.9,641.2L531.4,642L532.9,642.6L534.4,643.2L535.9,643.7L537.5,644.2L539,644.5L540.5,644.8L542,645.1L542,646.2Z" fill="#3030ea" fill-opacity="0.5" stroke="none"/>
<path d="M425.5,646.1L427,646.1L428.5,646.1L430,646.1L431.6,646.1L433.1,646.1L434.6,646.1L436.1,646.1L437.6,646.1L439.1,646.1L440.6,646.1L442.1,646.1L443.7,646.1L445.2,646.1L446.7,646L448.2,646L449.7,646L451.2,646L452.7,646L454.2,646L455.8,646L457.3,646L458.8,646L460.3,645.9L461.8,645.9L463.3,645.9L464.8,645.9L466.4,645.8L467.9,645.8L469.4,645.8L470.9,645.7L472.4,645.6L473.9,645.5L475.4,645.4L476.9,645.2L478.5,645L480,644.7L481.5,644.4L483,644L484.5,643.6L486,643.1L487.5,642.4L489,641.7L490.6,640.9L492.1,640.1L493.6,639.1L495.1,638.1L496.6,637.1L498.1,636L499.6,635L501.1,633.9L502.7,633L504.2,632.2L505.7,631.5L507.2,631L508.7,630.7L510.2,630.6L511.7,630.7L513.3,631.1L514.8,631.7L516.3,632.4L517.8,633.3L519.3,634.2L520.8,635.3L522.3,636.3L523.8,637.4L525.4,638.4L526.9,639.4L528.4,640.3L529.9,641.2L531.4,642L532.9,642.6L534.4,643.2L535.9,643.7L537.5,644.2L539,644.5L540.5,644.8L542,645.1" fill="none" stroke="#1c1cff" stroke-width="1.45" stroke-linejoin="round"/>
<polyline points="0.2" fill="none" stroke="#3a3a3a" stroke-opacity="304,645.9 305.5,645.9 307,645.9 308.5,645.9 310,645.9 311.5,645.9 313,645.8 314.5,645.8 316.1,645.8 317.6,645.8 319.1,645.8 320.6,645.8 322.1,645.8 323.6,645.8 325.1,645.7 326.6,645.7 328.1,645.7 329.6,645.7 331.1,645.7 332.6,645.7 334.1,645.6 335.6,645.6 337.1,645.6 338.6,645.6 340.2,645.6 341.7,645.5 343.2,645.5 344.7,645.5 346.2,645.4 347.7,645.4 349.2,645.4 350.7,645.3 352.2,645.3 353.7,645.2 355.2,645.1 356.7,645.1 358.2,645 359.7,644.9 361.2,644.8 362.7,644.6 364.3,644.4 365.8,644.1 367.3,643.8 368.8,643.4 370.3,643 371.8,642.4 373.3,641.7 374.8,640.9 376.3,639.9 377.8,638.7 379.3,637.4 380.8,635.9 382.3,634.2 383.8,632.3 385.3,630.3 386.8,628.1 388.4,625.7 389.9,623.2 391.4,620.7 392.9,618 394.4,615.3 395.9,612.6 397.4,609.9 398.9,607.2 400.4,604.5 401.9,601.9 403.4,599.4 404.9,596.9 406.4,594.6 407.9,592.4 409.4,590.3 410.9,588.2 412.5,586.2 414,584.3 415.5,582.5 417,581 418.5,579.8 420,579.1 421.5,578.9 423,579.4 424.5,580.6 426,582.5 427.5,585.2 429,588.5 430.5,592.2 432,596.4 433.5,600.8 435.1,605.2 436.6,609.7 438.1,614.1 439.6,618.2 441.1,622 442.6,625.6 444.1,628.7 445.6,631.5 447.1,633.9 448.6,636 450.1,637.7 451.6,639.1 453.1,640.2 454.6,641.2 456.1,641.9 457.6,642.4 459.2,642.8 460.7,643.1 462.2,643.2 463.7,643.3 465.2,643.3 466.7,643.2 468.2,643 469.7,642.8 471.2,642.5 472.7,642.1 474.2,641.7 475.7,641.2 477.2,640.6 478.7,639.9 480.2,639.2 481.7,638.4 483.3,637.5 484.8,636.6 486.3,635.7 487.8,634.7 489.3,633.7 490.8,632.7 492.3,631.8 493.8,630.8 495.3,630 496.8,629.2 498.3,628.4 499.8,627.8 501.3,627.2 502.8,626.8 504.3,626.5 505.8,626.4 507.4,626.4 508.9,626.6 510.4,627.1 511.9,627.7 513.4,628.5 514.9,629.4 516.4,630.5 517.9,631.6 519.4,632.9 520.9,634.1 522.4,635.3 523.9,636.5 525.4,637.7 526.9,638.7 528.4,639.7 529.9,640.6 531.5,641.5 533,642.2 534.5,642.8 536,643.3 537.5,643.8 539,644.1 540.5,644.5 542,644.7" stroke-width="1.2" stroke-linejoin="round"/>
<polyline points="355.2,645.5 356.7,645.4 358.2,645.4 359.7,645.3 361.2,645.2" fill="none" stroke="#5c0a4e" stroke-width="1.5" stroke-opacity="0.62" stroke-linejoin="round"/>
<polyline points="445.6,632 447.1,634.4 448.6,636.4 450.1,638.1 451.6,639.5 453.1,640.7 454.6,641.6 456.1,642.3 457.6,642.9" fill="none" stroke="#5c0a4e" stroke-width="1.5" stroke-opacity="0.62" stroke-linejoin="round"/>
<polyline points="523.9,637 525.4,638.1 526.9,639.1 528.4,640.1 529.9,640.9 531.5,641.7 533,642.4 534.5,643 536,643.5 537.5,644 539,644.3 540.5,644.6 542,644.9" fill="none" stroke="#0a0a6a" stroke-width="1.5" stroke-opacity="0.62" stroke-linejoin="round"/>
<line x1="304" y1="646.8" x2="542" y2="646.8" stroke="#ff1fb4" stroke-width="1.6"/>
<line x1="304" y1="646.1" x2="542" y2="646.1" stroke="#1414ff" stroke-width="1.9"/>
<g fill="none" stroke="#454545" stroke-width="1.4" stroke-linecap="butt">
<rect x="28.6" y="7.6" width="244.6" height="650.2"/>
<line x1="28.6" y1="318.7" x2="273.2" y2="318.7"/>
<rect x="301.6" y="8.1" width="243.7" height="651"/>
<line x1="301.6" y1="320.4" x2="545.3" y2="320.4"/>
<path d="M32,318.7v6.2M32,657.8v6.2M51.9,318.7v3.6M51.9,657.8v3.6M71.9,318.7v6.2M71.9,657.8v6.2M91.8,318.7v3.6M91.8,657.8v3.6M111.7,318.7v6.2M111.7,657.8v6.2M131.7,318.7v3.6M131.7,657.8v3.6M151.6,318.7v6.2M151.6,657.8v6.2M171.5,318.7v3.6M171.5,657.8v3.6M191.4,318.7v6.2M191.4,657.8v6.2M211.4,318.7v3.6M211.4,657.8v3.6M231.3,318.7v6.2M231.3,657.8v6.2M251.2,318.7v3.6M251.2,657.8v3.6M271.2,318.7v6.2M271.2,657.8v6.2M303.4,320.4v5.2M303.4,659.1v8.6M319.1,320.4v3M319.1,659.1v4.8M334.8,320.4v5.2M334.8,659.1v8.6M350.5,320.4v3M350.5,659.1v4.8M366.2,320.4v5.2M366.2,659.1v8.6M381.8,320.4v3M381.8,659.1v4.8M397.5,320.4v5.2M397.5,659.1v8.6M413.2,320.4v3M413.2,659.1v4.8M428.9,320.4v5.2M428.9,659.1v8.6M444.6,320.4v3M444.6,659.1v4.8M460.2,320.4v5.2M460.2,659.1v8.6M475.9,320.4v3M475.9,659.1v4.8M491.6,320.4v5.2M491.6,659.1v8.6M507.3,320.4v3M507.3,659.1v4.8M523,320.4v5.2M523,659.1v8.6M538.6,320.4v3M538.6,659.1v4.8" stroke-width="1.3"/>
</g>
<g stroke="#000" stroke-width="0.3" stroke-linejoin="round">
<text transform="translate(30.54,26.20) scale(1.0709,1)" font-size="19">(a).</text>
<text transform="translate(67.37,26.20) scale(1.0822,1)" font-size="19">S 2p</text>
<text transform="translate(30.93,51.30) scale(1.0408,1)" font-size="19.6">s-TiO<tspan font-size="13.3" dy="4.4">2</tspan><tspan dy="-4.4">+SO</tspan><tspan font-size="13.3" dy="4.4">2</tspan></text>
<text transform="translate(29.96,111.60) scale(1.0070,1)" font-size="18.7">Before</text>
<text transform="translate(29.74,190.70) scale(1.0144,1)" font-size="18.7">During</text>
<text transform="translate(31.66,279.10) scale(0.9963,1)" font-size="18.7">After</text>
<text transform="translate(303.85,27.00) scale(1.0591,1)" font-size="19">(b).</text>
<text transform="translate(341.58,27.00) scale(1.0635,1)" font-size="19">S 2p</text>
<text transform="translate(304.35,52.00) scale(1.0397,1)" font-size="19.6">r-TiO<tspan font-size="13.3" dy="4.4">2</tspan><tspan dy="-4.4">+SO</tspan><tspan font-size="13.3" dy="4.4">2</tspan></text>
<text transform="translate(301.95,94.70) scale(1.0089,1)" font-size="18.7">Before</text>
<text transform="translate(301.93,166.00) scale(1.0220,1)" font-size="18.7">During</text>
<text transform="translate(303.76,268.20) scale(1.0040,1)" font-size="18.7">After</text>
<text transform="translate(29.04,353.60) scale(1.0726,1)" font-size="19">(c).</text>
<text transform="translate(65.28,353.60) scale(1.0688,1)" font-size="19">S 2p</text>
<text transform="translate(29.13,379.00) scale(1.0365,1)" font-size="19.6">Mn-doped s-TiO<tspan font-size="13.3" dy="4.4">2</tspan><tspan dy="-4.4">+SO</tspan><tspan font-size="13.3" dy="4.4">2</tspan></text>
<text transform="translate(29.76,415.60) scale(1.0070,1)" font-size="18.7">Before</text>
<text transform="translate(29.74,545.60) scale(1.0144,1)" font-size="18.7">During</text>
<text transform="translate(31.66,615.40) scale(0.9963,1)" font-size="18.7">After</text>
<text transform="translate(302.95,352.00) scale(1.0630,1)" font-size="19">(d).</text>
<text transform="translate(339.28,352.00) scale(1.0715,1)" font-size="19">S 2p</text>
<text transform="translate(303.53,377.60) scale(1.0365,1)" font-size="19.6">Mn-doped r-TiO<tspan font-size="13.3" dy="4.4">2</tspan><tspan dy="-4.4">+SO</tspan><tspan font-size="13.3" dy="4.4">2</tspan></text>
<text transform="translate(302.96,403.00) scale(1.0051,1)" font-size="18.7">Before</text>
<text transform="translate(302.64,496.60) scale(1.0182,1)" font-size="18.7">During</text>
<text transform="translate(304.46,629.30) scale(0.9963,1)" font-size="18.7">After</text>
<text transform="translate(17.64,681.80) scale(0.9808,1)" font-size="18.2">174</text>
<text transform="translate(57.09,681.80) scale(0.9941,1)" font-size="18.2">172</text>
<text transform="translate(96.57,681.80) scale(0.9870,1)" font-size="18.2">170</text>
<text transform="translate(136.04,681.80) scale(0.9898,1)" font-size="18.2">168</text>
<text transform="translate(175.51,681.80) scale(0.9901,1)" font-size="18.2">166</text>
<text transform="translate(214.99,681.80) scale(0.9808,1)" font-size="18.2">164</text>
<text transform="translate(254.44,681.80) scale(0.9941,1)" font-size="18.2">162</text>
<text transform="translate(318.41,683.40) scale(1.0048,1)" font-size="18.2">172</text>
<text transform="translate(381.51,683.40) scale(1.0004,1)" font-size="18.2">168</text>
<text transform="translate(446.93,683.40) scale(0.9913,1)" font-size="18.2">164</text>
<text transform="translate(508.42,683.40) scale(0.9976,1)" font-size="18.2">160</text>
<text transform="translate(78.66,705.40) scale(1.0039,1)" font-size="18.7">Binding Energy (eV)</text>
<text transform="translate(342.16,705.70) scale(1.0045,1)" font-size="18.7">Binding Energy (eV)</text>
<text transform="translate(20.30,496.55) rotate(-90) scale(0.9967,1)" font-size="18.9">Normalised Intensity (arb. units)</text>
<text transform="translate(290.30,496.55) rotate(-90) scale(0.9967,1)" font-size="18.9">Normalised Intensity (arb. units)</text>
<text transform="translate(215.34,29.90) scale(1.0025,1)" font-size="19">SO<tspan font-size="11.8" dy="3.9">4</tspan><tspan font-size="11.8" dy="-11.1">2-</tspan></text>
<text transform="translate(215.34,55.50) scale(1.0025,1)" font-size="19">SO<tspan font-size="11.8" dy="3.9">3</tspan><tspan font-size="11.8" dy="-11.1">2-</tspan></text>
<text transform="translate(482.25,30.60) scale(1.0819,1)" font-size="19.4">SO<tspan font-size="12" dy="3.9">4</tspan><tspan font-size="12" dy="-11.1">2-</tspan></text>
<text transform="translate(482.25,56.00) scale(1.0819,1)" font-size="19.4">SO<tspan font-size="12" dy="3.9">3</tspan><tspan font-size="12" dy="-11.1">2-</tspan></text>
<text transform="translate(482.32,83.00) scale(1.0028,1)" font-size="19.4">S</text>
</g>
<rect x="173.6" y="14.8" width="36.4" height="16.8" fill="#fbd38d" stroke="#fdb43c" stroke-width="1.2"/>
<rect x="173.6" y="40.2" width="36.4" height="17" fill="#fbb9ee" stroke="#ff4cc4" stroke-width="1.2"/>
<rect x="446.8" y="15" width="31" height="15" fill="#fce0a8" stroke="#fbc66e" stroke-width="1.2"/>
<rect x="446.8" y="41.8" width="31" height="15" fill="#fcc6f1" stroke="#ff3eb8" stroke-width="1.2"/>
<rect x="446.8" y="69" width="31" height="15.2" fill="#9d9df0" stroke="#3636ff" stroke-width="1.2"/>
</svg></body></html>
